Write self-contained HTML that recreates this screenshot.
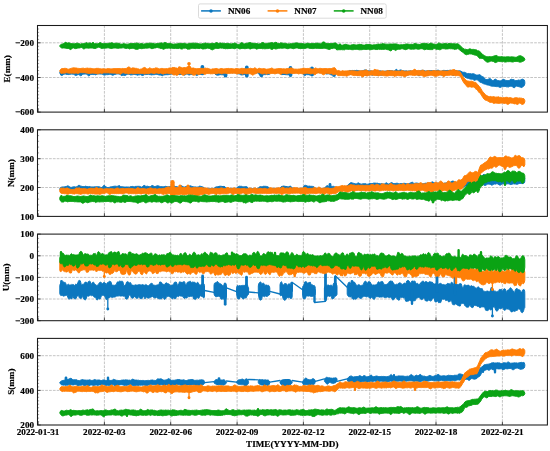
<!DOCTYPE html><html><head><meta charset="utf-8"><title>NN06 NN07 NN08 ENU time series</title><style>html,body{margin:0;padding:0;background:#fff;width:550px;height:451px;overflow:hidden}svg{display:block;filter:blur(0.3px)}</style></head><body><svg width="550" height="451" viewBox="0 0 550 451"><rect width="550" height="451" fill="#fff"/><clipPath id="c0"><rect x="37.5" y="25.5" width="509.9" height="86.6"/></clipPath><g stroke="#b0b0b0" stroke-width="0.75" stroke-dasharray="2.7 1.15"><line x1="104.4" y1="25.5" x2="104.4" y2="112.1"/><line x1="170.7" y1="25.5" x2="170.7" y2="112.1"/><line x1="237.1" y1="25.5" x2="237.1" y2="112.1"/><line x1="303.4" y1="25.5" x2="303.4" y2="112.1"/><line x1="369.7" y1="25.5" x2="369.7" y2="112.1"/><line x1="436" y1="25.5" x2="436" y2="112.1"/><line x1="502.4" y1="25.5" x2="502.4" y2="112.1"/><line x1="37.5" y1="77.5" x2="547.4" y2="77.5"/><line x1="37.5" y1="42.8" x2="547.4" y2="42.8"/></g><g clip-path="url(#c0)"><path d="M59.8,72.3 60.8,70.9 61.8,70.8 62.8,71 63.8,70.7 64.8,70.9 65.8,70.9 66.8,70.7 67.8,70.3 68.8,70.6 69.8,71.1 70.8,71.2 71.8,71.1 72.8,70.8 73.8,70.7 74.8,70.8 75.8,71 76.8,70.9 77.8,70.8 78.8,70.6 79.8,70.2 80.8,70.2 81.8,70.4 82.8,70.6 83.8,70.8 84.8,70.9 85.8,71 86.8,71 87.8,70.2 88.8,69.8 89.8,69.9 90.8,70 91.8,70.1 92.8,70.2 93.8,70.5 94.8,70.8 95.8,70.9 96.8,70 97.8,69.2 98.8,69.7 99.8,70.4 100.8,70 101.8,69.5 102.8,70 103.8,70.7 104.8,71 105.8,71 106.8,71 107.8,70.5 108.8,70.6 109.8,70.4 110.8,69.8 111.8,69.3 112.8,69.9 113.8,70.7 114.8,71.1 115.8,70.9 116.8,71.1 117.8,70.8 118.8,70.6 119.8,70.7 120.8,70.7 121.8,70.9 122.8,70.7 123.8,70.8 124.8,70.9 125.8,70.8 126.8,70.5 127.8,70.7 128.8,70.8 129.8,71.1 130.8,71.3 131.8,71.4 132.8,71.3 133.8,70.9 134.8,70.9 135.8,70.8 136.8,70.6 137.8,70.8 138.8,70.9 139.8,71.1 140.8,71 141.8,70.8 142.8,70.6 143.8,70.5 144.8,70.7 145.8,70.6 146.8,70.4 147.8,70.2 148.8,70.6 149.8,70.2 150.8,69.9 151.8,69.8 152.8,70.3 153.8,70.2 154.8,70 155.8,69.7 156.8,70.5 157.8,70.8 158.8,70.3 159.8,69.8 160.8,70.7 161.8,71 162.8,71 163.8,70.9 164.8,71.2 165.8,71.3 166.8,71.2 167.8,70.9 168.8,70.5 169.8,70.6 170.8,69.7 171.8,69.5 172.8,69.8 173.8,70.8 174.8,70.9 175.8,71 176.8,70.9 177.8,70.7 178.8,70.8 179.8,70.6 180.8,70.9 181.8,70.9 182.8,71.1 183.8,70.8 184.8,71.2 185.8,71 186.8,71 187.8,70.5 188.8,70.5 189.8,70.9 190.8,70.7 191.8,70.6 192.8,70.6 193.8,71 194.8,70.7 195.8,70 196.8,69.9 197.8,69.5 198.8,69.7 199.8,69.7 200.8,69.9 201.8,70.7 202.8,70.7 203.8,71.3 204.5,72.3 204.5,72.9 203.8,73.3 202.8,74 201.8,74.4 200.8,74.4 199.8,74.5 198.8,74.5 197.8,75.1 196.8,75.6 195.8,74.9 194.8,74.4 193.8,74.3 192.8,74.6 191.8,74.5 190.8,74.5 189.8,74.9 188.8,75 187.8,74.3 186.8,73.9 185.8,74.4 184.8,75.2 183.8,74.7 182.8,74.3 181.8,74.3 180.8,74.4 179.8,74.6 178.8,74.5 177.8,74.3 176.8,73.8 175.8,74 174.8,74.1 173.8,74.2 172.8,74.1 171.8,74.1 170.8,74.2 169.8,74.4 168.8,74.6 167.8,74.7 166.8,74.7 165.8,74.7 164.8,74.9 163.8,74.8 162.8,75.7 161.8,75.5 160.8,75.1 159.8,75.1 158.8,74.9 157.8,74.6 156.8,74.4 155.8,74.3 154.8,74.6 153.8,74.7 152.8,74.7 151.8,75 150.8,74.7 149.8,74.7 148.8,74.2 147.8,74.4 146.8,74.5 145.8,74.6 144.8,74.4 143.8,75.1 142.8,75.5 141.8,75.4 140.8,74.6 139.8,74.8 138.8,74.8 137.8,75.3 136.8,74.9 135.8,74.7 134.8,74.5 133.8,74.5 132.8,74.7 131.8,74.8 130.8,75 129.8,74.6 128.8,74.2 127.8,74.2 126.8,74.5 125.8,75.2 124.8,75.5 123.8,75.3 122.8,75.2 121.8,75.7 120.8,75 119.8,74.3 118.8,74 117.8,73.9 116.8,73.9 115.8,74.3 114.8,74.4 113.8,74.9 112.8,75.3 111.8,74.9 110.8,74.4 109.8,74.3 108.8,74.5 107.8,74.7 106.8,74.6 105.8,74.8 104.8,75.1 103.8,75 102.8,74.4 101.8,74.1 100.8,74.1 99.8,74 98.8,74 97.8,73.9 96.8,74.2 95.8,74.9 94.8,74.5 93.8,74.6 92.8,74.4 91.8,74.5 90.8,74.4 89.8,75.4 88.8,76 87.8,75.2 86.8,74.3 85.8,74 84.8,74.1 83.8,74.1 82.8,74.3 81.8,75.3 80.8,75.8 79.8,75.3 78.8,74.5 77.8,74.7 76.8,75.2 75.8,75.5 74.8,75.1 73.8,74.3 72.8,74.2 71.8,74 70.8,74.2 69.8,74.3 68.8,74.6 67.8,74.4 66.8,74.5 65.8,74.1 64.8,74.1 63.8,74.3 62.8,75.1 61.8,75.5 60.8,75.2 59.8,72.9Z" fill="#0b77bf" stroke="#0b77bf" stroke-width="1.0" stroke-linejoin="round"/><path d="M202.4,72.6V66.9M202.4,72.6V73.4" stroke="#0b77bf" stroke-width="3.8" stroke-linecap="round"/><path d="M214,72.3 215,71.4 216,71.2 217,70.4 218,69.9 219,70.1 220,70.5 221,70.2 222,70.2 223,70.4 224,70.7 225,70.7 226,71.4 226.5,72.3 226.5,72.9 226,74 225,74.4 224,74.8 223,74.7 222,74.9 221,74.6 220,74.7 219,74.9 218,75.2 217,75.1 216,74.9 215,74.1 214,72.9Z" fill="#0b77bf" stroke="#0b77bf" stroke-width="1.0" stroke-linejoin="round"/><path d="M225.5,72.6V75.5" stroke="#0b77bf" stroke-width="3.8" stroke-linecap="round"/><path d="M236.5,72.3 237.5,70.9 238.5,71 239.5,70.7 240.5,70 241.5,70.2 242.5,70.4 243.5,70.3 244.5,69.1 245.5,68.7 246.5,69.1 247.5,70.2 248.5,71.2 248.6,72.3 248.6,72.9 248.5,73.2 247.5,74.1 246.5,74.3 245.5,74.3 244.5,74.5 243.5,74.7 242.5,74.9 241.5,75 240.5,74.7 239.5,74.1 238.5,73.9 237.5,73.8 236.5,72.9Z" fill="#0b77bf" stroke="#0b77bf" stroke-width="1.0" stroke-linejoin="round"/><path d="M246.8,72.6V67.4M246.8,72.6V75.5" stroke="#0b77bf" stroke-width="3.8" stroke-linecap="round"/><path d="M258.3,72.3 259.3,71.1 260.3,70.9 261.3,70.7 262.3,70.3 263.3,70.5 264.3,70.4 265.3,71 266.3,70.6 267.3,70.8 268.3,70.4 269.3,70.9 269.8,72 269.8,73.2 269.3,74.6 268.3,74.5 267.3,74.6 266.3,74.2 265.3,74.7 264.3,74.6 263.3,74.6 262.3,74.8 261.3,74.9 260.3,75.4 259.3,74.7 258.3,73.4Z" fill="#0b77bf" stroke="#0b77bf" stroke-width="1.0" stroke-linejoin="round"/><path d="M261.4,72.6V75.3" stroke="#0b77bf" stroke-width="3.8" stroke-linecap="round"/><path d="M280,72.3 281,71.2 282,70.8 283,70.9 284,70.9 285,71 286,70.8 287,70.7 288,69.7 289,69 290,69.2 291,70.2 292,71.7 292.2,72.3 292.2,72.9 292,73.2 291,73.6 290,74.1 289,74.4 288,74.8 287,74.7 286,74.7 285,74.6 284,74.4 283,74.5 282,74.6 281,74.6 280,72.9Z" fill="#0b77bf" stroke="#0b77bf" stroke-width="1.0" stroke-linejoin="round"/><path d="M290.5,72.6V67.9M290.5,72.6V75.1" stroke="#0b77bf" stroke-width="3.8" stroke-linecap="round"/><path d="M302.6,72.3 303.6,70.3 304.6,69.7 305.6,70.1 306.6,71 307.6,70.7 308.6,70.8 309.6,70.7 310.6,70.9 311.6,70.8 312.6,71 313.6,71 314.6,71.5 315.3,72.3 315.3,72.9 314.6,74.1 313.6,74.7 312.6,74.7 311.6,74.9 310.6,74.9 309.6,75 308.6,74.7 307.6,74.7 306.6,74.6 305.6,75.3 304.6,75.8 303.6,74.9 302.6,72.9Z" fill="#0b77bf" stroke="#0b77bf" stroke-width="1.0" stroke-linejoin="round"/><path d="M312,72.6V68.4M312,72.6V74.6" stroke="#0b77bf" stroke-width="3.8" stroke-linecap="round"/><path d="M324.4,72.3 325.4,71.2 326.4,70.8 327.4,71 328.4,70.7 329.4,69.7 330.4,69.1 331.4,69.8 332.4,70.9 333.4,69.9 334.4,69.4 335.4,69.8 336.4,71.5 337,72.3 337,72.9 336.4,73.6 335.4,74.4 334.4,74.6 333.4,74.4 332.4,74.8 331.4,75 330.4,74.6 329.4,74 328.4,73.8 327.4,73.9 326.4,74 325.4,73.6 324.4,72.9Z" fill="#0b77bf" stroke="#0b77bf" stroke-width="1.0" stroke-linejoin="round"/><path d="M334,72.6V75.1" stroke="#0b77bf" stroke-width="3.8" stroke-linecap="round"/><path d="M347.2,72.3 348.2,71.3 349.2,70.6 350.2,70.6 351.2,70.7 352.2,70.4 353.2,70.6 354.2,70.4 355.2,70.6 356.2,70.3 357.2,70.4 358.2,70.6 359.2,70.8 360.2,71 361.2,70.9 362.2,70.8 363.2,70.6 364.2,70 365.2,70 366.2,69.9 367.2,70.7 368.2,70.7 369.2,71 370.2,70.8 371.2,71 372.2,71 373.2,71.2 374.2,71 375.2,70.9 376.2,70.6 377.2,70.8 378.2,70.9 379.2,70.9 380.2,70.8 381.2,71 382.2,71.2 383.2,71.3 384.2,71.2 385.2,71.2 386.2,71.1 387.2,70.8 388.2,70.6 389.2,70.5 390.2,70.6 391.2,70.7 392.2,70.7 393.2,71.1 394.2,71.1 395.2,70.2 396.2,69.3 397.2,69.8 398.2,70.9 399.2,70.4 400.2,69.9 401.2,70 402.2,70.5 403.2,70.7 404.2,70.9 405.2,71 406.2,70.8 407.2,71.2 408.2,71 409.2,71 410.2,70.7 411.2,71.1 412.2,71 413.2,71.2 414.2,71.3 415.2,71.3 416.2,71 417.2,71 418.2,71.2 419.2,71.1 420.2,70.9 421.2,70.4 422.2,70.3 423.2,70.3 424.2,70.6 425.2,71 426.2,71 427.2,70.8 428.2,70.7 429.2,70.5 430.2,70.7 431.2,70.6 432.2,70.8 433.2,70.6 434.2,70.6 435.2,70.9 436.2,70.7 437.2,70.3 438.2,70.1 439.2,70.7 440.2,71.2 441.2,71.2 442.2,70.7 443.2,70.4 444.2,70.4 445.2,70.5 446.2,70.6 447.2,70.4 448.2,70.5 449.2,70.4 450.2,70.1 451.2,70.6 452.2,70.7 453.2,70.8 454.2,70.5 455.2,70.4 456.2,70.5 457.2,70.9 458.2,70.9 459.2,70.8 460.2,70.9 461.2,71.3 462.2,72 463.2,72.3 464.2,72.2 465.2,72.6 466.2,73 467.2,73.7 468.2,73.4 469.2,73.7 470.2,73.6 471.2,74 472.2,73.8 473.2,73.7 474.2,73.9 475.2,74.6 476.2,75 477.2,75.1 478.2,75 479.2,74.7 480.2,74.8 481.2,75.8 482.2,76.8 483.2,76.7 484.2,78.1 485.2,79.1 486.2,79.5 487.2,79.5 488.2,79.2 489.2,78.8 490.2,78.4 491.2,79.5 492.2,80.4 493.2,80.6 494.2,79.7 495.2,79.1 496.2,79.6 497.2,80.4 498.2,80.5 499.2,80.8 500.2,80.9 501.2,80.5 502.2,79.9 503.2,79.3 504.2,79.6 505.2,80.2 506.2,80.4 507.2,80.6 508.2,80.6 509.2,80.5 510.2,79.7 511.2,79.2 512.2,79.6 513.2,79.6 514.2,79.7 515.2,80.7 516.2,80.5 517.2,80.5 518.2,80 519.2,80.2 520.2,80.2 521.2,79.6 522.2,79.1 523.2,79.5 524.2,79.9 524.8,81.8 524.8,83.8 524.2,85.7 523.2,86.5 522.2,87.2 521.2,87.6 520.2,87 519.2,86.8 518.2,86.5 517.2,86.3 516.2,86.1 515.2,87 514.2,87.8 513.2,87.4 512.2,86.5 511.2,86.2 510.2,86.3 509.2,86.5 508.2,87.1 507.2,86.8 506.2,86.8 505.2,86.4 504.2,86.6 503.2,86.6 502.2,86.3 501.2,87.3 500.2,87.3 499.2,87.2 498.2,86.6 497.2,86.6 496.2,86.6 495.2,86.4 494.2,86.3 493.2,86.2 492.2,86.2 491.2,86.1 490.2,85.7 489.2,85.2 488.2,85.1 487.2,84.9 486.2,84.6 485.2,84.1 484.2,84 483.2,83.6 482.2,83 481.2,82.5 480.2,82.3 479.2,81.5 478.2,80.6 477.2,79.8 476.2,79.8 475.2,80.1 474.2,80.4 473.2,79.6 472.2,79.1 471.2,79.2 470.2,79 469.2,78.7 468.2,78.2 467.2,78.2 466.2,77.8 465.2,77.4 464.2,76.4 463.2,76 462.2,75.4 461.2,74.7 460.2,74 459.2,73.9 458.2,74.3 457.2,74.1 456.2,74.2 455.2,74.1 454.2,74.9 453.2,75.4 452.2,75 451.2,74.3 450.2,74.2 449.2,74.2 448.2,74.3 447.2,74.6 446.2,74.9 445.2,75 444.2,75 443.2,75.1 442.2,75.2 441.2,75.1 440.2,74.7 439.2,74.5 438.2,74.5 437.2,74 436.2,73.9 435.2,74 434.2,74.4 433.2,74.4 432.2,74.3 431.2,74.4 430.2,74.6 429.2,74.9 428.2,75.3 427.2,75.4 426.2,74.8 425.2,74.4 424.2,74.5 423.2,74.7 422.2,74.5 421.2,74.3 420.2,75.1 419.2,75.8 418.2,75.5 417.2,74.7 416.2,74.4 415.2,74.3 414.2,74.2 413.2,74.4 412.2,74.4 411.2,74.5 410.2,74.1 409.2,74.5 408.2,75 407.2,75 406.2,75.4 405.2,75.2 404.2,74.7 403.2,75 402.2,75.1 401.2,75.1 400.2,75.4 399.2,74.7 398.2,74 397.2,74.1 396.2,74.5 395.2,75 394.2,75.5 393.2,75 392.2,74.7 391.2,75 390.2,74.8 389.2,74.5 388.2,74.3 387.2,74.2 386.2,74.6 385.2,74.6 384.2,74.8 383.2,74.6 382.2,75.1 381.2,75.3 380.2,75.1 379.2,74.8 378.2,75.4 377.2,75.5 376.2,74.9 375.2,74.5 374.2,74 373.2,74.9 372.2,75.3 371.2,74.8 370.2,74.4 369.2,75 368.2,75 367.2,75.4 366.2,75.6 365.2,75.3 364.2,74.5 363.2,74.4 362.2,74.5 361.2,74.4 360.2,74.8 359.2,74.7 358.2,75.1 357.2,75.3 356.2,74.6 355.2,74.4 354.2,74.6 353.2,74.5 352.2,74.3 351.2,74 350.2,74.4 349.2,74.6 348.2,74.7 347.2,72.9Z" fill="#0b77bf" stroke="#0b77bf" stroke-width="1.0" stroke-linejoin="round"/><line x1="204.5" y1="72.4" x2="214" y2="72.6" stroke="#0b77bf" stroke-width="1.35" stroke-linecap="round"/><line x1="226.5" y1="72.4" x2="236.5" y2="72.6" stroke="#0b77bf" stroke-width="1.35" stroke-linecap="round"/><line x1="248.6" y1="72.4" x2="258.3" y2="72.6" stroke="#0b77bf" stroke-width="1.35" stroke-linecap="round"/><line x1="269.8" y1="72.4" x2="280" y2="72.6" stroke="#0b77bf" stroke-width="1.35" stroke-linecap="round"/><line x1="292.2" y1="72.4" x2="302.6" y2="72.6" stroke="#0b77bf" stroke-width="1.35" stroke-linecap="round"/><line x1="315.3" y1="72.4" x2="324.4" y2="72.6" stroke="#0b77bf" stroke-width="1.35" stroke-linecap="round"/><line x1="337" y1="72.4" x2="347.2" y2="72.6" stroke="#0b77bf" stroke-width="1.35" stroke-linecap="round"/><path d="M59.8,70.6 60.8,69.2 61.8,68.6 62.8,68.5 63.8,68.5 64.8,68.3 65.8,68.4 66.8,68.6 67.8,69.2 68.8,69.2 69.8,68.8 70.8,68.4 71.8,68.2 72.8,67.9 73.8,67.8 74.8,67.9 75.8,68 76.8,68.1 77.8,68.4 78.8,68.4 79.8,68.5 80.8,68.5 81.8,68.3 82.8,68.2 83.8,68.2 84.8,68.6 85.8,68.3 86.8,68.2 87.8,68.1 88.8,68.4 89.8,68.3 90.8,68.3 91.8,68.5 92.8,68.7 93.8,68.8 94.8,68.8 95.8,68.6 96.8,68.3 97.8,68.4 98.8,68.4 99.8,68.8 100.8,68.8 101.8,69 102.8,68.8 103.8,68.7 104.8,69.1 105.8,68.9 106.8,68.9 107.8,68.5 108.8,68.7 109.8,68.7 110.8,68.9 111.8,68.9 112.8,68.7 113.8,68.6 114.8,68.6 115.8,68.6 116.8,68.6 117.8,68.5 118.8,68.5 119.8,68.5 120.8,68.7 121.8,68.7 122.8,68.4 123.8,68.7 124.8,68.5 125.8,68.5 126.8,68.2 127.8,67.3 128.8,66.9 129.8,67.3 130.8,68.3 131.8,68.3 132.8,67.8 133.8,68 134.8,68.2 135.8,68.4 136.8,68.4 137.8,68.9 138.8,68.9 139.8,69.5 140.8,69 141.8,68.9 142.8,68.1 143.8,67.7 144.8,67.4 145.8,68.1 146.8,69 147.8,68.9 148.8,68.5 149.8,67.7 150.8,68.4 151.8,68.8 152.8,68.8 153.8,68.4 154.8,68.4 155.8,67.8 156.8,68.1 157.8,68.2 158.8,68.8 159.8,68.9 160.8,68.6 161.8,68.4 162.8,68.5 163.8,68.8 164.8,68.7 165.8,68.7 166.8,68.6 167.8,68.8 168.8,68.1 169.8,68 170.8,67.9 171.8,68 172.8,67.3 173.8,67.6 174.8,67.5 175.8,68.1 176.8,68 177.8,68.5 178.8,68.3 179.8,68.3 180.8,67.9 181.8,67.5 182.8,68 183.8,67.5 184.8,67.5 185.8,67.7 186.8,67.2 187.8,67.5 188.8,67.6 189.8,68.6 190.8,68.3 191.8,68.1 192.8,68.1 193.8,68 194.8,68.5 195.8,68.6 196.8,68.8 197.8,68.6 198.8,68.6 199.8,68.5 200.8,68.5 201.8,68.3 202.8,68.5 203.8,68.4 204.8,68.4 205.8,68 206.8,68.5 207.8,68.3 208.8,68.8 209.8,69 210.8,69.4 211.8,69.2 212.8,68.8 213.8,68.9 214.8,68.7 215.8,68.5 216.8,68.5 217.8,68.9 218.8,69.2 219.8,68.9 220.8,68.5 221.8,68.5 222.8,68.8 223.8,69 224.8,68.8 225.8,68.7 226.8,68.5 227.8,68.6 228.8,68.4 229.8,68.8 230.8,68.6 231.8,68.6 232.8,68.8 233.8,68.9 234.8,69 235.8,68.5 236.8,68.6 237.8,68.7 238.8,68.8 239.8,68.9 240.8,68.6 241.8,68.3 242.8,68.4 243.8,68.6 244.8,68.6 245.8,68.9 246.8,68.8 247.8,68.7 248.8,68.5 249.8,68.5 250.8,68.2 251.8,68.6 252.8,68.7 253.8,68.5 254.8,67.7 255.8,68.3 256.8,69.1 257.8,69.1 258.8,68.3 259.8,68.3 260.8,68.7 261.8,68.8 262.8,68.8 263.8,68.6 264.8,68.8 265.8,69.1 266.8,69.3 267.8,69 268.8,68.9 269.8,68.7 270.8,68.4 271.8,68 272.8,68.5 273.8,69.2 274.8,69.1 275.8,69 276.8,68.8 277.8,68.7 278.8,68.5 279.8,68.6 280.8,68.6 281.8,68.7 282.8,68.9 283.8,68.7 284.8,68.9 285.8,68.9 286.8,68.5 287.8,68.6 288.8,68.6 289.8,68.3 290.8,67.8 291.8,68 292.8,68.7 293.8,68.9 294.8,69.2 295.8,69.1 296.8,69.2 297.8,69.2 298.8,69 299.8,69 300.8,68.8 301.8,68.7 302.8,68.3 303.8,68.1 304.8,68.4 305.8,68.5 306.8,68.6 307.8,68.4 308.8,68.5 309.8,68.2 310.8,68.8 311.8,69.1 312.8,69.1 313.8,68.9 314.8,68.3 315.8,67.9 316.8,68.5 317.8,68.8 318.8,68.7 319.8,68.3 320.8,68.4 321.8,68.6 322.8,68.7 323.8,68.6 324.8,68.5 325.8,68.5 326.8,68.6 327.8,68.8 328.8,68.6 329.8,68.5 330.8,68.8 331.8,68.4 332.8,68 333.8,67.8 334.8,67.7 335.8,69.1 336.8,70.6 337.8,70.8 338.8,70.4 339.8,70.9 340.8,71.3 341.8,71 342.8,70.6 343.8,71.1 344.8,71 345.8,70.9 346.8,70.9 347.8,70.8 348.8,70.9 349.8,70.6 350.8,71 351.8,70.6 352.8,70.9 353.8,70.8 354.8,71 355.8,71.1 356.8,71.2 357.8,71.2 358.8,71 359.8,70.8 360.8,70.8 361.8,70.7 362.8,70.7 363.8,70.6 364.8,70.4 365.8,69.9 366.8,70.2 367.8,70.8 368.8,71.3 369.8,71.2 370.8,70.9 371.8,70.6 372.8,70.9 373.8,70 374.8,69.3 375.8,69.8 376.8,70 377.8,70 378.8,70.4 379.8,71.2 380.8,71.2 381.8,71.1 382.8,70.8 383.8,71.1 384.8,71.4 385.8,71.2 386.8,70.9 387.8,70.5 388.8,70.8 389.8,70.9 390.8,70.7 391.8,70.8 392.8,70.9 393.8,71.1 394.8,70.9 395.8,71 396.8,71.1 397.8,71 398.8,71 399.8,71.1 400.8,71.1 401.8,70.5 402.8,70.8 403.8,71.1 404.8,71.4 405.8,71.2 406.8,71.2 407.8,71.3 408.8,71.1 409.8,71.1 410.8,70.8 411.8,70.8 412.8,70.5 413.8,69.5 414.8,69.3 415.8,69.9 416.8,70.8 417.8,70.5 418.8,70.4 419.8,70.6 420.8,70.9 421.8,70.5 422.8,70.1 423.8,70.5 424.8,71.2 425.8,71.2 426.8,70.9 427.8,70.7 428.8,70.6 429.8,71 430.8,71.1 431.8,71.1 432.8,70.7 433.8,70.7 434.8,70.6 435.8,70.9 436.8,70.8 437.8,70.8 438.8,70.8 439.8,71 440.8,70.9 441.8,71 442.8,70.8 443.8,71.1 444.8,70.9 445.8,71.1 446.8,71.1 447.8,71.1 448.8,70.7 449.8,70.4 450.8,70.4 451.8,70.1 452.8,69.8 453.8,69.6 454.8,69.7 455.8,70.7 456.8,70.5 457.8,71 458.8,71.2 459.8,71.5 460.8,73 461.8,74.6 462.8,76.5 463.8,77.7 464.8,78.9 465.8,79.9 466.8,80.9 467.8,81 468.8,81.2 469.8,81.4 470.8,81.3 471.8,81.2 472.8,81.6 473.8,82.1 474.8,82.4 475.8,82.4 476.8,83.6 477.8,84.7 478.8,86 479.8,86.9 480.8,88.5 481.8,90.3 482.8,91.7 483.8,92.8 484.8,94 485.8,94.9 486.8,95.6 487.8,96.1 488.8,96.6 489.8,96.7 490.8,96.4 491.8,96.9 492.8,96.8 493.8,96.6 494.8,97 495.8,97.2 496.8,97 497.8,97 498.8,96.8 499.8,97.5 500.8,97.3 501.8,97.7 502.8,97.9 503.8,97.4 504.8,97.8 505.8,97.3 506.8,97.3 507.8,97.5 508.8,98 509.8,97.6 510.8,97.7 511.8,98.1 512.8,98.4 513.8,98.3 514.8,97.8 515.8,97.7 516.8,97.7 517.8,98 518.8,98.2 519.8,97.9 520.8,98.2 521.8,98.2 522.8,98.6 523.8,98.6 524.8,100.4 524.8,101.9 523.8,103.9 522.8,104.3 521.8,104.6 520.8,103.6 519.8,102.9 518.8,103.6 517.8,104.4 516.8,104.3 515.8,103.7 514.8,103.9 513.8,103.7 512.8,103.2 511.8,103.2 510.8,102.9 509.8,103.2 508.8,104.1 507.8,104.3 506.8,104.2 505.8,103.1 504.8,103.5 503.8,103.4 502.8,103 501.8,103.1 500.8,103.1 499.8,103.3 498.8,103.4 497.8,103.3 496.8,103.2 495.8,103 494.8,103.2 493.8,103.5 492.8,102.8 491.8,102.3 490.8,102.4 489.8,102.3 488.8,101.7 487.8,101.1 486.8,100.5 485.8,100.3 484.8,99.8 483.8,98.9 482.8,97.4 481.8,95.9 480.8,94 479.8,93.2 478.8,92.2 477.8,90.8 476.8,89.6 475.8,89 474.8,88.1 473.8,86.9 472.8,87 471.8,87.3 470.8,86.9 469.8,86.7 468.8,87 467.8,87.1 466.8,86.5 465.8,85 464.8,84 463.8,82.8 462.8,81.1 461.8,79.2 460.8,77.3 459.8,75.9 458.8,75.7 457.8,75.6 456.8,75.5 455.8,75.9 454.8,75.5 453.8,75.3 452.8,75.3 451.8,75.3 450.8,75 449.8,75.3 448.8,75.3 447.8,75.5 446.8,75.3 445.8,75.4 444.8,76.1 443.8,76.6 442.8,76 441.8,75.3 440.8,75.1 439.8,75.1 438.8,75.5 437.8,75.8 436.8,76.1 435.8,76.3 434.8,76.2 433.8,75.9 432.8,75.6 431.8,75.3 430.8,75.3 429.8,75.2 428.8,75.6 427.8,75.8 426.8,75.9 425.8,76.2 424.8,76.4 423.8,76.4 422.8,76 421.8,75.5 420.8,75.3 419.8,75.4 418.8,75.3 417.8,75.3 416.8,75.1 415.8,75.3 414.8,75.6 413.8,75.3 412.8,75.4 411.8,75.1 410.8,75.1 409.8,75 408.8,75.1 407.8,75.4 406.8,75.7 405.8,76.3 404.8,76.7 403.8,76.5 402.8,75.7 401.8,76.1 400.8,75.7 399.8,75.7 398.8,75.7 397.8,75.4 396.8,75.9 395.8,75.8 394.8,76.6 393.8,75.8 392.8,75.7 391.8,75.6 390.8,75.6 389.8,75.5 388.8,75.7 387.8,75.9 386.8,76 385.8,75.9 384.8,75.8 383.8,75.7 382.8,75.6 381.8,75.2 380.8,75.3 379.8,75.4 378.8,75.9 377.8,75.6 376.8,75.5 375.8,75.5 374.8,75.5 373.8,75.4 372.8,75.1 371.8,75.1 370.8,75.1 369.8,75.2 368.8,75.2 367.8,75.8 366.8,75.9 365.8,75.7 364.8,75 363.8,76.4 362.8,76.8 361.8,76.7 360.8,75.5 359.8,75.7 358.8,75.6 357.8,75.7 356.8,75.5 355.8,75.4 354.8,75.6 353.8,75.6 352.8,75.3 351.8,75 350.8,74.6 349.8,75 348.8,75.1 347.8,75.7 346.8,76.2 345.8,75.8 344.8,75.7 343.8,75.7 342.8,75.7 341.8,75.5 340.8,75.5 339.8,75.6 338.8,75.7 337.8,75.4 336.8,74.6 335.8,74.2 334.8,74.2 333.8,74.8 332.8,74.4 331.8,73.7 330.8,73.7 329.8,73.9 328.8,73.4 327.8,73.4 326.8,73.2 325.8,73.4 324.8,74.1 323.8,74.8 322.8,74.6 321.8,73.8 320.8,73.3 319.8,73.3 318.8,72.8 317.8,73 316.8,73.2 315.8,74.3 314.8,74.8 313.8,74.1 312.8,73.6 311.8,73.7 310.8,73.9 309.8,73.7 308.8,73.6 307.8,73.3 306.8,73.3 305.8,73.3 304.8,73.7 303.8,73.8 302.8,73.9 301.8,73.7 300.8,73.4 299.8,73.5 298.8,74 297.8,73.6 296.8,73.3 295.8,73.3 294.8,73.4 293.8,73.5 292.8,73.5 291.8,73.5 290.8,73.2 289.8,73.1 288.8,73.2 287.8,73.6 286.8,74 285.8,73.6 284.8,73.4 283.8,73.4 282.8,73.1 281.8,73.9 280.8,74.2 279.8,74.2 278.8,73.2 277.8,73.1 276.8,73.4 275.8,73.7 274.8,73.9 273.8,73.5 272.8,73.5 271.8,73.4 270.8,73.7 269.8,73.7 268.8,73.4 267.8,73.6 266.8,74.1 265.8,74.1 264.8,73.3 263.8,73.7 262.8,73.9 261.8,73.8 260.8,73.5 259.8,72.8 258.8,72.8 257.8,72.6 256.8,73.2 255.8,73.7 254.8,73.9 253.8,74.6 252.8,75.2 251.8,74.6 250.8,74 249.8,73.7 248.8,73.8 247.8,73.5 246.8,73.9 245.8,73.6 244.8,73.5 243.8,73.4 242.8,74.3 241.8,73.8 240.8,73.7 239.8,73.5 238.8,73.4 237.8,73.7 236.8,74.1 235.8,73.5 234.8,73.3 233.8,73.1 232.8,73.4 231.8,73.2 230.8,73.3 229.8,73.4 228.8,73.4 227.8,73.5 226.8,73.6 225.8,73.2 224.8,73.3 223.8,73.2 222.8,73.6 221.8,73.9 220.8,73.6 219.8,73.4 218.8,73 217.8,73.5 216.8,73.7 215.8,73.9 214.8,73.6 213.8,73.5 212.8,73.8 211.8,73.7 210.8,73.9 209.8,73.6 208.8,73.6 207.8,73.5 206.8,73.5 205.8,74 204.8,74.4 203.8,74 202.8,73.4 201.8,73.3 200.8,73.7 199.8,74.2 198.8,74.4 197.8,74.3 196.8,73.8 195.8,74.6 194.8,75 193.8,75.2 192.8,75 191.8,74.1 190.8,74 189.8,73.7 188.8,73.7 187.8,73.7 186.8,73.7 185.8,74 184.8,74.4 183.8,75.1 182.8,75.4 181.8,74.4 180.8,73.7 179.8,73.5 178.8,74.1 177.8,74.9 176.8,75.6 175.8,74.8 174.8,74.9 173.8,75 172.8,74.5 171.8,73.7 170.8,73.8 169.8,73.8 168.8,73.6 167.8,73.3 166.8,73.1 165.8,73.6 164.8,73.3 163.8,74 162.8,73.9 161.8,73.7 160.8,73 159.8,73.3 158.8,73.5 157.8,73.2 156.8,73 155.8,73 154.8,73.5 153.8,73.5 152.8,73.3 151.8,73.1 150.8,72.9 149.8,73.4 148.8,73.6 147.8,73.7 146.8,73.5 145.8,73.6 144.8,74 143.8,73.8 142.8,73.4 141.8,73.5 140.8,73.3 139.8,73.6 138.8,73.5 137.8,73.4 136.8,73.4 135.8,73.5 134.8,73.6 133.8,73.8 132.8,73.8 131.8,73.3 130.8,73.5 129.8,73.6 128.8,74 127.8,73.8 126.8,73.2 125.8,73.4 124.8,73.2 123.8,72.8 122.8,72.8 121.8,73.3 120.8,74.3 119.8,73.8 118.8,73.3 117.8,73.4 116.8,73.4 115.8,73.2 114.8,73.1 113.8,73.2 112.8,73.1 111.8,73.1 110.8,72.9 109.8,73.1 108.8,72.8 107.8,72.9 106.8,72.8 105.8,72.9 104.8,72.8 103.8,72.8 102.8,73.2 101.8,73.4 100.8,73.1 99.8,73.2 98.8,73.5 97.8,74 96.8,73.6 95.8,73.5 94.8,73.3 93.8,73.3 92.8,73.1 91.8,73.2 90.8,73.3 89.8,73.4 88.8,73.4 87.8,73.3 86.8,73.1 85.8,73 84.8,72.7 83.8,72.7 82.8,72.7 81.8,72.7 80.8,72.6 79.8,72.7 78.8,73.2 77.8,73.5 76.8,73.1 75.8,73.1 74.8,73.2 73.8,73.3 72.8,73 71.8,73.3 70.8,73.1 69.8,73.2 68.8,73.1 67.8,73 66.8,72.6 65.8,72.9 64.8,73.1 63.8,73.2 62.8,73.1 61.8,73.4 60.8,73.3 59.8,71.2Z" fill="#ff7f07" stroke="#ff7f07" stroke-width="1.0" stroke-linejoin="round"/><path d="M189,71V68.2" stroke="#ff7f07" stroke-width="4.8" stroke-linecap="round"/><path d="M134,71V69.4" stroke="#ff7f07" stroke-width="2.8" stroke-linecap="round"/><path d="M179.5,71V67.9" stroke="#ff7f07" stroke-width="3.3" stroke-linecap="round"/><line x1="189" y1="67.5" x2="189" y2="63.7" stroke="#ff7f07" stroke-width="1.3" stroke-linecap="round"/><circle cx="189" cy="63.7" r="1.8" fill="#ff7f07"/><path d="M59.8,45.7 60.8,44.5 61.8,44.2 62.8,43.9 63.8,43.6 64.8,42.6 65.8,42.3 66.8,42.9 67.8,43.1 68.8,42.8 69.8,43.1 70.8,43.7 71.8,43.5 72.8,43.7 73.8,43.7 74.8,43.8 75.8,43.4 76.8,43.3 77.8,43.2 78.8,43.7 79.8,43.8 80.8,44.2 81.8,43.6 82.8,43.8 83.8,43.6 84.8,43.5 85.8,43 86.8,42.6 87.8,43.4 88.8,43.2 89.8,42.9 90.8,43 91.8,43.8 92.8,43.6 93.8,43.6 94.8,43.8 95.8,43.6 96.8,43.8 97.8,43.8 98.8,43.3 99.8,42.7 100.8,42.7 101.8,43.5 102.8,43.6 103.8,43.7 104.8,43.4 105.8,43.5 106.8,43.4 107.8,43.7 108.8,43.3 109.8,43 110.8,43.1 111.8,42.7 112.8,43.1 113.8,43.5 114.8,43.4 115.8,43.3 116.8,43.2 117.8,43.2 118.8,43.5 119.8,43.7 120.8,44.2 121.8,44.1 122.8,44 123.8,43.5 124.8,43.9 125.8,44 126.8,44.2 127.8,44.2 128.8,43.9 129.8,43.6 130.8,43.5 131.8,43.6 132.8,43.5 133.8,43.5 134.8,43.4 135.8,43.4 136.8,42.9 137.8,43.3 138.8,43.7 139.8,44 140.8,43.6 141.8,43.6 142.8,43.8 143.8,44.2 144.8,43.8 145.8,43.7 146.8,43.4 147.8,43.5 148.8,43.2 149.8,43.2 150.8,43.3 151.8,43.3 152.8,43.3 153.8,43.6 154.8,43.9 155.8,43.8 156.8,43.5 157.8,43.5 158.8,43.6 159.8,43 160.8,43 161.8,42.9 162.8,43.5 163.8,42.9 164.8,42.4 165.8,42.7 166.8,43.2 167.8,43.6 168.8,43.6 169.8,43.5 170.8,43.3 171.8,44 172.8,44.1 173.8,44.3 174.8,43.9 175.8,43.9 176.8,43.9 177.8,43.7 178.8,43.5 179.8,43.2 180.8,43.5 181.8,43.6 182.8,43.6 183.8,43.3 184.8,43.4 185.8,43.8 186.8,44 187.8,43.9 188.8,43.6 189.8,43.4 190.8,43.3 191.8,43.3 192.8,43.3 193.8,43.2 194.8,43.2 195.8,43.2 196.8,43.5 197.8,43.6 198.8,43.7 199.8,43.9 200.8,43.9 201.8,43.9 202.8,43.5 203.8,43.7 204.8,43.3 205.8,43 206.8,43.4 207.8,43.6 208.8,43.7 209.8,43.7 210.8,43.6 211.8,43.4 212.8,43.3 213.8,43.6 214.8,43.6 215.8,42.8 216.8,42.6 217.8,43 218.8,43.7 219.8,43.1 220.8,43.1 221.8,43.3 222.8,43.2 223.8,43.5 224.8,43.4 225.8,43.6 226.8,43.5 227.8,43.4 228.8,43.6 229.8,43.8 230.8,43.8 231.8,43.9 232.8,43.5 233.8,43.4 234.8,43 235.8,43.5 236.8,43.9 237.8,44.5 238.8,44.4 239.8,44.2 240.8,42.8 241.8,42.7 242.8,43.1 243.8,44 244.8,43.8 245.8,43.4 246.8,43.3 247.8,43.2 248.8,42.7 249.8,42.6 250.8,42.7 251.8,43.3 252.8,43.1 253.8,43.5 254.8,43.4 255.8,43.5 256.8,43.6 257.8,43.7 258.8,44.1 259.8,43.7 260.8,43.6 261.8,42.7 262.8,42.5 263.8,42.8 264.8,43.5 265.8,43.7 266.8,43.6 267.8,43.2 268.8,43.1 269.8,43.1 270.8,42.8 271.8,42.5 272.8,42.8 273.8,43.3 274.8,42.5 275.8,42.3 276.8,42.6 277.8,43.6 278.8,43.4 279.8,43.4 280.8,42.8 281.8,43.1 282.8,43.2 283.8,43.3 284.8,43.4 285.8,43.4 286.8,43.7 287.8,44 288.8,43.8 289.8,43.9 290.8,43.6 291.8,43.8 292.8,43.5 293.8,43.4 294.8,43.1 295.8,42.9 296.8,42.9 297.8,43.1 298.8,43.3 299.8,43.5 300.8,43.6 301.8,43.6 302.8,43.6 303.8,43.8 304.8,44 305.8,43.8 306.8,43.2 307.8,43.3 308.8,43.5 309.8,43.7 310.8,43.6 311.8,43.4 312.8,43.5 313.8,43.4 314.8,43.6 315.8,43.3 316.8,43.3 317.8,43.1 318.8,43.4 319.8,43.7 320.8,43.8 321.8,42.9 322.8,42.1 323.8,41.9 324.8,42.3 325.8,43.3 326.8,43.6 327.8,43.6 328.8,43.6 329.8,43.5 330.8,43.6 331.8,43.5 332.8,43.5 333.8,43.1 334.8,43.1 335.8,43 336.8,43.9 337.8,44.4 338.8,45 339.8,44.9 340.8,45.3 341.8,45.1 342.8,45.2 343.8,44.7 344.8,44.4 345.8,44.3 346.8,44.6 347.8,44.9 348.8,45 349.8,45.3 350.8,45.2 351.8,44.8 352.8,44.7 353.8,44.5 354.8,44.8 355.8,44.9 356.8,45 357.8,44.7 358.8,44.6 359.8,44.3 360.8,44.5 361.8,44.6 362.8,45.1 363.8,45.1 364.8,45.1 365.8,44.6 366.8,44.4 367.8,44.5 368.8,44.5 369.8,44.5 370.8,44.7 371.8,45 372.8,45.1 373.8,44.8 374.8,44.8 375.8,44.7 376.8,44.4 377.8,44.2 378.8,44.1 379.8,44.3 380.8,44 381.8,44 382.8,43.5 383.8,43.9 384.8,43.9 385.8,44.2 386.8,44.2 387.8,44.2 388.8,44.2 389.8,44 390.8,44 391.8,44.1 392.8,44.1 393.8,43.9 394.8,43.9 395.8,43.9 396.8,44.1 397.8,44.4 398.8,44.7 399.8,44.9 400.8,44.7 401.8,44.7 402.8,44.8 403.8,44.5 404.8,44.5 405.8,44 406.8,44 407.8,44.1 408.8,44.3 409.8,44.4 410.8,44.3 411.8,44.3 412.8,44.5 413.8,43.9 414.8,43.4 415.8,43.7 416.8,43.9 417.8,44.3 418.8,44.3 419.8,44.6 420.8,44 421.8,43.6 422.8,43.4 423.8,43.5 424.8,43.4 425.8,43.4 426.8,43.6 427.8,43.9 428.8,44.1 429.8,43.5 430.8,43.1 431.8,43.4 432.8,43.9 433.8,44.1 434.8,44.2 435.8,44.5 436.8,44.3 437.8,43.7 438.8,42.9 439.8,43.4 440.8,43.8 441.8,43.9 442.8,43.9 443.8,43.7 444.8,43.5 445.8,43.4 446.8,43.8 447.8,44.1 448.8,44.1 449.8,43.7 450.8,43.6 451.8,43.7 452.8,43.8 453.8,43.7 454.8,43.8 455.8,44 456.8,43.8 457.8,43.8 458.8,44.3 459.8,45.3 460.8,46.3 461.8,47.2 462.8,48.2 463.8,48.7 464.8,49.4 465.8,49.2 466.8,49.6 467.8,49.7 468.8,49.2 469.8,48.8 470.8,49.1 471.8,49.5 472.8,49.4 473.8,49.4 474.8,49.7 475.8,49.8 476.8,50.1 477.8,51 478.8,50.8 479.8,51.5 480.8,52.4 481.8,53.9 482.8,54.5 483.8,55.2 484.8,55.9 485.8,56.3 486.8,56.8 487.8,56.7 488.8,56.8 489.8,56.6 490.8,56.8 491.8,56.7 492.8,56.4 493.8,56.1 494.8,55.8 495.8,55.6 496.8,55.5 497.8,56.4 498.8,56.8 499.8,56.8 500.8,56.8 501.8,56.6 502.8,56.9 503.8,56.9 504.8,56.9 505.8,57 506.8,56.8 507.8,56.8 508.8,56.8 509.8,57 510.8,56.9 511.8,56.8 512.8,56.9 513.8,57 514.8,57.2 515.8,57.3 516.8,57.1 517.8,56.5 518.8,55.9 519.8,55.8 520.8,55.8 521.8,56.3 522.8,56.9 523.8,57.4 524.8,59.1 524.8,59.7 523.8,61 522.8,61.3 521.8,61.8 520.8,62.1 519.8,62.2 518.8,61.8 517.8,61.6 516.8,61.4 515.8,61.5 514.8,61.4 513.8,61.8 512.8,62 511.8,61.9 510.8,61.7 509.8,61.6 508.8,61.7 507.8,61.6 506.8,61.8 505.8,62 504.8,62.1 503.8,61.6 502.8,61.6 501.8,61.7 500.8,61.6 499.8,61.6 498.8,61.3 497.8,61.6 496.8,62.1 495.8,62.6 494.8,62.4 493.8,61.6 492.8,61.4 491.8,61.1 490.8,61.1 489.8,61.6 488.8,61.9 487.8,62.2 486.8,62 485.8,61.3 484.8,60.4 483.8,59.5 482.8,58.5 481.8,58.4 480.8,58.2 479.8,58.5 478.8,57.7 477.8,56.6 476.8,55.5 475.8,55.2 474.8,55.1 473.8,54.7 472.8,54.5 471.8,54 470.8,54 469.8,53.8 468.8,54.2 467.8,54.2 466.8,54.8 465.8,54.4 464.8,54.2 463.8,52.9 462.8,52.3 461.8,51.7 460.8,51.1 459.8,49.9 458.8,49.2 457.8,48.5 456.8,49.1 455.8,49.1 454.8,49.5 453.8,49 452.8,48.9 451.8,48.7 450.8,48.8 449.8,48.6 448.8,48.7 447.8,48.9 446.8,48.9 445.8,49.1 444.8,48.8 443.8,48.7 442.8,48.6 441.8,48.8 440.8,49.5 439.8,49.8 438.8,49.5 437.8,49.2 436.8,49.4 435.8,49.1 434.8,48.6 433.8,48.6 432.8,49.5 431.8,49.6 430.8,49.6 429.8,49.6 428.8,49.5 427.8,49.5 426.8,49.1 425.8,49.4 424.8,49.8 423.8,49.4 422.8,48.9 421.8,48.7 420.8,48.7 419.8,49 418.8,49.2 417.8,49.2 416.8,48.9 415.8,48.8 414.8,49 413.8,49.2 412.8,49.1 411.8,49.2 410.8,49.2 409.8,49 408.8,48.6 407.8,48.9 406.8,49.3 405.8,49.7 404.8,49.5 403.8,49.2 402.8,48.8 401.8,48.7 400.8,49.1 399.8,49.3 398.8,49.2 397.8,49.3 396.8,49.7 395.8,50.5 394.8,49.9 393.8,49.6 392.8,49.3 391.8,50.3 390.8,50.9 389.8,50.6 388.8,49.9 387.8,49.7 386.8,49.6 385.8,49.1 384.8,49.2 383.8,49.4 382.8,49.3 381.8,49.5 380.8,49.2 379.8,49.5 378.8,49 377.8,49.5 376.8,49.5 375.8,49.6 374.8,49.2 373.8,49.1 372.8,49.3 371.8,49.5 370.8,49.7 369.8,49.7 368.8,49.3 367.8,49.3 366.8,49.5 365.8,49.5 364.8,49.4 363.8,49.3 362.8,49.5 361.8,49.7 360.8,49.7 359.8,49.8 358.8,49.7 357.8,49.4 356.8,49.3 355.8,49.4 354.8,49.3 353.8,49.6 352.8,49.7 351.8,49.7 350.8,49.4 349.8,49.2 348.8,49.4 347.8,49.3 346.8,49.3 345.8,49 344.8,49.8 343.8,49.7 342.8,49.8 341.8,49.6 340.8,49.7 339.8,49.7 338.8,49.7 337.8,49.8 336.8,50 335.8,48.7 334.8,48.3 333.8,48.1 332.8,48.5 331.8,48.4 330.8,48.8 329.8,49.4 328.8,49.4 327.8,49.1 326.8,48.8 325.8,48.4 324.8,48.3 323.8,48.2 322.8,48.4 321.8,48.4 320.8,48.5 319.8,48.4 318.8,48.4 317.8,48.3 316.8,48.4 315.8,48.2 314.8,48.3 313.8,48.5 312.8,48.6 311.8,48.5 310.8,48.4 309.8,48.4 308.8,48.1 307.8,47.8 306.8,47.9 305.8,48.3 304.8,48.6 303.8,48.4 302.8,48.5 301.8,48.4 300.8,48.7 299.8,48.4 298.8,48.5 297.8,48.1 296.8,47.9 295.8,48.1 294.8,48.3 293.8,48.7 292.8,48.6 291.8,48.3 290.8,48.1 289.8,48.1 288.8,48.5 287.8,48.7 286.8,48.6 285.8,48.2 284.8,48 283.8,48.1 282.8,48.2 281.8,48.3 280.8,48.1 279.8,48.3 278.8,48.2 277.8,48.5 276.8,48.8 275.8,49 274.8,48.7 273.8,48.4 272.8,49.2 271.8,49.4 270.8,49.1 269.8,48.2 268.8,48.5 267.8,48.6 266.8,48.6 265.8,48.7 264.8,48.8 263.8,48.6 262.8,48.8 261.8,48.4 260.8,48.5 259.8,48.4 258.8,48.5 257.8,48.7 256.8,49.2 255.8,48.7 254.8,48.3 253.8,48.2 252.8,48.3 251.8,48.4 250.8,48.9 249.8,48.9 248.8,48.3 247.8,48.2 246.8,48.4 245.8,48.6 244.8,48.7 243.8,48.5 242.8,48.4 241.8,48.4 240.8,48.7 239.8,48.9 238.8,48.5 237.8,48.1 236.8,47.9 235.8,48.3 234.8,48.7 233.8,48.6 232.8,48.3 231.8,48.2 230.8,48.4 229.8,48.5 228.8,48.5 227.8,48.7 226.8,48.5 225.8,48.8 224.8,48.5 223.8,48.6 222.8,48.1 221.8,48.2 220.8,48 219.8,48.1 218.8,48.4 217.8,48.5 216.8,48.4 215.8,48.2 214.8,48.7 213.8,49.1 212.8,49.8 211.8,49.7 210.8,49.3 209.8,48.5 208.8,48.4 207.8,48.1 206.8,48.3 205.8,48.7 204.8,48.7 203.8,48.9 202.8,49 201.8,48.7 200.8,48.1 199.8,48.5 198.8,48.5 197.8,48.4 196.8,48.2 195.8,48.6 194.8,48.5 193.8,48.4 192.8,48.3 191.8,48.3 190.8,48.6 189.8,49.1 188.8,49.1 187.8,49.3 186.8,48.7 185.8,48.1 184.8,48.3 183.8,48 182.8,48.8 181.8,49 180.8,48.9 179.8,48.1 178.8,48.5 177.8,48.5 176.8,48.6 175.8,48.3 174.8,48.5 173.8,48.4 172.8,48.4 171.8,48.1 170.8,48.5 169.8,48.2 168.8,48.1 167.8,48.3 166.8,48.2 165.8,48.3 164.8,48.7 163.8,49.3 162.8,49 161.8,48.4 160.8,48.6 159.8,48.1 158.8,47.9 157.8,47.6 156.8,47.5 155.8,47.9 154.8,47.9 153.8,48.2 152.8,48.5 151.8,48.7 150.8,48.2 149.8,47.8 148.8,47.9 147.8,48.1 146.8,48.2 145.8,48.1 144.8,48.3 143.8,48.3 142.8,48.5 141.8,48.7 140.8,48.6 139.8,48.3 138.8,48.8 137.8,49.3 136.8,49.3 135.8,49.3 134.8,48.9 133.8,48.4 132.8,48.3 131.8,48.4 130.8,48.4 129.8,49 128.8,48.6 127.8,48.1 126.8,48.4 125.8,48.4 124.8,48.2 123.8,47.8 122.8,47.8 121.8,48 120.8,48.1 119.8,48 118.8,48.3 117.8,48.3 116.8,48.2 115.8,48 114.8,48 113.8,48 112.8,48.2 111.8,48.5 110.8,48.4 109.8,48.2 108.8,47.9 107.8,47.8 106.8,48 105.8,48.1 104.8,48.3 103.8,48.2 102.8,48.3 101.8,48.5 100.8,48.1 99.8,47.6 98.8,47.1 97.8,47.5 96.8,47.8 95.8,48.4 94.8,48.5 93.8,48.4 92.8,48.1 91.8,48 90.8,48 89.8,48 88.8,48.2 87.8,48.1 86.8,48.1 85.8,47.9 84.8,48.6 83.8,49 82.8,48.3 81.8,47.5 80.8,47.6 79.8,47.9 78.8,48 77.8,48 76.8,48.4 75.8,48.6 74.8,48.6 73.8,47.9 72.8,48 71.8,48.7 70.8,49.6 69.8,49.2 68.8,48.5 67.8,48.5 66.8,48.4 65.8,48.2 64.8,48.1 63.8,47.9 62.8,48.1 61.8,48 60.8,47.5 59.8,46.3Z" fill="#0aa314" stroke="#0aa314" stroke-width="1.0" stroke-linejoin="round"/><path d="M93,46V43.2M340,47.2V44.7M449,46.4V44.2" stroke="#0aa314" stroke-width="2.4" stroke-linecap="round"/></g><path d="M37.5,108.6h1.6M37.5,105.2h1.6M37.5,101.7h1.6M37.5,98.2h1.6M37.5,94.8h1.6M37.5,91.3h1.6M37.5,87.9h1.6M37.5,84.4h1.6M37.5,80.9h1.6M37.5,74h1.6M37.5,70.5h1.6M37.5,67.1h1.6M37.5,63.6h1.6M37.5,60.1h1.6M37.5,56.7h1.6M37.5,53.2h1.6M37.5,49.7h1.6M37.5,46.3h1.6M37.5,39.4h1.6M37.5,35.9h1.6M37.5,32.4h1.6M37.5,29h1.6M37.5,25.5h1.6" stroke="#555" stroke-width="0.55"/><path d="M37.5,112.1h3.2M37.5,77.5h3.2M37.5,42.8h3.2M38.1,112.1v-3.2M104.4,112.1v-3.2M170.7,112.1v-3.2M237.1,112.1v-3.2M303.4,112.1v-3.2M369.7,112.1v-3.2M436,112.1v-3.2M502.4,112.1v-3.2" stroke="#222" stroke-width="0.8"/><rect x="37.5" y="25.5" width="509.9" height="86.6" fill="none" stroke="#1a1a1a" stroke-width="1.05"/><g font-family="'Liberation Serif','Times New Roman',serif" font-weight="bold" stroke="#000" stroke-width="0.18" font-size="9.15" fill="#000"><text x="34" y="115.3" text-anchor="end">−600</text><text x="34" y="80.7" text-anchor="end">−400</text><text x="34" y="46" text-anchor="end">−200</text></g><text font-family="'Liberation Serif','Times New Roman',serif" font-weight="bold" stroke="#000" stroke-width="0.18" font-size="9.15" fill="#000" text-anchor="middle" transform="translate(9.5,68.8) rotate(-90)">E(mm)</text><clipPath id="c1"><rect x="37.5" y="129.8" width="509.9" height="86.6"/></clipPath><g stroke="#b0b0b0" stroke-width="0.75" stroke-dasharray="2.7 1.15"><line x1="104.4" y1="129.8" x2="104.4" y2="216.4"/><line x1="170.7" y1="129.8" x2="170.7" y2="216.4"/><line x1="237.1" y1="129.8" x2="237.1" y2="216.4"/><line x1="303.4" y1="129.8" x2="303.4" y2="216.4"/><line x1="369.7" y1="129.8" x2="369.7" y2="216.4"/><line x1="436" y1="129.8" x2="436" y2="216.4"/><line x1="502.4" y1="129.8" x2="502.4" y2="216.4"/><line x1="37.5" y1="187.5" x2="547.4" y2="187.5"/><line x1="37.5" y1="158.7" x2="547.4" y2="158.7"/></g><g clip-path="url(#c1)"><path d="M59.8,188.7 60.8,187.3 61.8,187.1 62.8,186.9 63.8,186.9 64.8,186.8 65.8,186.5 66.8,186.3 67.8,185.8 68.8,186.2 69.8,186.9 70.8,187.4 71.8,187.3 72.8,186.9 73.8,186.8 74.8,186.8 75.8,187.1 76.8,186.8 77.8,185.8 78.8,185.3 79.8,185.5 80.8,186.2 81.8,186.3 82.8,186.6 83.8,186.5 84.8,186.6 85.8,186.1 86.8,186.6 87.8,186.6 88.8,186.8 89.8,186.5 90.8,186.9 91.8,186.9 92.8,186.9 93.8,186.9 94.8,186.8 95.8,186.8 96.8,186.7 97.8,186.7 98.8,186.7 99.8,186.9 100.8,187.4 101.8,187.5 102.8,186.4 103.8,185.5 104.8,185.6 105.8,186.8 106.8,187.2 107.8,187.6 108.8,187.4 109.8,187.2 110.8,186.8 111.8,186.8 112.8,186.5 113.8,186.3 114.8,186.2 115.8,186.2 116.8,186.4 117.8,186.2 118.8,185.7 119.8,185.7 120.8,186.7 121.8,186.7 122.8,186.8 123.8,186.9 124.8,187 125.8,187 126.8,186.9 127.8,187 128.8,187 129.8,187.1 130.8,186.5 131.8,186.6 132.8,186.4 133.8,186.8 134.8,186.8 135.8,186.3 136.8,186.4 137.8,186.3 138.8,186.3 139.8,186.4 140.8,186.8 141.8,187.2 142.8,186.3 143.8,185.5 144.8,185.5 145.8,186.4 146.8,186.3 147.8,186.2 148.8,186.6 149.8,186.7 150.8,186.5 151.8,185.6 152.8,185.6 153.8,186.2 154.8,186.6 155.8,186.3 156.8,185.9 157.8,185.7 158.8,186 159.8,186.4 160.8,186.7 161.8,186.6 162.8,186.8 163.8,186.7 164.8,186.5 165.8,186.3 166.8,186.6 167.8,186.8 168.8,186.7 169.8,186.6 170.8,186.5 171.8,186.4 172.8,186 173.8,185.8 174.8,186.2 175.8,186.7 176.8,186.6 177.8,187 178.8,187.2 179.8,186.6 180.8,185.8 181.8,185.8 182.8,186.6 183.8,187 184.8,187 185.8,186.5 186.8,186.5 187.8,185.9 188.8,185.7 189.8,186.1 190.8,185.8 191.8,186.4 192.8,186.6 193.8,186.9 194.8,186.9 195.8,186.9 196.8,187.2 197.8,187 198.8,186.8 199.8,186 200.8,186.4 201.8,186.6 202.8,187 203.8,187.4 204.5,188.6 204.5,189.2 203.8,190.6 202.8,191.3 201.8,191.5 200.8,191.7 199.8,191.1 198.8,191.2 197.8,191.4 196.8,191.7 195.8,191.4 194.8,191.9 193.8,192.1 192.8,191.8 191.8,190.8 190.8,190.9 189.8,191.4 188.8,192 187.8,191.6 186.8,191.2 185.8,191.2 184.8,191.4 183.8,191.4 182.8,191.8 181.8,191.6 180.8,191.1 179.8,190.7 178.8,190.8 177.8,190.9 176.8,191.1 175.8,191 174.8,190.9 173.8,191.1 172.8,190.8 171.8,191.4 170.8,192 169.8,191.7 168.8,191.2 167.8,191.7 166.8,192.1 165.8,191.8 164.8,191.2 163.8,191 162.8,190.9 161.8,190.9 160.8,190.8 159.8,190.8 158.8,190.7 157.8,190.5 156.8,190.4 155.8,190.7 154.8,191.2 153.8,192.4 152.8,192.4 151.8,192 150.8,191.5 149.8,191.9 148.8,192.1 147.8,192.2 146.8,191.4 145.8,191.1 144.8,190.9 143.8,190.9 142.8,190.9 141.8,190.9 140.8,191 139.8,191.1 138.8,191.5 137.8,191.3 136.8,191.4 135.8,190.9 134.8,191.1 133.8,191.1 132.8,191 131.8,191.1 130.8,191.1 129.8,191.3 128.8,191.3 127.8,191.3 126.8,191.3 125.8,191.6 124.8,191.6 123.8,191.2 122.8,191 121.8,191 120.8,191.3 119.8,191.5 118.8,191.9 117.8,191.4 116.8,191.1 115.8,190.8 114.8,191.3 113.8,191.4 112.8,191.2 111.8,190.9 110.8,191.3 109.8,191.1 108.8,191.4 107.8,191.1 106.8,191.2 105.8,191.5 104.8,191.2 103.8,191.5 102.8,191.3 101.8,192.4 100.8,192.3 99.8,191.9 98.8,191.5 97.8,191.2 96.8,191 95.8,191.2 94.8,191.6 93.8,191.3 92.8,191.1 91.8,191.2 90.8,191.2 89.8,191.5 88.8,191.6 87.8,191.2 86.8,190.9 85.8,190.8 84.8,190.7 83.8,190.7 82.8,191.3 81.8,191.7 80.8,191.2 79.8,190.7 78.8,190.9 77.8,191 76.8,191.1 75.8,190.9 74.8,190.8 73.8,190.8 72.8,190.9 71.8,191.2 70.8,191.5 69.8,191.8 68.8,191.6 67.8,191.4 66.8,191.3 65.8,191.5 64.8,191.3 63.8,191.7 62.8,192.2 61.8,191.9 60.8,190.8 59.8,189.3Z" fill="#0b77bf" stroke="#0b77bf" stroke-width="1.0" stroke-linejoin="round"/><path d="M214,188.6 215,187.3 216,187.1 217,186.7 218,186.9 219,186.3 220,186.3 221,186.2 222,186.5 223,186.5 224,186.4 225,186.8 226,187.8 226.5,188.6 226.5,189.2 226,189.6 225,190.9 224,191.6 223,191.6 222,192.2 221,192.5 220,191.9 219,190.9 218,190.8 217,190.7 216,190.7 215,190.1 214,189.2Z" fill="#0b77bf" stroke="#0b77bf" stroke-width="1.0" stroke-linejoin="round"/><path d="M236.5,188.6 237.5,187 238.5,186.5 239.5,186.2 240.5,186.3 241.5,186.3 242.5,186.7 243.5,186.8 244.5,186.7 245.5,186.6 246.5,186.6 247.5,187.3 248.5,188.2 248.6,188.6 248.6,189.2 248.5,189.2 247.5,191 246.5,191.2 245.5,191.6 244.5,191.8 243.5,191.7 242.5,191.3 241.5,191.3 240.5,191.3 239.5,191.4 238.5,191.3 237.5,190.8 236.5,189.2Z" fill="#0b77bf" stroke="#0b77bf" stroke-width="1.0" stroke-linejoin="round"/><path d="M258.3,188.6 259.3,186.9 260.3,186.6 261.3,186.7 262.3,186.7 263.3,186.3 264.3,186.3 265.3,186.3 266.3,186.4 267.3,186.5 268.3,187.1 269.3,188 269.8,188.5 269.8,189.1 269.3,190.3 268.3,190.9 267.3,191.2 266.3,191 265.3,191.3 264.3,191.4 263.3,191.3 262.3,191.2 261.3,191.1 260.3,190.9 259.3,190.6 258.3,189.2Z" fill="#0b77bf" stroke="#0b77bf" stroke-width="1.0" stroke-linejoin="round"/><path d="M280,188.5 281,186.8 282,186.5 283,186.1 284,186.1 285,186.3 286,186.5 287,186.6 288,187 289,186.7 290,186.1 291,186.4 292,187.5 292.2,188.5 292.2,189.1 292,189.4 291,190.6 290,191.2 289,191.3 288,191.2 287,191.1 286,191.2 285,191.5 284,191.3 283,191.2 282,191 281,190.6 280,189.1Z" fill="#0b77bf" stroke="#0b77bf" stroke-width="1.0" stroke-linejoin="round"/><path d="M302.6,188.5 303.6,186.3 304.6,185.3 305.6,185.3 306.6,185.6 307.6,186.1 308.6,186.2 309.6,186.1 310.6,186.3 311.6,186.3 312.6,186.4 313.6,186.6 314.6,187.4 315.3,188.5 315.3,189.1 314.6,191 313.6,191.4 312.6,191.1 311.6,191 310.6,191.2 309.6,191.4 308.6,192.4 307.6,192.8 306.6,192.2 305.6,191.7 304.6,191.9 303.6,191 302.6,189.1Z" fill="#0b77bf" stroke="#0b77bf" stroke-width="1.0" stroke-linejoin="round"/><path d="M324.4,188.5 325.4,186.9 326.4,186.1 327.4,185.6 328.4,186.2 329.4,186.5 330.4,186.3 331.4,186.3 332.4,186.4 333.4,186.3 334.4,186.7 335.4,186.9 336.4,187.6 337,188.5 337,189.1 336.4,190.5 335.4,191.3 334.4,191.3 333.4,191 332.4,191.1 331.4,191 330.4,190.9 329.4,191 328.4,191.1 327.4,191.1 326.4,190.7 325.4,190.3 324.4,189.1Z" fill="#0b77bf" stroke="#0b77bf" stroke-width="1.0" stroke-linejoin="round"/><path d="M330,188.8V184.4" stroke="#0b77bf" stroke-width="2.8" stroke-linecap="round"/><path d="M347.2,186 348.2,184.6 349.2,184 350.2,182.9 351.2,182.6 352.2,182.9 353.2,183.2 354.2,183.5 355.2,184 356.2,184 357.2,183.4 358.2,182.8 359.2,183.3 360.2,183.8 361.2,184.2 362.2,183.9 363.2,183.7 364.2,183.8 365.2,183.6 366.2,184.1 367.2,184.2 368.2,184.2 369.2,183.6 370.2,183.5 371.2,183.6 372.2,183.6 373.2,183.2 374.2,183.1 375.2,183.1 376.2,183.3 377.2,183.1 378.2,183.6 379.2,183.5 380.2,183.9 381.2,183.5 382.2,183.8 383.2,184 384.2,184.1 385.2,183.5 386.2,182.7 387.2,183.2 388.2,184.1 389.2,183.8 390.2,183.3 391.2,182.6 392.2,182.8 393.2,183.5 394.2,183.6 395.2,183.5 396.2,183.3 397.2,183.2 398.2,183.6 399.2,183.9 400.2,183.6 401.2,183.5 402.2,183.7 403.2,183.4 404.2,183.3 405.2,183.4 406.2,183.7 407.2,183.8 408.2,183.8 409.2,183.5 410.2,183.1 411.2,182.6 412.2,182.1 413.2,182.9 414.2,183.4 415.2,183.2 416.2,183 417.2,183.1 418.2,183.3 419.2,183.6 420.2,183.5 421.2,183.9 422.2,183.7 423.2,183.8 424.2,183.5 425.2,183.2 426.2,183.3 427.2,183 428.2,183.2 429.2,183.1 430.2,183.2 431.2,182.4 432.2,181.8 433.2,182.2 434.2,182.9 435.2,182.9 436.2,183.2 437.2,183.2 438.2,183.2 439.2,183.1 440.2,182.8 441.2,183.2 442.2,183 443.2,183.5 444.2,183.2 445.2,183.1 446.2,182.9 447.2,182.7 448.2,182.6 449.2,182.4 450.2,182.3 451.2,181.6 452.2,181.1 453.2,181.1 454.2,181.6 455.2,182.4 456.2,182.6 457.2,182.5 458.2,182.5 459.2,182.6 460.2,182.3 461.2,182.1 462.2,181.4 463.2,180.2 464.2,180.2 465.2,180.1 466.2,180.1 467.2,179.7 468.2,179.8 469.2,179.7 470.2,179.7 471.2,179.6 472.2,179.5 473.2,178.3 474.2,177.5 475.2,177.6 476.2,178 477.2,177.7 478.2,177.7 479.2,177.9 480.2,177.6 481.2,176.9 482.2,176 483.2,174.6 484.2,174.3 485.2,175.4 486.2,176.7 487.2,176.1 488.2,175.9 489.2,175.4 490.2,175.8 491.2,176 492.2,176 493.2,175.8 494.2,175.7 495.2,175.7 496.2,175.5 497.2,175.9 498.2,175.8 499.2,175.5 500.2,175.7 501.2,176 502.2,176.1 503.2,176.2 504.2,176.3 505.2,176.4 506.2,176.2 507.2,175.3 508.2,174.7 509.2,174.9 510.2,176 511.2,176.3 512.2,176.6 513.2,176.4 514.2,176.2 515.2,175.8 516.2,175.7 517.2,175.7 518.2,175.8 519.2,176 520.2,176 521.2,175.9 522.2,175.5 523.2,175.9 524.2,176.9 524.8,178.7 524.8,181.3 524.2,183 523.2,183.6 522.2,183.6 521.2,183.5 520.2,183.4 519.2,183.5 518.2,183.9 517.2,184.3 516.2,184.2 515.2,183.9 514.2,184 513.2,183.8 512.2,184.2 511.2,184.5 510.2,184.5 509.2,183.9 508.2,183.8 507.2,183.8 506.2,183.9 505.2,183.9 504.2,183.6 503.2,183.7 502.2,183.9 501.2,184.6 500.2,185.2 499.2,184.9 498.2,184.3 497.2,183.7 496.2,183.8 495.2,184.2 494.2,183.9 493.2,184.6 492.2,185.1 491.2,185.1 490.2,184.2 489.2,184.2 488.2,184.1 487.2,184.2 486.2,184 485.2,183.8 484.2,183.7 483.2,184 482.2,184.5 481.2,185.2 480.2,185.6 479.2,186 478.2,185.8 477.2,186.8 476.2,186.7 475.2,186.4 474.2,185.5 473.2,185.5 472.2,185.6 471.2,185.7 470.2,185.8 469.2,186 468.2,185.9 467.2,186.1 466.2,185.9 465.2,186.2 464.2,186.6 463.2,187.2 462.2,187.7 461.2,187.4 460.2,187.4 459.2,187.3 458.2,187.6 457.2,187.8 456.2,187.8 455.2,188 454.2,187.7 453.2,187.8 452.2,187.8 451.2,187.9 450.2,187.7 449.2,187.8 448.2,187.9 447.2,187.7 446.2,187.6 445.2,187.8 444.2,188.4 443.2,188.5 442.2,188.2 441.2,189 440.2,189.4 439.2,189.4 438.2,188.8 437.2,188.1 436.2,188.1 435.2,188.2 434.2,188 433.2,188.1 432.2,188.2 431.2,188.5 430.2,188.6 429.2,188.3 428.2,188.3 427.2,188.4 426.2,188.7 425.2,188.5 424.2,188.7 423.2,188.2 422.2,188.4 421.2,188.3 420.2,188.5 419.2,188.5 418.2,188.5 417.2,188.7 416.2,188.5 415.2,188.4 414.2,188.5 413.2,188.7 412.2,189 411.2,188.3 410.2,187.9 409.2,188 408.2,188.6 407.2,189.1 406.2,188.5 405.2,188 404.2,188.2 403.2,188 402.2,188.1 401.2,187.8 400.2,187.7 399.2,187.9 398.2,188.2 397.2,188.3 396.2,188.4 395.2,188.7 394.2,188.9 393.2,188.7 392.2,188.8 391.2,188.9 390.2,189.2 389.2,188.8 388.2,188.6 387.2,188.4 386.2,188.7 385.2,189.1 384.2,188.7 383.2,188.2 382.2,189.1 381.2,189.7 380.2,189.3 379.2,188.3 378.2,188 377.2,188.4 376.2,188.4 375.2,188.3 374.2,187.9 373.2,188.4 372.2,188.9 371.2,189.2 370.2,189 369.2,188.8 368.2,188.7 367.2,188.8 366.2,188.8 365.2,188.9 364.2,189 363.2,188.8 362.2,188.7 361.2,188.6 360.2,188.6 359.2,188.6 358.2,188.6 357.2,188.3 356.2,188.3 355.2,188.9 354.2,189.7 353.2,189.6 352.2,189.3 351.2,189.3 350.2,189.1 349.2,188.6 348.2,187.9 347.2,186.6Z" fill="#0b77bf" stroke="#0b77bf" stroke-width="1.0" stroke-linejoin="round"/><path d="M355,186.2V184.9M505,179.9V183.6" stroke="#0b77bf" stroke-width="2.8" stroke-linecap="round"/><path d="M485,180V184.1" stroke="#0b77bf" stroke-width="3.8" stroke-linecap="round"/><line x1="204.5" y1="188.9" x2="214" y2="188.9" stroke="#0b77bf" stroke-width="1.35" stroke-linecap="round"/><line x1="226.5" y1="188.9" x2="236.5" y2="188.9" stroke="#0b77bf" stroke-width="1.35" stroke-linecap="round"/><line x1="248.6" y1="188.9" x2="258.3" y2="188.9" stroke="#0b77bf" stroke-width="1.35" stroke-linecap="round"/><line x1="269.8" y1="188.8" x2="280" y2="188.8" stroke="#0b77bf" stroke-width="1.35" stroke-linecap="round"/><line x1="292.2" y1="188.8" x2="302.6" y2="188.8" stroke="#0b77bf" stroke-width="1.35" stroke-linecap="round"/><line x1="315.3" y1="188.8" x2="324.4" y2="188.8" stroke="#0b77bf" stroke-width="1.35" stroke-linecap="round"/><line x1="337" y1="188.8" x2="347.2" y2="186.3" stroke="#0b77bf" stroke-width="1.35" stroke-linecap="round"/><path d="M59.8,189.6 60.8,187.9 61.8,188.1 62.8,188.2 63.8,188 64.8,188.5 65.8,188.3 66.8,188 67.8,188.1 68.8,188.8 69.8,189 70.8,189.4 71.8,189.5 72.8,189.5 73.8,189.3 74.8,189.2 75.8,188.2 76.8,187.9 77.8,188.2 78.8,187.9 79.8,188 80.8,188.7 81.8,188.5 82.8,188.8 83.8,188.4 84.8,188.7 85.8,188.7 86.8,189.1 87.8,189.1 88.8,188.6 89.8,188.5 90.8,188.1 91.8,188.3 92.8,188.3 93.8,188.4 94.8,188.4 95.8,187.7 96.8,187.6 97.8,188.1 98.8,188.6 99.8,188.1 100.8,188.2 101.8,188.5 102.8,188.9 103.8,189.2 104.8,188.8 105.8,188.7 106.8,188.5 107.8,188.8 108.8,188.8 109.8,188.8 110.8,188.4 111.8,188.7 112.8,188.7 113.8,189 114.8,189 115.8,188.5 116.8,188.1 117.8,188 118.8,188.4 119.8,189 120.8,188.6 121.8,188.6 122.8,188.3 123.8,188.6 124.8,188.8 125.8,188.6 126.8,188.6 127.8,188.5 128.8,188.2 129.8,188.4 130.8,188.4 131.8,188.6 132.8,188.5 133.8,188.9 134.8,189 135.8,189.1 136.8,188.1 137.8,187.6 138.8,188 139.8,188.6 140.8,188.8 141.8,188.6 142.8,188.4 143.8,188.5 144.8,188.8 145.8,188.9 146.8,189.1 147.8,188.6 148.8,188.4 149.8,188 150.8,187.9 151.8,188.3 152.8,188.8 153.8,188.8 154.8,188.7 155.8,188.5 156.8,189.2 157.8,189 158.8,188.7 159.8,188.5 160.8,188.8 161.8,188.7 162.8,188.4 163.8,188.4 164.8,188.3 165.8,187.6 166.8,187.3 167.8,187 168.8,186.9 169.8,187.2 170.8,187.3 171.8,187.8 172.8,187.8 173.8,187.6 174.8,187.1 175.8,187.5 176.8,187.5 177.8,187.4 178.8,187.4 179.8,187.3 180.8,187.3 181.8,187.4 182.8,187.6 183.8,187.4 184.8,187.6 185.8,187.6 186.8,187.5 187.8,187.6 188.8,187.5 189.8,187.7 190.8,187.7 191.8,187.9 192.8,187.7 193.8,187.5 194.8,187.5 195.8,187.6 196.8,187.7 197.8,187.6 198.8,187.7 199.8,187.4 200.8,187.6 201.8,187.5 202.8,187.8 203.8,188 204.8,188 205.8,188 206.8,188.1 207.8,188.5 208.8,188.9 209.8,188.9 210.8,188.7 211.8,188.5 212.8,188.6 213.8,188.8 214.8,188.4 215.8,188.4 216.8,188.2 217.8,188.7 218.8,188.5 219.8,188.4 220.8,187.9 221.8,187.9 222.8,188.2 223.8,188.7 224.8,188.6 225.8,188.6 226.8,187.6 227.8,187.5 228.8,187.7 229.8,188.3 230.8,188.4 231.8,188.6 232.8,188.4 233.8,187.7 234.8,188 235.8,188.7 236.8,188.6 237.8,188.5 238.8,188.4 239.8,188.7 240.8,188.8 241.8,188.6 242.8,188.5 243.8,188.5 244.8,188.4 245.8,188.9 246.8,188.8 247.8,188.8 248.8,188.2 249.8,188 250.8,188.3 251.8,188.7 252.8,188.9 253.8,188.3 254.8,188 255.8,188 256.8,188.8 257.8,188.8 258.8,188.7 259.8,188.3 260.8,188.3 261.8,188.6 262.8,188.8 263.8,188.6 264.8,188.3 265.8,188.5 266.8,188.9 267.8,189 268.8,188.4 269.8,187.9 270.8,187.8 271.8,187.9 272.8,188.4 273.8,188.4 274.8,188.5 275.8,188 276.8,188.1 277.8,187.9 278.8,187.7 279.8,187.8 280.8,188.2 281.8,187.5 282.8,187.1 283.8,187.6 284.8,188.3 285.8,188.3 286.8,188 287.8,188.2 288.8,188.2 289.8,187.8 290.8,187.4 291.8,188.2 292.8,188.2 293.8,187.5 294.8,187.6 295.8,187.8 296.8,187.8 297.8,187.9 298.8,188.3 299.8,188.3 300.8,188.1 301.8,188.1 302.8,188.1 303.8,187.7 304.8,187.5 305.8,187.5 306.8,188.1 307.8,188.6 308.8,188.6 309.8,188.6 310.8,188.3 311.8,188.4 312.8,188.2 313.8,187.7 314.8,187.4 315.8,188.1 316.8,188.5 317.8,187.7 318.8,187 319.8,187.3 320.8,188.3 321.8,188.4 322.8,188.4 323.8,188.1 324.8,188 325.8,188 326.8,187.9 327.8,187.9 328.8,188.1 329.8,188.5 330.8,188.5 331.8,188.4 332.8,188.2 333.8,188 334.8,187.3 335.8,186.6 336.8,186.5 337.8,186.8 338.8,186.6 339.8,186.3 340.8,185.9 341.8,185.6 342.8,185.5 343.8,186 344.8,185.6 345.8,185.9 346.8,185.7 347.8,185.9 348.8,185.2 349.8,185.1 350.8,184.5 351.8,184.7 352.8,185.1 353.8,185 354.8,185.2 355.8,185.7 356.8,185.2 357.8,185.3 358.8,185.1 359.8,185.6 360.8,185.1 361.8,185.4 362.8,185.1 363.8,185.5 364.8,185.4 365.8,185.3 366.8,185.2 367.8,185.4 368.8,185.5 369.8,185.4 370.8,184.7 371.8,184.4 372.8,184.6 373.8,184.8 374.8,185.3 375.8,184.7 376.8,184.2 377.8,184.6 378.8,184.9 379.8,185.4 380.8,185.2 381.8,185 382.8,184.1 383.8,183.9 384.8,184.5 385.8,185 386.8,184.8 387.8,184.9 388.8,185 389.8,184.1 390.8,183.5 391.8,183.8 392.8,184.6 393.8,185 394.8,184.9 395.8,185.2 396.8,185 397.8,184.9 398.8,184.5 399.8,184.3 400.8,184.4 401.8,184.4 402.8,183.8 403.8,183.8 404.8,184.6 405.8,185.2 406.8,183.9 407.8,183.7 408.8,183.8 409.8,184.6 410.8,184 411.8,184.2 412.8,184.1 413.8,184.2 414.8,183.6 415.8,183.7 416.8,183.6 417.8,183.6 418.8,183.9 419.8,182.8 420.8,182.7 421.8,183 422.8,184.4 423.8,183.8 424.8,183.8 425.8,183.9 426.8,183.2 427.8,182.4 428.8,182.5 429.8,182.6 430.8,182.5 431.8,183 432.8,183.7 433.8,183.5 434.8,182.4 435.8,182.3 436.8,182.4 437.8,183.1 438.8,182.9 439.8,181.4 440.8,181 441.8,181.5 442.8,183.1 443.8,183.3 444.8,183.2 445.8,183.2 446.8,182.9 447.8,181.1 448.8,180.9 449.8,181.6 450.8,183.1 451.8,182.9 452.8,182.9 453.8,182.1 454.8,181.6 455.8,181.5 456.8,182.2 457.8,180.4 458.8,179.7 459.8,179.9 460.8,180.1 461.8,179.3 462.8,178.6 463.8,176.3 464.8,175.5 465.8,175.6 466.8,174.8 467.8,174 468.8,172.7 469.8,171.7 470.8,172 471.8,173 472.8,172.7 473.8,172.6 474.8,171.4 475.8,171.4 476.8,171.7 477.8,172.6 478.8,170 479.8,167.1 480.8,165.1 481.8,164.8 482.8,164.1 483.8,163.3 484.8,162.6 485.8,162 486.8,161.2 487.8,160.3 488.8,158.5 489.8,157.2 490.8,156.9 491.8,157.6 492.8,157.4 493.8,156.8 494.8,156.3 495.8,156.9 496.8,157.5 497.8,157.8 498.8,157.6 499.8,157.6 500.8,157.6 501.8,157.7 502.8,157.7 503.8,157.6 504.8,156.3 505.8,155.9 506.8,156.3 507.8,157.1 508.8,156.8 509.8,157.2 510.8,157.7 511.8,158 512.8,157.7 513.8,157.4 514.8,155.5 515.8,155.4 516.8,156.3 517.8,156.1 518.8,155.6 519.8,155.8 520.8,156.7 521.8,157.7 522.8,157.7 523.8,158.1 524.8,160 524.8,164.9 523.8,166.9 522.8,165.6 521.8,165.6 520.8,165.8 519.8,167.9 518.8,168.2 517.8,167.6 516.8,165.6 515.8,165.5 514.8,165.6 513.8,165.6 512.8,166.3 511.8,166.7 510.8,167.1 509.8,167.5 508.8,167.1 507.8,166.2 506.8,166.9 505.8,167.5 504.8,167.4 503.8,167.2 502.8,166.7 501.8,166.2 500.8,165.8 499.8,165.1 498.8,165.2 497.8,165.7 496.8,167 495.8,167.3 494.8,166.6 493.8,165.7 492.8,167.8 491.8,168.2 490.8,168 489.8,168.3 488.8,169.1 487.8,168.7 486.8,169.2 485.8,169.7 484.8,170.2 483.8,170.9 482.8,171.8 481.8,172.4 480.8,173.3 479.8,175.7 478.8,178.6 477.8,180.9 476.8,181 475.8,181.2 474.8,182.1 473.8,182.9 472.8,183.3 471.8,183.6 470.8,183 469.8,181.3 468.8,181.3 467.8,181.6 466.8,182.3 465.8,184 464.8,185.4 463.8,186.4 462.8,187.8 461.8,188.9 460.8,189.2 459.8,189.2 458.8,189.6 457.8,189.9 456.8,189.8 455.8,189.8 454.8,190.2 453.8,190.5 452.8,190.4 451.8,192.2 450.8,192.4 449.8,192 448.8,190.5 447.8,191.3 446.8,190.9 445.8,190.5 444.8,190.2 443.8,190.5 442.8,190.9 441.8,191.4 440.8,190.7 439.8,190.6 438.8,190.3 437.8,190.7 436.8,190.6 435.8,190.6 434.8,190.7 433.8,190.7 432.8,192 431.8,192.2 430.8,191.8 429.8,190.7 428.8,191.4 427.8,191.8 426.8,191.6 425.8,191.2 424.8,191.3 423.8,190.6 422.8,190.2 421.8,190.2 420.8,190.6 419.8,191.2 418.8,191.4 417.8,192.2 416.8,192 415.8,190.7 414.8,190.9 413.8,190.6 412.8,190.9 411.8,190.7 410.8,190.6 409.8,190.6 408.8,190.5 407.8,190.2 406.8,190.3 405.8,190.4 404.8,190.6 403.8,190.7 402.8,190.7 401.8,190.3 400.8,190.4 399.8,190.2 398.8,190.5 397.8,190.5 396.8,190.5 395.8,190.6 394.8,190.6 393.8,190.9 392.8,190.8 391.8,190.5 390.8,190.2 389.8,190.5 388.8,190.4 387.8,190.5 386.8,190.1 385.8,190.5 384.8,190.1 383.8,190.5 382.8,190.2 381.8,190.6 380.8,190.7 379.8,191 378.8,190.7 377.8,190.6 376.8,190.5 375.8,191 374.8,191 373.8,190.9 372.8,190.7 371.8,190.6 370.8,190.8 369.8,191 368.8,191 367.8,190.8 366.8,190.8 365.8,191.2 364.8,190.8 363.8,190.7 362.8,190.4 361.8,190.8 360.8,190.9 359.8,190.7 358.8,190.3 357.8,190.4 356.8,190.5 355.8,190.6 354.8,191.3 353.8,191.5 352.8,191.2 351.8,190.7 350.8,191.1 349.8,191.2 348.8,191.7 347.8,192.2 346.8,191.8 345.8,192.2 344.8,191.4 343.8,190.9 342.8,191.6 341.8,191.7 340.8,191.4 339.8,191.2 338.8,191.6 337.8,192.3 336.8,192.8 335.8,193.7 334.8,193.6 333.8,193.5 332.8,193.4 331.8,193.9 330.8,193.8 329.8,194.6 328.8,194.3 327.8,193.3 326.8,193.1 325.8,193.1 324.8,194.2 323.8,194.4 322.8,194.1 321.8,193.2 320.8,193.6 319.8,193.2 318.8,193.1 317.8,193.2 316.8,193.5 315.8,193.7 314.8,193.6 313.8,193.3 312.8,193.4 311.8,193.2 310.8,193.4 309.8,193.2 308.8,193.5 307.8,193.8 306.8,193.6 305.8,194.6 304.8,194.6 303.8,194.6 302.8,193.4 301.8,193.6 300.8,193.9 299.8,193.4 298.8,193.1 297.8,193.2 296.8,193.1 295.8,193.2 294.8,193.3 293.8,193.1 292.8,193.5 291.8,193.1 290.8,193.7 289.8,193.7 288.8,193.8 287.8,193.7 286.8,193.3 285.8,193.3 284.8,193.2 283.8,193.7 282.8,194.1 281.8,194.6 280.8,194.1 279.8,193.4 278.8,193.3 277.8,193.3 276.8,193.4 275.8,193.5 274.8,193.2 273.8,193.3 272.8,193.1 271.8,193.3 270.8,193.4 269.8,193.5 268.8,193.6 267.8,193.4 266.8,193.8 265.8,193.3 264.8,193.4 263.8,193.3 262.8,193.5 261.8,193.3 260.8,193.4 259.8,193.3 258.8,193.6 257.8,193.5 256.8,193.4 255.8,193.5 254.8,193.2 253.8,193.1 252.8,192.8 251.8,193 250.8,193.3 249.8,193.6 248.8,193.8 247.8,193.8 246.8,194.6 245.8,194.9 244.8,194 243.8,193 242.8,192.9 241.8,193.3 240.8,193.6 239.8,194.4 238.8,194.1 237.8,193.7 236.8,193.4 235.8,193.4 234.8,193.6 233.8,194.4 232.8,194.5 231.8,193.7 230.8,193 229.8,192.9 228.8,193.2 227.8,193.6 226.8,193.7 225.8,193.9 224.8,193.6 223.8,193.8 222.8,193.8 221.8,193.7 220.8,194 219.8,194.1 218.8,193.9 217.8,193.6 216.8,194.4 215.8,194.4 214.8,193.9 213.8,193.4 212.8,193.5 211.8,193.6 210.8,193.7 209.8,194.1 208.8,194.5 207.8,194.1 206.8,193.9 205.8,193.7 204.8,193.9 203.8,194.2 202.8,194.4 201.8,194.6 200.8,194.6 199.8,195 198.8,195.2 197.8,195.7 196.8,195.6 195.8,195.3 194.8,195 193.8,194.4 192.8,194.6 191.8,194.5 190.8,194.6 189.8,194.3 188.8,194.4 187.8,194.1 186.8,194.4 185.8,194.3 184.8,194.8 183.8,194.7 182.8,194.7 181.8,194.2 180.8,194.3 179.8,194.5 178.8,194.7 177.8,194.8 176.8,194.4 175.8,194.4 174.8,194.9 173.8,195.3 172.8,195.5 171.8,195.3 170.8,195 169.8,193.5 168.8,193.6 167.8,193.6 166.8,194.1 165.8,194.2 164.8,193.8 163.8,194.5 162.8,194.2 161.8,194 160.8,193.2 159.8,193.7 158.8,193.7 157.8,193.6 156.8,193.7 155.8,193.7 154.8,193.8 153.8,193.8 152.8,193.9 151.8,193.7 150.8,193.8 149.8,193.8 148.8,194.2 147.8,193.7 146.8,194.3 145.8,194 144.8,193.3 143.8,193.4 142.8,193.4 141.8,193.9 140.8,193.9 139.8,193.7 138.8,193.4 137.8,193.7 136.8,193.7 135.8,194 134.8,193.6 133.8,193.7 132.8,193.6 131.8,193.7 130.8,193.5 129.8,193.6 128.8,194 127.8,193.2 126.8,193 125.8,192.9 124.8,193.2 123.8,193.6 122.8,193.9 121.8,193.7 120.8,193.6 119.8,193.5 118.8,193.7 117.8,193.5 116.8,193.7 115.8,193.5 114.8,193.7 113.8,193.5 112.8,193.7 111.8,193.4 110.8,194.1 109.8,194.4 108.8,194.2 107.8,193.1 106.8,192.8 105.8,192.8 104.8,193.6 103.8,193.6 102.8,193.6 101.8,193.7 100.8,194.1 99.8,194.4 98.8,194.1 97.8,194.1 96.8,194.1 95.8,194.1 94.8,194.1 93.8,193.7 92.8,193.9 91.8,193.7 90.8,193.5 89.8,193.6 88.8,193.9 87.8,194.1 86.8,193.8 85.8,193.6 84.8,193.8 83.8,193.7 82.8,193.7 81.8,193.9 80.8,194.4 79.8,194.1 78.8,194 77.8,193.7 76.8,193.7 75.8,193.5 74.8,194.1 73.8,193.9 72.8,193.9 71.8,193.6 70.8,193.5 69.8,193.5 68.8,194 67.8,194.3 66.8,194.1 65.8,193.7 64.8,193.8 63.8,193.5 62.8,193.5 61.8,193.4 60.8,193.1 59.8,191.6Z" fill="#ff7f07" stroke="#ff7f07" stroke-width="1.0" stroke-linejoin="round"/><path d="M172.5,191.1V182.2" stroke="#ff7f07" stroke-width="4.3" stroke-linecap="round"/><path d="M180,191.1V186.1M188,191.1V186.1" stroke="#ff7f07" stroke-width="3.3" stroke-linecap="round"/><path d="M382,187.7V184.9M505,161.7V168.6" stroke="#ff7f07" stroke-width="2.8" stroke-linecap="round"/><path d="M59.8,197.6 60.8,195.6 61.8,195.4 62.8,196.4 63.8,196.4 64.8,196.3 65.8,196 66.8,195.3 67.8,195.6 68.8,195.7 69.8,195.8 70.8,195.8 71.8,196 72.8,196.3 73.8,196.6 74.8,196.5 75.8,196.4 76.8,196.1 77.8,196 78.8,196.2 79.8,196.4 80.8,196.6 81.8,196.2 82.8,196.1 83.8,195.9 84.8,196.2 85.8,196.4 86.8,196.5 87.8,196.4 88.8,196.1 89.8,195.5 90.8,195 91.8,195.6 92.8,195.9 93.8,195.6 94.8,195.9 95.8,196.1 96.8,195.9 97.8,195.7 98.8,195.9 99.8,196 100.8,196 101.8,195.7 102.8,195.8 103.8,196.1 104.8,196.4 105.8,196.5 106.8,196 107.8,195.9 108.8,195.7 109.8,195.8 110.8,195.7 111.8,195.5 112.8,195.8 113.8,195.8 114.8,196.1 115.8,196.1 116.8,196.3 117.8,196.4 118.8,196.5 119.8,196.8 120.8,196.6 121.8,196.3 122.8,195.5 123.8,195.1 124.8,195.3 125.8,195.4 126.8,195.5 127.8,195.7 128.8,196.5 129.8,195.9 130.8,195.8 131.8,196.2 132.8,196.9 133.8,196.5 134.8,196.2 135.8,195.9 136.8,195.9 137.8,195.7 138.8,195.8 139.8,195.9 140.8,195.9 141.8,195.6 142.8,195.6 143.8,195.3 144.8,195.1 145.8,194.6 146.8,195 147.8,196.3 148.8,196.3 149.8,196.2 150.8,195.7 151.8,195.5 152.8,195.6 153.8,195.1 154.8,194.6 155.8,194.7 156.8,195.7 157.8,196.1 158.8,196.4 159.8,196.2 160.8,196.4 161.8,196.3 162.8,196.3 163.8,196 164.8,195.8 165.8,195.6 166.8,195 167.8,195 168.8,195.6 169.8,196 170.8,195.5 171.8,195.5 172.8,195.5 173.8,195.6 174.8,195.6 175.8,195.7 176.8,195.8 177.8,195.9 178.8,196.1 179.8,196 180.8,195.6 181.8,195.7 182.8,195.7 183.8,195.9 184.8,195.7 185.8,196 186.8,195.8 187.8,195.5 188.8,195 189.8,195.2 190.8,195.1 191.8,195.3 192.8,195.2 193.8,195.5 194.8,195.6 195.8,195.8 196.8,195.9 197.8,196 198.8,196.2 199.8,196.2 200.8,196.2 201.8,196.1 202.8,195.5 203.8,195.1 204.8,194.8 205.8,195.1 206.8,195.5 207.8,195.7 208.8,196 209.8,196 210.8,196.1 211.8,195.9 212.8,195.7 213.8,195.7 214.8,195.2 215.8,195.5 216.8,195.2 217.8,195.9 218.8,195.6 219.8,196 220.8,195.7 221.8,195.8 222.8,195.5 223.8,195.4 224.8,195.3 225.8,195.5 226.8,195.3 227.8,195.4 228.8,195.4 229.8,195.8 230.8,195.1 231.8,194.9 232.8,195.3 233.8,195.8 234.8,195.7 235.8,195.5 236.8,195.1 237.8,194.3 238.8,194.8 239.8,195.1 240.8,195.2 241.8,195.2 242.8,195.4 243.8,195.2 244.8,195 245.8,194.9 246.8,194.9 247.8,195.4 248.8,195.5 249.8,195.6 250.8,194.7 251.8,194.2 252.8,194.7 253.8,195.2 254.8,195 255.8,194.8 256.8,195.1 257.8,195.3 258.8,195.3 259.8,195.1 260.8,195.1 261.8,195.4 262.8,195.5 263.8,196 264.8,195.9 265.8,195.8 266.8,195.7 267.8,195.7 268.8,195.9 269.8,195.7 270.8,195.5 271.8,195.3 272.8,195.5 273.8,195.3 274.8,194.9 275.8,195.4 276.8,195.1 277.8,195.2 278.8,194.8 279.8,195.1 280.8,195.6 281.8,195.5 282.8,195.7 283.8,196 284.8,195.7 285.8,194.8 286.8,194.7 287.8,194.9 288.8,195.3 289.8,195.2 290.8,195.6 291.8,195.5 292.8,195.6 293.8,195.3 294.8,195.7 295.8,195.9 296.8,195.9 297.8,195.6 298.8,195.5 299.8,195.5 300.8,195.3 301.8,195.2 302.8,194.6 303.8,194.5 304.8,194.9 305.8,195.5 306.8,195.2 307.8,195.4 308.8,195.1 309.8,194.8 310.8,195.3 311.8,195.3 312.8,195.4 313.8,195.3 314.8,195.7 315.8,195.9 316.8,196 317.8,195.7 318.8,195.4 319.8,195.2 320.8,195.4 321.8,194.5 322.8,194.2 323.8,194.7 324.8,195.5 325.8,195.2 326.8,195.1 327.8,194.9 328.8,195.1 329.8,195.2 330.8,195.7 331.8,195.7 332.8,195.5 333.8,195.3 334.8,195.3 335.8,195.2 336.8,194.7 337.8,194.3 338.8,193.2 339.8,192 340.8,192.1 341.8,192.4 342.8,192.4 343.8,192.6 344.8,192.5 345.8,192.7 346.8,192.8 347.8,193.2 348.8,193.2 349.8,193.2 350.8,192.7 351.8,192.4 352.8,191.6 353.8,192 354.8,192.4 355.8,193 356.8,192.9 357.8,192.9 358.8,192.9 359.8,192.7 360.8,192.5 361.8,192 362.8,192.5 363.8,192.4 364.8,192.5 365.8,192.9 366.8,193.3 367.8,192.5 368.8,192.7 369.8,192.4 370.8,192.3 371.8,191.6 372.8,192.2 373.8,192.6 374.8,193 375.8,192.8 376.8,192.9 377.8,192.8 378.8,193 379.8,193.4 380.8,193.5 381.8,193.7 382.8,193.5 383.8,193.2 384.8,192.7 385.8,192.5 386.8,192.2 387.8,192 388.8,192.5 389.8,192 390.8,192.4 391.8,192.8 392.8,192.9 393.8,192.9 394.8,192.3 395.8,191.7 396.8,192.4 397.8,193.2 398.8,193.4 399.8,193 400.8,193 401.8,192.7 402.8,192.6 403.8,192.4 404.8,192.4 405.8,193 406.8,192.9 407.8,193.4 408.8,192.8 409.8,192.6 410.8,192.2 411.8,192.5 412.8,192.8 413.8,192.8 414.8,192.8 415.8,192.5 416.8,191.9 417.8,191.3 418.8,191 419.8,191.4 420.8,193 421.8,193.2 422.8,192.9 423.8,193 424.8,192.8 425.8,192.9 426.8,192.6 427.8,192 428.8,191.6 429.8,191.8 430.8,192.7 431.8,192.5 432.8,192.3 433.8,191.9 434.8,192.1 435.8,191.9 436.8,192.2 437.8,191.7 438.8,190.6 439.8,190.1 440.8,190.6 441.8,192.6 442.8,192.6 443.8,192.7 444.8,192.3 445.8,192.4 446.8,192.2 447.8,192 448.8,190.5 449.8,190.2 450.8,190.6 451.8,192.2 452.8,192.3 453.8,193 454.8,193.3 455.8,191.7 456.8,190.7 457.8,189.7 458.8,189.6 459.8,190.6 460.8,191.3 461.8,191.1 462.8,189.8 463.8,188.7 464.8,187.7 465.8,186.7 466.8,185.8 467.8,185.1 468.8,183.3 469.8,182.3 470.8,182.3 471.8,183.7 472.8,182 473.8,181.9 474.8,181.8 475.8,183.8 476.8,181.7 477.8,181.3 478.8,179 479.8,176.7 480.8,175 481.8,175.9 482.8,175.7 483.8,175.3 484.8,175.1 485.8,174.5 486.8,173.9 487.8,173.5 488.8,173.9 489.8,173.8 490.8,173.3 491.8,171.9 492.8,171.8 493.8,172.2 494.8,172.9 495.8,173.3 496.8,173.3 497.8,173.6 498.8,173.4 499.8,173.7 500.8,173.8 501.8,173.8 502.8,173.4 503.8,172.5 504.8,172 505.8,172.6 506.8,171.2 507.8,170.5 508.8,170.8 509.8,171.5 510.8,173 511.8,171.4 512.8,171 513.8,171.2 514.8,171.2 515.8,171.8 516.8,172.7 517.8,171.9 518.8,171.3 519.8,171.5 520.8,172.1 521.8,173.1 522.8,173.1 523.8,173.4 524.8,175.7 524.8,178.3 523.8,182.2 522.8,183.4 521.8,183 520.8,180.9 519.8,180.8 518.8,181.2 517.8,181 516.8,180.9 515.8,182.5 514.8,183.1 513.8,182.6 512.8,180.5 511.8,180.3 510.8,181.6 509.8,182.4 508.8,182.2 507.8,181.1 506.8,180.7 505.8,180.8 504.8,181.3 503.8,180.9 502.8,181.8 501.8,182.2 500.8,181.5 499.8,181.4 498.8,181.8 497.8,181.6 496.8,181.2 495.8,180.8 494.8,180.5 493.8,180.7 492.8,180.5 491.8,180.7 490.8,180.8 489.8,181.3 488.8,181.3 487.8,181.6 486.8,182.2 485.8,182.6 484.8,183 483.8,182.9 482.8,185.2 481.8,186.1 480.8,186.4 479.8,188.6 478.8,191.5 477.8,192.8 476.8,190.9 475.8,191.2 474.8,192.1 473.8,192.9 472.8,192.4 471.8,191.6 470.8,193.6 469.8,194.3 468.8,194.4 467.8,192.9 466.8,193.6 465.8,194.5 464.8,195.5 463.8,197 462.8,198.7 461.8,198.9 460.8,199.8 459.8,200.5 458.8,200.6 457.8,200 456.8,200.1 455.8,199.9 454.8,200.1 453.8,200.2 452.8,200.6 451.8,200.2 450.8,200.1 449.8,200.2 448.8,200.5 447.8,200.9 446.8,200.4 445.8,201 444.8,201 443.8,200.7 442.8,199.9 441.8,200.8 440.8,200.1 439.8,199.5 438.8,199.4 437.8,199.1 436.8,199.6 435.8,200.1 434.8,200.8 433.8,200.9 432.8,201.3 431.8,200.9 430.8,199.6 429.8,200.7 428.8,201.2 427.8,200.7 426.8,200.4 425.8,200.2 424.8,199.9 423.8,199.2 422.8,199.3 421.8,199.4 420.8,199.2 419.8,199 418.8,199 417.8,199.2 416.8,199.5 415.8,198.8 414.8,198.6 413.8,198.9 412.8,199 411.8,199 410.8,198.6 409.8,198.5 408.8,199 407.8,199.4 406.8,199.2 405.8,198.6 404.8,198.9 403.8,198.8 402.8,199.2 401.8,198.9 400.8,198.5 399.8,198.4 398.8,198.6 397.8,199 396.8,199.3 395.8,199.6 394.8,199 393.8,199.2 392.8,199.6 391.8,199.2 390.8,198.6 389.8,198.3 388.8,198.1 387.8,197.9 386.8,198.6 385.8,198.8 384.8,199.1 383.8,199.2 382.8,199.1 381.8,198.9 380.8,198.7 379.8,198.6 378.8,198.9 377.8,199.2 376.8,199.4 375.8,199 374.8,198.7 373.8,198.5 372.8,198.8 371.8,198.7 370.8,198.9 369.8,198.9 368.8,199.2 367.8,198.9 366.8,198.7 365.8,198.6 364.8,198.6 363.8,198.6 362.8,198.6 361.8,198.9 360.8,199.2 359.8,199.1 358.8,198.9 357.8,198.7 356.8,198.4 355.8,198.5 354.8,198.3 353.8,199.1 352.8,199.1 351.8,199.2 350.8,198.7 349.8,199 348.8,199.2 347.8,199.3 346.8,199.2 345.8,199.3 344.8,199.3 343.8,199.1 342.8,199 341.8,199 340.8,198.8 339.8,198.7 338.8,199.3 337.8,199.9 336.8,200.2 335.8,200.6 334.8,201.1 333.8,201.4 332.8,201.2 331.8,201.3 330.8,201.4 329.8,200.9 328.8,200.9 327.8,200.6 326.8,201.3 325.8,201.5 324.8,201.7 323.8,201.8 322.8,201.9 321.8,201.9 320.8,202.5 319.8,202.7 318.8,202.4 317.8,201.2 316.8,200.9 315.8,200.7 314.8,201.6 313.8,202.1 312.8,201.6 311.8,201 310.8,201.1 309.8,201.4 308.8,201.7 307.8,201.4 306.8,201.6 305.8,202.2 304.8,202.1 303.8,201.5 302.8,201.6 301.8,201.4 300.8,201.4 299.8,201.4 298.8,201.6 297.8,201.5 296.8,201.3 295.8,201.1 294.8,201.3 293.8,201.4 292.8,201.6 291.8,201.6 290.8,201.9 289.8,201.7 288.8,201.5 287.8,201.3 286.8,201.3 285.8,201.8 284.8,201.8 283.8,202.1 282.8,202 281.8,201.7 280.8,201.3 279.8,201.3 278.8,201.1 277.8,201.2 276.8,201.3 275.8,201.2 274.8,200.9 273.8,201.3 272.8,201.6 271.8,201.8 270.8,201.4 269.8,201.5 268.8,201.7 267.8,201.9 266.8,201.9 265.8,201.4 264.8,201.2 263.8,201.3 262.8,201.1 261.8,201.3 260.8,201.2 259.8,201.4 258.8,201.2 257.8,201.1 256.8,201.3 255.8,201 254.8,201.3 253.8,201.3 252.8,202.5 251.8,202.6 250.8,202.2 249.8,201.5 248.8,201.8 247.8,202 246.8,202.6 245.8,203.2 244.8,202.5 243.8,202.9 242.8,202 241.8,201.6 240.8,201.7 239.8,201.6 238.8,201.7 237.8,201.4 236.8,201.2 235.8,201.1 234.8,201 233.8,201.4 232.8,201.6 231.8,202.1 230.8,202.4 229.8,202.1 228.8,201.7 227.8,202 226.8,202.1 225.8,202.4 224.8,202.5 223.8,201.9 222.8,201.5 221.8,201.6 220.8,201.8 219.8,201.9 218.8,202.4 217.8,202 216.8,201.8 215.8,201.8 214.8,201.5 213.8,201.5 212.8,201.6 211.8,201.5 210.8,201.5 209.8,201.7 208.8,201.7 207.8,201.8 206.8,202 205.8,201.8 204.8,201.7 203.8,201.7 202.8,201.6 201.8,201.6 200.8,201.1 199.8,201.7 198.8,202.1 197.8,202 196.8,201.3 195.8,201.4 194.8,201.2 193.8,201.3 192.8,201.1 191.8,202.3 190.8,203 189.8,202.9 188.8,202.2 187.8,202 186.8,201.7 185.8,201.7 184.8,201.6 183.8,201.3 182.8,201.2 181.8,202.3 180.8,203 179.8,203.1 178.8,202.4 177.8,201.9 176.8,201.6 175.8,201.5 174.8,201.5 173.8,202 172.8,202.6 171.8,203.2 170.8,202.7 169.8,201.9 168.8,202.6 167.8,203 166.8,202.4 165.8,201.7 164.8,201.5 163.8,201.7 162.8,202.4 161.8,202.8 160.8,202.5 159.8,201.7 158.8,201.8 157.8,201.8 156.8,202.1 155.8,201.9 154.8,201.7 153.8,201.5 152.8,201.9 151.8,202.2 150.8,201.8 149.8,201.6 148.8,201.8 147.8,201.9 146.8,202.6 145.8,202.9 144.8,202.4 143.8,201.5 142.8,201.6 141.8,201.8 140.8,202.2 139.8,202.2 138.8,202.9 137.8,203.3 136.8,202.8 135.8,202.2 134.8,202.1 133.8,202.1 132.8,201.9 131.8,201.7 130.8,201.6 129.8,201.5 128.8,201.5 127.8,201.5 126.8,201.5 125.8,202.2 124.8,202.5 123.8,202 122.8,201.7 121.8,202.3 120.8,202.3 119.8,202.2 118.8,201.8 117.8,202 116.8,201.7 115.8,202.5 114.8,202.9 113.8,202.6 112.8,201.5 111.8,201.8 110.8,201.9 109.8,201.8 108.8,201.5 107.8,201.4 106.8,201.5 105.8,201.7 104.8,201.4 103.8,201.8 102.8,201.8 101.8,201.8 100.8,201.8 99.8,202 98.8,201.8 97.8,201.8 96.8,201.9 95.8,202.6 94.8,201.7 93.8,201.7 92.8,201.4 91.8,201.6 90.8,201.8 89.8,201.9 88.8,202.4 87.8,202.8 86.8,202.4 85.8,202 84.8,202 83.8,203 82.8,203.3 81.8,202.9 80.8,201.9 79.8,201.9 78.8,201.9 77.8,201.9 76.8,201.8 75.8,201.7 74.8,201.8 73.8,201.6 72.8,201.4 71.8,201.5 70.8,201.4 69.8,201.5 68.8,201.5 67.8,201.9 66.8,201.5 65.8,201.3 64.8,201 63.8,201.9 62.8,202 61.8,202.1 60.8,201.3 59.8,199.6Z" fill="#0aa314" stroke="#0aa314" stroke-width="1.0" stroke-linejoin="round"/><path d="M433,195.8V202.1" stroke="#0aa314" stroke-width="2.8" stroke-linecap="round"/><path d="M505,176.8V184.8" stroke="#0aa314" stroke-width="2.4" stroke-linecap="round"/></g><path d="M37.5,210.6h1.6M37.5,204.9h1.6M37.5,199.1h1.6M37.5,193.3h1.6M37.5,181.8h1.6M37.5,176h1.6M37.5,170.2h1.6M37.5,164.4h1.6M37.5,152.9h1.6M37.5,147.1h1.6M37.5,141.3h1.6M37.5,135.6h1.6" stroke="#555" stroke-width="0.55"/><path d="M37.5,216.4h3.2M37.5,187.5h3.2M37.5,158.7h3.2M37.5,129.8h3.2M38.1,216.4v-3.2M104.4,216.4v-3.2M170.7,216.4v-3.2M237.1,216.4v-3.2M303.4,216.4v-3.2M369.7,216.4v-3.2M436,216.4v-3.2M502.4,216.4v-3.2" stroke="#222" stroke-width="0.8"/><rect x="37.5" y="129.8" width="509.9" height="86.6" fill="none" stroke="#1a1a1a" stroke-width="1.05"/><g font-family="'Liberation Serif','Times New Roman',serif" font-weight="bold" stroke="#000" stroke-width="0.18" font-size="9.15" fill="#000"><text x="34" y="219.6" text-anchor="end">100</text><text x="34" y="190.7" text-anchor="end">200</text><text x="34" y="161.9" text-anchor="end">300</text><text x="34" y="133" text-anchor="end">400</text></g><text font-family="'Liberation Serif','Times New Roman',serif" font-weight="bold" stroke="#000" stroke-width="0.18" font-size="9.15" fill="#000" text-anchor="middle" transform="translate(14.2,173.1) rotate(-90)">N(mm)</text><clipPath id="c2"><rect x="37.5" y="234.1" width="509.9" height="86.6"/></clipPath><g stroke="#b0b0b0" stroke-width="0.75" stroke-dasharray="2.7 1.15"><line x1="104.4" y1="234.1" x2="104.4" y2="320.7"/><line x1="170.7" y1="234.1" x2="170.7" y2="320.7"/><line x1="237.1" y1="234.1" x2="237.1" y2="320.7"/><line x1="303.4" y1="234.1" x2="303.4" y2="320.7"/><line x1="369.7" y1="234.1" x2="369.7" y2="320.7"/><line x1="436" y1="234.1" x2="436" y2="320.7"/><line x1="502.4" y1="234.1" x2="502.4" y2="320.7"/><line x1="37.5" y1="299" x2="547.4" y2="299"/><line x1="37.5" y1="277.4" x2="547.4" y2="277.4"/><line x1="37.5" y1="255.8" x2="547.4" y2="255.8"/></g><g clip-path="url(#c2)"><path d="M59.8,285.3 60.3,283.8 60.8,283.1 61.3,282.9 61.8,282.7 62.3,282.4 62.8,282.1 63.3,281.8 63.8,282.2 64.3,282.2 64.8,282.8 65.3,282.5 65.8,283.6 66.3,284.7 66.8,285.2 67.3,285.2 67.8,284.4 68.3,284.2 68.8,284.5 69.3,284.9 69.8,285 70.3,284.9 70.8,284.9 71.3,285 71.8,284.4 72.3,284.8 72.8,284.4 73.3,284.5 73.8,284.8 74.3,285.6 74.8,285.4 75.3,284.5 75.8,284.1 76.3,284.3 76.8,284.6 77.3,284 77.8,283 78.3,281.5 78.8,280.5 79.3,280.3 79.8,280.7 80.3,280.8 80.8,282.5 81.3,284.9 81.8,285 82.3,284.5 82.8,284.2 83.3,284.5 83.8,283.7 84.3,283.3 84.8,282.6 85.3,282 85.8,282.1 86.3,282.1 86.8,282.9 87.3,283.7 87.8,282.6 88.3,281.6 88.8,281.5 89.3,281.2 89.8,281.2 90.3,281.6 90.8,283.3 91.3,284.4 91.8,283.4 92.3,282.7 92.8,282.3 93.3,282.2 93.8,282.4 94.3,283.6 94.8,284.1 95.3,284.4 95.8,284.8 96.3,285.2 96.8,285.4 97.3,285.3 97.8,284.9 98.3,284.4 98.8,283.6 99.3,282.8 99.8,282.4 100.3,282.2 100.8,282.1 101.3,282.6 101.8,283.5 102.3,283.7 102.8,283.6 103.3,282.8 103.8,282.5 104.3,282.5 104.8,282.8 105.3,283.1 105.8,284.2 106.3,284.8 106.8,283.4 107.3,282.7 107.8,282.5 108.3,282.2 108.8,281.7 109.3,281.5 109.8,281.2 110.3,281.6 110.8,281.6 111.3,283 111.8,285.1 112.3,285.1 112.8,285.3 113.3,285.2 113.8,285.3 114.3,285.3 114.8,285.3 115.3,285 115.8,284.7 116.3,284.7 116.8,283 117.3,282.1 117.8,281.8 118.3,282.1 118.8,281.8 119.3,281.5 119.8,280.8 120.3,281.3 120.8,281.5 121.3,281.5 121.8,280.9 122.3,281.2 122.8,281.7 123.3,283.2 123.8,285.7 124.3,285.5 124.8,285.5 125.3,284.8 125.8,284.8 126.3,282.8 126.8,281.9 127.3,281.7 127.8,281.6 128.3,282 128.8,282.4 129.3,283.3 129.8,282.6 130.3,282.5 130.8,282.9 131.3,284.4 131.8,285.1 132.3,285.1 132.8,285.1 133.3,285.3 133.8,285.3 134.3,285.2 134.8,285.2 135.3,284.8 135.8,284.9 136.3,285 136.8,285.1 137.3,285.1 137.8,284.9 138.3,284.7 138.8,284.7 139.3,284.5 139.8,284.7 140.3,284.7 140.8,285 141.3,285.1 141.8,284.7 142.3,284.6 142.8,284.6 143.3,284.9 143.8,284.9 144.3,285.2 144.8,285.1 145.3,284.9 145.8,284.4 146.3,284.8 146.8,285.1 147.3,285.5 147.8,285.6 148.3,285.7 148.8,285.4 149.3,285 149.8,284.8 150.3,283.9 150.8,283.5 151.3,283.4 151.8,283.1 152.3,283.6 152.8,284.7 153.3,285.1 153.8,285 154.3,285.2 154.8,285.3 155.3,285.4 155.8,285.3 156.3,285.2 156.8,285.1 157.3,285 157.8,284.7 158.3,284.8 158.8,284.8 159.3,283.3 159.8,281.9 160.3,282 160.8,282.1 161.3,282.3 161.8,282.8 162.3,284 162.8,285.2 163.3,284.5 163.8,284 164.3,284.2 164.8,284.4 165.3,284.1 165.8,282.9 166.3,282.7 166.8,283.1 167.3,283.4 167.8,283.6 168.3,283.9 168.8,283.7 169.3,284.3 169.8,285.2 170.3,285.6 170.8,285.3 171.3,285.3 171.8,285.1 172.3,285 172.8,285.1 173.3,284.4 173.8,283.6 174.3,282.4 174.8,282.3 175.3,282.2 175.8,281.9 176.3,282.1 176.8,283.2 177.3,284.9 177.8,285.2 178.3,285.1 178.8,283.9 179.3,282.1 179.8,281.7 180.3,281.9 180.8,282.2 181.3,282.1 181.8,283.2 182.3,282.3 182.8,282.2 183.3,282 183.8,281.5 184.3,281.6 184.8,282.3 185.3,284.8 185.8,284.7 186.3,284.7 186.8,283.4 187.3,282.4 187.8,282.2 188.3,282.1 188.8,281.7 189.3,281.4 189.8,281.6 190.3,281.3 190.8,281.6 191.3,282.4 191.8,282.5 192.3,282.2 192.8,282 193.3,282.3 193.8,282.1 194.3,282.2 194.8,282.2 195.3,282.8 195.8,284.3 196.3,283.7 196.8,282.8 197.3,282.4 197.8,282.3 198.3,283 198.8,283.9 199.3,285.2 199.8,284.8 200.3,285.3 200.8,284.6 201.3,284.7 201.8,283.9 202.3,283.9 202.8,283.1 203.3,283.6 203.8,283.7 204.3,284.5 204.5,285.4 204.5,296 204.3,297.1 203.8,298 203.3,297.7 202.8,296.4 202.3,296.7 201.8,296.5 201.3,296.3 200.8,295.8 200.3,295.9 199.8,296 199.3,297.5 198.8,298.2 198.3,298.4 197.8,298.1 197.3,297.5 196.8,297 196.3,298.5 195.8,299 195.3,299.6 194.8,299.3 194.3,299.1 193.8,298.9 193.3,297.9 192.8,296.6 192.3,296.1 191.8,296.2 191.3,296.6 190.8,296.4 190.3,296.3 189.8,296 189.3,296.9 188.8,296.6 188.3,296.7 187.8,296.3 187.3,297.6 186.8,298.1 186.3,298 185.8,298 185.3,297.7 184.8,298.2 184.3,298.4 183.8,298.1 183.3,296.8 182.8,296.3 182.3,296.7 181.8,296.3 181.3,296.1 180.8,295.9 180.3,296.1 179.8,295.7 179.3,295.9 178.8,296.3 178.3,296.7 177.8,296.4 177.3,296.2 176.8,296 176.3,297.2 175.8,298.3 175.3,299 174.8,298.8 174.3,298.4 173.8,297.9 173.3,297.8 172.8,298.8 172.3,298.8 171.8,298.7 171.3,297.1 170.8,297.3 170.3,297.3 169.8,297 169.3,296.7 168.8,296 168.3,296.4 167.8,296.6 167.3,296.5 166.8,296.2 166.3,297.5 165.8,298.4 165.3,298.9 164.8,299.2 164.3,299.4 163.8,298.6 163.3,297.8 162.8,296.2 162.3,298 161.8,298.6 161.3,298.9 160.8,298.9 160.3,298.8 159.8,298.8 159.3,299.1 158.8,298.6 158.3,298.5 157.8,298.3 157.3,298.1 156.8,297.4 156.3,296.6 155.8,298 155.3,297.9 154.8,297.8 154.3,297.9 153.8,297.5 153.3,297.3 152.8,296.9 152.3,295.8 151.8,295.9 151.3,297.2 150.8,297.3 150.3,297.4 149.8,297.6 149.3,297.9 148.8,298.1 148.3,298.2 147.8,298.2 147.3,296.8 146.8,297.2 146.3,297.3 145.8,297.7 145.3,298.5 144.8,298.8 144.3,297.6 143.8,296.2 143.3,296.2 142.8,297.1 142.3,298.3 141.8,298.5 141.3,298.7 140.8,298.9 140.3,298.4 139.8,298.2 139.3,297.3 138.8,296.5 138.3,296.9 137.8,298.2 137.3,298.2 136.8,298.5 136.3,298.2 135.8,297.3 135.3,297.3 134.8,297 134.3,296.3 133.8,297.1 133.3,298.1 132.8,298.2 132.3,298.2 131.8,297.8 131.3,297.8 130.8,296.5 130.3,295.4 129.8,295.1 129.3,295.3 128.8,295.4 128.3,297.5 127.8,298.6 127.3,298.8 126.8,298.9 126.3,299.2 125.8,299 125.3,297.7 124.8,295.9 124.3,296.1 123.8,296.3 123.3,296.2 122.8,296 122.3,295.9 121.8,295.9 121.3,296.1 120.8,296.1 120.3,296.1 119.8,295.9 119.3,295.8 118.8,295.8 118.3,296.1 117.8,296.1 117.3,296.1 116.8,296 116.3,296.3 115.8,296.6 115.3,296.9 114.8,297.1 114.3,297.1 113.8,297 113.3,297.2 112.8,297.4 112.3,297.4 111.8,297.3 111.3,297.3 110.8,296.4 110.3,297.2 109.8,297.3 109.3,297.9 108.8,297.9 108.3,297.9 107.8,298.3 107.3,298.9 106.8,299.4 106.3,299.7 105.8,298.8 105.3,297.1 104.8,295.9 104.3,296 103.8,295.7 103.3,295.2 102.8,295.3 102.3,295.5 101.8,295.8 101.3,295.8 100.8,297.5 100.3,298.8 99.8,298.9 99.3,299 98.8,298.6 98.3,298.9 97.8,299.6 97.3,299.9 96.8,299.9 96.3,298.7 95.8,297.7 95.3,297.5 94.8,297.1 94.3,297.4 93.8,296.5 93.3,296.2 92.8,295.6 92.3,295.6 91.8,295.8 91.3,295.6 90.8,295.3 90.3,295.2 89.8,295.5 89.3,295.7 88.8,296.3 88.3,296.1 87.8,296 87.3,295.9 86.8,296.7 86.3,298.5 85.8,299.5 85.3,299.9 84.8,299.6 84.3,299.7 83.8,299.1 83.3,298.2 82.8,295.8 82.3,296 81.8,297.7 81.3,298.4 80.8,298.5 80.3,298.2 79.8,298.3 79.3,297.7 78.8,296.5 78.3,295.5 77.8,295.9 77.3,296.1 76.8,296 76.3,298.1 75.8,298.7 75.3,299.1 74.8,298.7 74.3,298.8 73.8,298.1 73.3,297 72.8,296.1 72.3,297.8 71.8,298.9 71.3,298.9 70.8,298.6 70.3,298.3 69.8,298.6 69.3,299 68.8,299.2 68.3,298.5 67.8,297.3 67.3,295.5 66.8,295.3 66.3,295.4 65.8,295.4 65.3,295.7 64.8,295.8 64.3,295.9 63.8,296.2 63.3,296.1 62.8,296 62.3,295.5 61.8,295.6 61.3,295.4 60.8,295.6 60.3,294.9 59.8,293.7Z" fill="#0b77bf" stroke="#0b77bf" stroke-width="1.0" stroke-linejoin="round"/><path d="M61.5,290.2V281.4M202.6,290.8V275.9" stroke="#0b77bf" stroke-width="2.8" stroke-linecap="round"/><path d="M214,285.2 214.5,283.3 215,282.7 215.5,283 216,282.6 216.5,282.1 217,281.6 217.5,281.6 218,281.9 218.5,282.9 219,283.3 219.5,283.2 220,283.8 220.5,284 221,283.8 221.5,284.4 222,285.1 222.5,285.6 223,285.9 223.5,286.2 224,284.4 224.5,283 225,282.9 225.5,283 226,283.9 226.5,285.6 226.5,295.9 226,298.6 225.5,299.8 225,300 224.5,300 224,299.5 223.5,298.1 223,298.6 222.5,299 222,299.1 221.5,299.3 221,299 220.5,298 220,296.8 219.5,296.5 219,296.4 218.5,296.2 218,296.6 217.5,296.5 217,296.7 216.5,296.7 216,296.8 215.5,296.6 215,296.2 214.5,295.4 214,293.7Z" fill="#0b77bf" stroke="#0b77bf" stroke-width="1.0" stroke-linejoin="round"/><path d="M225.2,290.8V304.3" stroke="#0b77bf" stroke-width="2.8" stroke-linecap="round"/><path d="M236.5,288.2 237,286.2 237.5,285.4 238,285.7 238.5,286 239,285.7 239.5,285.5 240,285.4 240.5,285.8 241,285.7 241.5,285.5 242,285.4 242.5,285.4 243,285.4 243.5,285.4 244,285.3 244.5,285.4 245,285.3 245.5,284.6 246,284.2 246.5,284.2 247,284.4 247.5,285.2 248,286.9 248.5,287.5 248.6,287.8 248.6,294.1 248.5,294.2 248,295 247.5,295.4 247,295.9 246.5,297.3 246,298.2 245.5,297.9 245,297.4 244.5,297.9 244,298.8 243.5,298.9 243,299 242.5,298.5 242,298 241.5,297.2 241,296.9 240.5,296.1 240,297.8 239.5,298.9 239,299.1 238.5,299 238,298.8 237.5,298.5 237,296.5 236.5,293.3Z" fill="#0b77bf" stroke="#0b77bf" stroke-width="1.0" stroke-linejoin="round"/><path d="M246.5,290.8V277.2" stroke="#0b77bf" stroke-width="2.8" stroke-linecap="round"/><path d="M258.3,286 258.8,283.6 259.3,282.9 259.8,282.2 260.3,281.9 260.8,282 261.3,283.3 261.8,284.3 262.3,283.9 262.8,283.2 263.3,282.9 263.8,283.5 264.3,284.2 264.8,285.6 265.3,285.2 265.8,285 266.3,285 266.8,285.1 267.3,285.3 267.8,285.4 268.3,285.3 268.8,285.5 269.3,286.2 269.8,288 269.8,293.7 269.3,295 268.8,295.4 268.3,295.5 267.8,295.8 267.3,296.5 266.8,296.3 266.3,296.5 265.8,295.8 265.3,296.2 264.8,296.4 264.3,296.8 263.8,296.4 263.3,296.2 262.8,296.2 262.3,296.3 261.8,298.6 261.3,299.8 260.8,300.2 260.3,300 259.8,299.8 259.3,298.7 258.8,296.9 258.3,293Z" fill="#0b77bf" stroke="#0b77bf" stroke-width="1.0" stroke-linejoin="round"/><path d="M280,284.8 280.5,282.8 281,282 281.5,281.7 282,282.9 282.5,284.9 283,285.1 283.5,284.8 284,285.2 284.5,283.7 285,283.6 285.5,283.1 286,283.6 286.5,284 287,285.5 287.5,285.3 288,284.4 288.5,284 289,283.9 289.5,283.9 290,284.3 290.5,285.6 291,285.8 291.5,286.4 292,287.5 292.2,288.5 292.2,296.8 292,297.5 291.5,298.4 291,298.4 290.5,298.4 290,298.1 289.5,297.6 289,297.6 288.5,297.8 288,297.9 287.5,297.6 287,297.6 286.5,298.5 286,299.4 285.5,299.8 285,300.1 284.5,300.3 284,300 283.5,299.3 283,298.3 282.5,296.2 282,295.9 281.5,295.4 281,295.6 280.5,295.8 280,294.7Z" fill="#0b77bf" stroke="#0b77bf" stroke-width="1.0" stroke-linejoin="round"/><path d="M291.6,290.8V283.4" stroke="#0b77bf" stroke-width="2.8" stroke-linecap="round"/><path d="M302.6,287.3 303.1,285.9 303.6,285.9 304.1,284.1 304.6,282.2 305.1,281.6 305.6,281.8 306.1,281.9 306.6,281.8 307.1,282.9 307.6,283.9 308.1,282.8 308.6,282.9 309.1,282.3 309.6,282.4 310.1,282 310.6,283.1 311.1,284.8 311.6,284.7 312.1,284.6 312.6,284.9 313.1,285.6 313.6,285.6 314.1,285.3 314.6,285.8 315.1,286.9 315.3,288.4 315.3,293.4 315.1,294.7 314.6,295.4 314.1,295.8 313.6,296.1 313.1,296.3 312.6,296.4 312.1,296.2 311.6,296.4 311.1,296.5 310.6,296.3 310.1,296.2 309.6,295.9 309.1,296 308.6,296.1 308.1,296.2 307.6,296 307.1,295.9 306.6,295.9 306.1,296.3 305.6,298 305.1,298.7 304.6,298.8 304.1,299.1 303.6,299 303.1,298.1 302.6,295.1Z" fill="#0b77bf" stroke="#0b77bf" stroke-width="1.0" stroke-linejoin="round"/><path d="M314.5,290.8V301.3" stroke="#0b77bf" stroke-width="2.4" stroke-linecap="round"/><path d="M324.4,287.9 324.9,286.5 325.4,286.1 325.9,285.7 326.4,285.7 326.9,285.4 327.4,285.2 327.9,284.9 328.4,285.1 328.9,285.1 329.4,285.5 329.9,285.6 330.4,285.5 330.9,284.8 331.4,285.2 331.9,285.9 332.4,286.2 332.9,285.6 333.4,283.8 333.9,283 334.4,283.1 334.9,283.1 335.4,282.8 335.9,282.9 336.4,284.2 336.9,285.7 337,286.6 337,294 336.9,294.8 336.4,295.6 335.9,296.1 335.4,296.3 334.9,296.4 334.4,296.8 333.9,298.2 333.4,298.6 332.9,298.9 332.4,299 331.9,298.4 331.4,296.8 330.9,296.1 330.4,296 329.9,296.5 329.4,296.3 328.9,296.3 328.4,295.9 327.9,296.1 327.4,296.3 326.9,296.9 326.4,298.7 325.9,299.6 325.4,299.5 324.9,299.3 324.4,297.6Z" fill="#0b77bf" stroke="#0b77bf" stroke-width="1.0" stroke-linejoin="round"/><path d="M325.5,290.8V274M325.5,290.8V299.9M335.3,290.9V277.2" stroke="#0b77bf" stroke-width="2.8" stroke-linecap="round"/><path d="M347.2,287.8 347.7,284.9 348.2,283.3 348.7,282.4 349.2,282.2 349.7,282.4 350.2,282.6 350.7,284.2 351.2,284.8 351.7,284 352.2,283.2 352.7,282.2 353.2,281.9 353.7,281.9 354.2,282.1 354.7,282.3 355.2,283.2 355.7,284.1 356.2,285.3 356.7,285.2 357.2,285.4 357.7,284.9 358.2,284.9 358.7,284.5 359.2,284.9 359.7,284.8 360.2,285.4 360.7,285.8 361.2,285.4 361.7,285.4 362.2,285.2 362.7,285.1 363.2,284.7 363.7,283.2 364.2,282.3 364.7,281.5 365.2,281.1 365.7,281.4 366.2,281.6 366.7,282.9 367.2,284.2 367.7,282.8 368.2,281.7 368.7,281.7 369.2,281.9 369.7,281.8 370.2,282.1 370.7,283.1 371.2,283.9 371.7,284.9 372.2,285.3 372.7,284.9 373.2,285.1 373.7,284.8 374.2,285.3 374.7,284.8 375.2,285.1 375.7,284.8 376.2,284.8 376.7,284.6 377.2,283.8 377.7,282.7 378.2,282.1 378.7,281.6 379.2,282.2 379.7,282.8 380.2,283.2 380.7,281.7 381.2,281.7 381.7,281.4 382.2,281.5 382.7,281.6 383.2,282.8 383.7,284.7 384.2,284.5 384.7,284.3 385.2,284.5 385.7,284.6 386.2,284.5 386.7,284.3 387.2,283.9 387.7,283.9 388.2,283.2 388.7,282.5 389.2,281.6 389.7,281.4 390.2,281.1 390.7,281.1 391.2,280.8 391.7,281.4 392.2,281.1 392.7,281.8 393.2,282.7 393.7,284.3 394.2,284.1 394.7,284.4 395.2,284.7 395.7,284.6 396.2,284.2 396.7,284.3 397.2,284.6 397.7,284.6 398.2,283.4 398.7,283.3 399.2,282.8 399.7,282.9 400.2,282.9 400.7,283.2 401.2,283.4 401.7,284.2 402.2,284.7 402.7,284.1 403.2,284 403.7,283.6 404.2,283.1 404.7,282.9 405.2,283.7 405.7,284 406.2,282.6 406.7,281.1 407.2,281.1 407.7,280.3 408.2,280.4 408.7,280.6 409.2,281.2 409.7,281.8 410.2,282.9 410.7,283 411.2,282.6 411.7,281.2 412.2,281.1 412.7,281 413.2,281.2 413.7,281.2 414.2,281 414.7,281.2 415.2,281.4 415.7,282.7 416.2,283.6 416.7,283.7 417.2,283.3 417.7,283.5 418.2,284.2 418.7,284.4 419.2,284.3 419.7,283.8 420.2,284.4 420.7,282.9 421.2,282.3 421.7,281.7 422.2,281.4 422.7,281.3 423.2,280.9 423.7,281.5 424.2,282.3 424.7,283 425.2,281.8 425.7,281.5 426.2,281.6 426.7,281.7 427.2,282.1 427.7,282.5 428.2,282.6 428.7,282.1 429.2,281.9 429.7,281.5 430.2,281.7 430.7,281.9 431.2,282.2 431.7,282 432.2,282 432.7,283.3 433.2,283.3 433.7,283.6 434.2,284 434.7,283.9 435.2,283.7 435.7,283.7 436.2,283.9 436.7,283.9 437.2,283.9 437.7,284 438.2,284 438.7,284.3 439.2,284 439.7,283.5 440.2,283.2 440.7,283.5 441.2,283.6 441.7,284 442.2,284.9 442.7,284.6 443.2,284.6 443.7,284.5 444.2,284.9 444.7,284.7 445.2,284.7 445.7,284.9 446.2,285.4 446.7,284.1 447.2,283.6 447.7,283.4 448.2,283.6 448.7,283.7 449.2,283.5 449.7,284 450.2,284.2 450.7,283.7 451.2,282.4 451.7,282.3 452.2,282.6 452.7,282.9 453.2,284 453.7,284.9 454.2,286.6 454.7,286.3 455.2,284.8 455.7,283.8 456.2,283.9 456.7,284.2 457.2,284.3 457.7,284.4 458.2,285 458.7,284.4 459.2,283.7 459.7,284 460.2,283.8 460.7,283.6 461.2,283.8 461.7,285.2 462.2,286.8 462.7,287.7 463.2,288.2 463.7,286.4 464.2,285 464.7,284.7 465.2,284.9 465.7,285.2 466.2,285.2 466.7,286.3 467.2,285.1 467.7,285.3 468.2,285.1 468.7,285.1 469.2,285.6 469.7,286.9 470.2,286.2 470.7,286.1 471.2,285.9 471.7,285.6 472.2,285.9 472.7,287 473.2,286.5 473.7,286.2 474.2,286.5 474.7,287.3 475.2,287.8 475.7,288 476.2,288.3 476.7,288.4 477.2,287.4 477.7,286.9 478.2,286.7 478.7,287 479.2,287.7 479.7,289 480.2,288.4 480.7,288.5 481.2,288.5 481.7,288.7 482.2,288.6 482.7,289.8 483.2,291.1 483.7,291.3 484.2,291.2 484.7,291.4 485.2,291.4 485.7,291.6 486.2,291.3 486.7,291.2 487.2,291 487.7,291.1 488.2,291.2 488.7,291.5 489.2,291.7 489.7,291.6 490.2,291.1 490.7,288.8 491.2,287.4 491.7,287.6 492.2,287.9 492.7,288.7 493.2,289.1 493.7,290.1 494.2,291.6 494.7,291.2 495.2,291 495.7,291.4 496.2,291.7 496.7,291.8 497.2,291.4 497.7,291.4 498.2,291.9 498.7,290.9 499.2,289.6 499.7,289.4 500.2,289.5 500.7,289.5 501.2,289.1 501.7,290.2 502.2,290.5 502.7,291.2 503.2,289.9 503.7,289 504.2,288.8 504.7,288.8 505.2,289 505.7,290.1 506.2,292.2 506.7,292 507.2,290.7 507.7,290 508.2,289.7 508.7,290 509.2,290.1 509.7,288.5 510.2,287.8 510.7,287.8 511.2,288.3 511.7,289.2 512.2,289.4 512.7,290.6 513.2,290.8 513.7,291.9 514.2,292.2 514.7,292.4 515.2,290.2 515.7,289.2 516.2,288.6 516.7,288.6 517.2,288.6 517.7,289.2 518.2,289.5 518.7,289.7 519.2,289.8 519.7,289.9 520.2,290.4 520.7,291.4 521.2,292 521.7,293.1 522.2,290.9 522.7,289.9 523.2,289.6 523.7,289.5 524.2,289.7 524.7,291.3 524.8,293.4 524.8,307.3 524.7,307.8 524.2,308.4 523.7,310.4 523.2,311.8 522.7,312.4 522.2,312.8 521.7,312.5 521.2,312.1 520.7,310.8 520.2,309 519.7,309.3 519.2,309.1 518.7,308.9 518.2,308.5 517.7,309.8 517.2,310.5 516.7,310.5 516.2,310.4 515.7,310.8 515.2,311.3 514.7,311.5 514.2,311.1 513.7,311 513.2,311.1 512.7,311.7 512.2,311.7 511.7,311.9 511.2,311.9 510.7,311.2 510.2,310.5 509.7,310 509.2,309.4 508.7,309.4 508.2,308.8 507.7,309.1 507.2,308.9 506.7,309 506.2,308.6 505.7,309.5 505.2,310.2 504.7,310.2 504.2,310.2 503.7,309.8 503.2,308.5 502.7,308 502.2,307.7 501.7,308 501.2,308.7 500.7,308.9 500.2,308.6 499.7,308.6 499.2,308 498.7,308.8 498.2,309.8 497.7,310.6 497.2,311.2 496.7,311.1 496.2,310.7 495.7,310.1 495.2,308.7 494.7,307 494.2,306.7 493.7,306.9 493.2,307.2 492.7,307.5 492.2,308.8 491.7,309.7 491.2,309.7 490.7,309.9 490.2,309.7 489.7,309.3 489.2,308.8 488.7,309.8 488.2,310.4 487.7,310.5 487.2,310.7 486.7,310.6 486.2,310.4 485.7,310.3 485.2,309.1 484.7,306.9 484.2,307 483.7,306.9 483.2,307 482.7,307 482.2,306.7 481.7,306.9 481.2,306.8 480.7,307.5 480.2,307.7 479.7,307.7 479.2,306.9 478.7,306.6 478.2,306.5 477.7,306.4 477.2,306.3 476.7,305.8 476.2,305.9 475.7,305.3 475.2,305.7 474.7,305.4 474.2,305.5 473.7,305.9 473.2,307.1 472.7,307.8 472.2,307.5 471.7,307.5 471.2,306.9 470.7,306.6 470.2,305.1 469.7,304.9 469.2,305.8 468.7,306.9 468.2,307.3 467.7,307.2 467.2,307.3 466.7,307.2 466.2,306.9 465.7,306.3 465.2,305.7 464.7,305.5 464.2,304.2 463.7,303.6 463.2,303.4 462.7,303.4 462.2,303.4 461.7,303.4 461.2,303.2 460.7,304.8 460.2,306.1 459.7,306 459.2,306 458.7,305.7 458.2,305.8 457.7,305.1 457.2,305.1 456.7,304.7 456.2,304.2 455.7,303 455.2,304.2 454.7,304.8 454.2,304.8 453.7,304.7 453.2,304.7 452.7,304.5 452.2,303.4 451.7,300.7 451.2,300.7 450.7,300.3 450.2,301.4 449.7,301.5 449.2,302 448.7,301.9 448.2,301.5 447.7,300.3 447.2,300 446.7,300.4 446.2,300.4 445.7,300.6 445.2,299.7 444.7,299.2 444.2,298.9 443.7,299.3 443.2,299.3 442.7,299.2 442.2,299 441.7,299 441.2,301.3 440.7,302.6 440.2,302.6 439.7,302.5 439.2,302.7 438.7,302.8 438.2,301.7 437.7,300.8 437.2,301.4 436.7,301.9 436.2,301.9 435.7,302 435.2,302 434.7,300.8 434.2,298.4 433.7,298.2 433.2,297.9 432.7,298.7 432.2,298.5 431.7,300.4 431.2,300.8 430.7,301.1 430.2,300.8 429.7,300.6 429.2,300.5 428.7,299.6 428.2,300.5 427.7,301.1 427.2,301.1 426.7,300.9 426.2,301.2 425.7,301 425.2,300.5 424.7,298.5 424.2,298.4 423.7,298.1 423.2,298.2 422.7,299.2 422.2,299.6 421.7,299.7 421.2,299.4 420.7,299.2 420.2,298 419.7,297.9 419.2,297.6 418.7,297.4 418.2,297.4 417.7,297.7 417.2,298.2 416.7,298 416.2,298.1 415.7,299.5 415.2,300.7 414.7,300.7 414.2,300.8 413.7,300.9 413.2,300.8 412.7,300 412.2,299.4 411.7,300.5 411.2,300.7 410.7,300.9 410.2,300.2 409.7,300.1 409.2,300.5 408.7,301.1 408.2,301.1 407.7,301.1 407.2,301.5 406.7,301.4 406.2,301.4 405.7,301.2 405.2,299.8 404.7,297.5 404.2,297.6 403.7,298.1 403.2,297.9 402.7,297.2 402.2,297.3 401.7,297.5 401.2,297.4 400.7,297.3 400.2,297.3 399.7,298.9 399.2,300.2 398.7,300.2 398.2,299.8 397.7,299.4 397.2,299.3 396.7,298.5 396.2,297.3 395.7,297.5 395.2,297.2 394.7,298.2 394.2,299.3 393.7,299.7 393.2,299.7 392.7,299.9 392.2,299.5 391.7,298.6 391.2,297 390.7,297.1 390.2,297.5 389.7,297.5 389.2,297.7 388.7,297.4 388.2,297.2 387.7,297 387.2,297.1 386.7,297.5 386.2,297.3 385.7,297.7 385.2,297.2 384.7,297.8 384.2,297.3 383.7,297.2 383.2,296.6 382.7,296.7 382.2,297.2 381.7,297 381.2,297.1 380.7,296.9 380.2,297.2 379.7,297.2 379.2,297 378.7,296.9 378.2,296.7 377.7,296.7 377.2,296.7 376.7,296.7 376.2,296.8 375.7,296.8 375.2,297.7 374.7,298.9 374.2,299.5 373.7,299.1 373.2,298.8 372.7,298.5 372.2,297.4 371.7,296.8 371.2,297.8 370.7,298.2 370.2,298.4 369.7,297.9 369.2,297.8 368.7,296.8 368.2,296.8 367.7,296.7 367.2,296.6 366.7,296.9 366.2,296.8 365.7,296.7 365.2,296.4 364.7,296.4 364.2,296.2 363.7,296.6 363.2,296.6 362.7,296.9 362.2,297.1 361.7,298.1 361.2,298.5 360.7,298.5 360.2,298.6 359.7,298.2 359.2,296.8 358.7,297 358.2,297.3 357.7,297.4 357.2,298 356.7,298.7 356.2,299.1 355.7,299 355.2,299.4 354.7,299 354.2,298.8 353.7,299.2 353.2,299.5 352.7,299.1 352.2,298.6 351.7,297.2 351.2,296.5 350.7,296.9 350.2,296.9 349.7,296.9 349.2,296.6 348.7,296.7 348.2,296.2 347.7,295.6 347.2,294.1Z" fill="#0b77bf" stroke="#0b77bf" stroke-width="1.0" stroke-linejoin="round"/><path d="M412,291V303.8" stroke="#0b77bf" stroke-width="2.4" stroke-linecap="round"/><path d="M352,290.9V281.4M437,291.5V275.8M455,294V277.4" stroke="#0b77bf" stroke-width="2.8" stroke-linecap="round"/><line x1="204.5" y1="290.5" x2="214" y2="292.4" stroke="#0b77bf" stroke-width="1.35" stroke-linecap="round"/><line x1="226.5" y1="287.9" x2="236.5" y2="291.7" stroke="#0b77bf" stroke-width="1.35" stroke-linecap="round"/><line x1="248.6" y1="292" x2="258.3" y2="292.9" stroke="#0b77bf" stroke-width="1.35" stroke-linecap="round"/><line x1="269.8" y1="291.4" x2="280" y2="294" stroke="#0b77bf" stroke-width="1.35" stroke-linecap="round"/><line x1="292" y1="282.2" x2="302.6" y2="289.8" stroke="#0b77bf" stroke-width="1.35" stroke-linecap="round"/><line x1="314.5" y1="302.5" x2="325.5" y2="301.3" stroke="#0b77bf" stroke-width="1.35" stroke-linecap="round"/><line x1="335.3" y1="275.8" x2="347.2" y2="287.3" stroke="#0b77bf" stroke-width="1.35" stroke-linecap="round"/><line x1="107.8" y1="296" x2="107.8" y2="309" stroke="#0b77bf" stroke-width="1.3" stroke-linecap="round"/><circle cx="107.8" cy="309" r="1.45" fill="#0b77bf"/><line x1="492.4" y1="308" x2="492.4" y2="316" stroke="#0b77bf" stroke-width="1.3" stroke-linecap="round"/><circle cx="492.4" cy="316" r="1.45" fill="#0b77bf"/><path d="M59.8,262 60.3,260.1 60.8,260 61.3,259.6 61.8,259.6 62.3,259.1 62.8,258.9 63.3,259.3 63.8,259.1 64.3,259.4 64.8,259.2 65.3,259.6 65.8,259.4 66.3,259.5 66.8,259.2 67.3,258 67.8,256.5 68.3,256.9 68.8,256.7 69.3,257 69.8,256.9 70.3,258.1 70.8,258.6 71.3,258.4 71.8,258.4 72.3,258.5 72.8,258.8 73.3,259.3 73.8,258.3 74.3,257.1 74.8,257 75.3,256.4 75.8,256.4 76.3,255.3 76.8,255.5 77.3,255.9 77.8,256.6 78.3,257 78.8,258 79.3,259.8 79.8,259.7 80.3,259.5 80.8,259.9 81.3,259.5 81.8,259.7 82.3,257.5 82.8,257.1 83.3,256.6 83.8,256.9 84.3,256.5 84.8,256.8 85.3,257.6 85.8,259.4 86.3,259.5 86.8,259.6 87.3,258.3 87.8,257.9 88.3,257.7 88.8,257.5 89.3,257.8 89.8,257.9 90.3,259 90.8,259.8 91.3,260.4 91.8,259.8 92.3,259.5 92.8,259 93.3,259 93.8,258.6 94.3,258.3 94.8,257.8 95.3,256.9 95.8,256.6 96.3,256.7 96.8,257 97.3,257.6 97.8,258.6 98.3,259.9 98.8,259.6 99.3,259.6 99.8,259 100.3,258.4 100.8,258.5 101.3,259.1 101.8,258.9 102.3,258.5 102.8,257.5 103.3,257.5 103.8,257.5 104.3,258.3 104.8,259.3 105.3,259.4 105.8,259.5 106.3,257.5 106.8,256.6 107.3,256.8 107.8,256.7 108.3,256.3 108.8,256.3 109.3,257.6 109.8,259.6 110.3,259.6 110.8,259.4 111.3,259.6 111.8,259.4 112.3,259.5 112.8,259 113.3,259.1 113.8,259.1 114.3,259.9 114.8,259.9 115.3,260 115.8,259.6 116.3,259.5 116.8,258.7 117.3,259 117.8,259.1 118.3,259.4 118.8,259.7 119.3,259.4 119.8,258.1 120.3,257.4 120.8,257.4 121.3,257.6 121.8,257.9 122.3,258.4 122.8,258.5 123.3,259.1 123.8,259.1 124.3,259.4 124.8,259.2 125.3,259.2 125.8,259.3 126.3,259.3 126.8,258.2 127.3,257.4 127.8,256.7 128.3,256.2 128.8,256.3 129.3,257.7 129.8,259.1 130.3,257.9 130.8,257.7 131.3,257.5 131.8,257.6 132.3,257.3 132.8,256.2 133.3,256.2 133.8,256.4 134.3,256.5 134.8,256.8 135.3,257 135.8,257.2 136.3,258 136.8,259 137.3,259.9 137.8,259.7 138.3,258.7 138.8,257.6 139.3,257 139.8,256.7 140.3,256.8 140.8,257 141.3,258.1 141.8,259.2 142.3,259 142.8,259.4 143.3,259 143.8,259.3 144.3,259.2 144.8,259.3 145.3,258.1 145.8,257.9 146.3,257.9 146.8,258 147.3,257.9 147.8,257.8 148.3,258.1 148.8,258.4 149.3,258.2 149.8,258.3 150.3,257.4 150.8,257.8 151.3,257.7 151.8,258.7 152.3,259.7 152.8,259.6 153.3,259.7 153.8,259.4 154.3,259.2 154.8,258.9 155.3,259.6 155.8,259.9 156.3,260 156.8,259.6 157.3,257.9 157.8,257 158.3,256.9 158.8,256.8 159.3,256.7 159.8,256.8 160.3,258 160.8,260 161.3,259.9 161.8,259.5 162.3,259.5 162.8,259.6 163.3,259.9 163.8,259.5 164.3,259.5 164.8,259.7 165.3,260.1 165.8,260.2 166.3,260.2 166.8,260.3 167.3,260.4 167.8,260.2 168.3,260 168.8,259.9 169.3,260 169.8,259.7 170.3,259.4 170.8,258.7 171.3,258 171.8,258 172.3,258.2 172.8,258.3 173.3,258.9 173.8,259.8 174.3,260.3 174.8,260 175.3,260.1 175.8,260.3 176.3,260 176.8,259.8 177.3,259.3 177.8,259.3 178.3,259.5 178.8,259.6 179.3,259.9 179.8,260.2 180.3,260.2 180.8,259.8 181.3,259.5 181.8,259.4 182.3,259.5 182.8,259.5 183.3,259.1 183.8,258.2 184.3,257.9 184.8,257.8 185.3,257.6 185.8,257.8 186.3,258 186.8,258.5 187.3,258.8 187.8,259.5 188.3,259.5 188.8,259.4 189.3,259.8 189.8,259.8 190.3,259.6 190.8,259.3 191.3,259.7 191.8,259.8 192.3,259.7 192.8,258.3 193.3,257.5 193.8,257.5 194.3,257.3 194.8,257.1 195.3,257.2 195.8,257.2 196.3,257.3 196.8,257.4 197.3,257.5 197.8,258.5 198.3,259.6 198.8,259.8 199.3,260 199.8,260.2 200.3,260.2 200.8,260.4 201.3,259.7 201.8,259.5 202.3,259.1 202.8,259 203.3,259.1 203.8,258.2 204.3,257.2 204.8,257.1 205.3,256.9 205.8,256.7 206.3,256.7 206.8,257.6 207.3,259.7 207.8,260.2 208.3,260.4 208.8,259.8 209.3,259.6 209.8,259.4 210.3,260 210.8,259.5 211.3,260 211.8,259.9 212.3,260.1 212.8,260.3 213.3,260.3 213.8,260.4 214.3,259.9 214.8,259.9 215.3,259.8 215.8,260 216.3,258.9 216.8,257.7 217.3,257.3 217.8,258.1 218.3,258 218.8,258.3 219.3,258.9 219.8,259.2 220.3,259 220.8,258.9 221.3,259.4 221.8,259.7 222.3,260 222.8,259.3 223.3,258.2 223.8,257.8 224.3,257.8 224.8,258 225.3,258.2 225.8,259.5 226.3,260.3 226.8,260.4 227.3,258.3 227.8,256.8 228.3,256.8 228.8,256.5 229.3,256.9 229.8,257.1 230.3,258.4 230.8,260.2 231.3,258.8 231.8,259 232.3,258 232.8,257.8 233.3,257 233.8,257.3 234.3,257.7 234.8,258.2 235.3,258.3 235.8,257.8 236.3,257.7 236.8,258.3 237.3,259.7 237.8,259.9 238.3,259.8 238.8,259.6 239.3,259.9 239.8,259.3 240.3,259.5 240.8,259.6 241.3,259.9 241.8,259.9 242.3,260.2 242.8,260.1 243.3,260 243.8,259.9 244.3,260.2 244.8,260.7 245.3,260.6 245.8,260.6 246.3,260.4 246.8,258.9 247.3,257.8 247.8,257.5 248.3,257.8 248.8,258.1 249.3,258.3 249.8,258.9 250.3,258.7 250.8,259.2 251.3,259.9 251.8,258.8 252.3,258.2 252.8,258 253.3,258.2 253.8,258.6 254.3,259.7 254.8,259.2 255.3,258.6 255.8,258.7 256.3,258.6 256.8,259.2 257.3,260 257.8,260.4 258.3,260.2 258.8,260.2 259.3,259.9 259.8,259.8 260.3,260.2 260.8,260.7 261.3,259.6 261.8,258.3 262.3,257.6 262.8,257.5 263.3,257.6 263.8,258.1 264.3,258.7 264.8,260.3 265.3,260.2 265.8,260.5 266.3,260.1 266.8,260.3 267.3,260.7 267.8,261.1 268.3,261 268.8,260.8 269.3,261.2 269.8,260 270.3,259.9 270.8,259.3 271.3,259.6 271.8,259.4 272.3,259.9 272.8,260.1 273.3,260.5 273.8,260.8 274.3,260.5 274.8,260.3 275.3,260.4 275.8,260 276.3,259.9 276.8,259.4 277.3,260 277.8,260.3 278.3,261 278.8,260.9 279.3,260.6 279.8,260.7 280.3,260.6 280.8,260.8 281.3,260.5 281.8,260.4 282.3,260.4 282.8,260.4 283.3,260.5 283.8,260.8 284.3,261 284.8,260.8 285.3,260.7 285.8,260.7 286.3,260.8 286.8,260.6 287.3,260.5 287.8,258.6 288.3,257.2 288.8,257.2 289.3,256.8 289.8,257.5 290.3,257.5 290.8,258.8 291.3,259.9 291.8,259.7 292.3,260.2 292.8,260.7 293.3,260.6 293.8,258.9 294.3,258.4 294.8,257.9 295.3,258.2 295.8,258.8 296.3,260.4 296.8,259.3 297.3,259.5 297.8,259.2 298.3,259.4 298.8,259.4 299.3,258.9 299.8,258.7 300.3,258.2 300.8,258.7 301.3,258 301.8,258.2 302.3,257.8 302.8,258.1 303.3,258.3 303.8,260 304.3,261 304.8,259.1 305.3,257.8 305.8,257.6 306.3,257.4 306.8,257.4 307.3,257.6 307.8,259 308.3,260.6 308.8,260.5 309.3,260.4 309.8,260.8 310.3,260.9 310.8,260.5 311.3,260.5 311.8,260.8 312.3,259.7 312.8,258.6 313.3,258.3 313.8,258.6 314.3,258.8 314.8,258.9 315.3,259.9 315.8,258.4 316.3,258.5 316.8,257.5 317.3,257.7 317.8,257.7 318.3,259.4 318.8,259.8 319.3,258.9 319.8,258.5 320.3,258.5 320.8,258.4 321.3,258.2 321.8,259.7 322.3,260.8 322.8,261.3 323.3,261.4 323.8,261.5 324.3,261.5 324.8,260.6 325.3,260.2 325.8,260 326.3,260 326.8,260.4 327.3,261.1 327.8,261.1 328.3,260.7 328.8,260.7 329.3,260.9 329.8,260.7 330.3,259.9 330.8,259.6 331.3,259.9 331.8,260.5 332.3,259.7 332.8,258.8 333.3,258.2 333.8,258.3 334.3,258.2 334.8,258.1 335.3,259.2 335.8,260.8 336.3,260.6 336.8,260.1 337.3,260.2 337.8,260.4 338.3,260.6 338.8,260.9 339.3,261.2 339.8,261.7 340.3,261.7 340.8,261.5 341.3,261.4 341.8,261.4 342.3,261.2 342.8,261.1 343.3,260.6 343.8,261 344.3,261.3 344.8,261.9 345.3,261.5 345.8,261 346.3,260.7 346.8,260.5 347.3,261.1 347.8,261.2 348.3,261.1 348.8,260.7 349.3,260.9 349.8,261.8 350.3,260.1 350.8,258.8 351.3,257.7 351.8,257.6 352.3,258 352.8,258.4 353.3,259.7 353.8,261.1 354.3,261.2 354.8,261.2 355.3,261 355.8,261.5 356.3,261.1 356.8,261.6 357.3,261.6 357.8,261.9 358.3,261.7 358.8,261.4 359.3,261.3 359.8,261.3 360.3,261.5 360.8,261.4 361.3,261.8 361.8,261.4 362.3,261.8 362.8,260.3 363.3,260.1 363.8,260.2 364.3,260.2 364.8,260.1 365.3,259.6 365.8,259.3 366.3,259.4 366.8,259.8 367.3,260 367.8,260.1 368.3,260.3 368.8,260.3 369.3,261.7 369.8,261.5 370.3,261.3 370.8,260.6 371.3,260.7 371.8,261.1 372.3,261.5 372.8,261.6 373.3,260.6 373.8,260.3 374.3,260.1 374.8,260.3 375.3,260.4 375.8,261.1 376.3,261.3 376.8,261.4 377.3,261.3 377.8,261.2 378.3,261.1 378.8,261.4 379.3,261.4 379.8,261.5 380.3,261.7 380.8,261.7 381.3,262.2 381.8,261.8 382.3,261.1 382.8,259.6 383.3,259.6 383.8,259.1 384.3,259.1 384.8,259.4 385.3,260.9 385.8,261.9 386.3,261.5 386.8,261.5 387.3,261.5 387.8,261.8 388.3,261.8 388.8,262 389.3,261.8 389.8,261.8 390.3,261.5 390.8,262 391.3,262.1 391.8,262.2 392.3,261.7 392.8,261.8 393.3,261.4 393.8,261.2 394.3,261 394.8,261.7 395.3,262.4 395.8,262.3 396.3,261.7 396.8,261.7 397.3,261.8 397.8,261.8 398.3,261.5 398.8,261.8 399.3,262.1 399.8,260.6 400.3,259 400.8,258.8 401.3,258.6 401.8,259 402.3,258.9 402.8,259.8 403.3,261.7 403.8,262 404.3,262.2 404.8,262.4 405.3,262.4 405.8,262.3 406.3,262.1 406.8,262.5 407.3,262.2 407.8,262 408.3,261.8 408.8,262.2 409.3,262 409.8,262 410.3,261.8 410.8,261.9 411.3,261.8 411.8,262 412.3,261.2 412.8,260.7 413.3,260.5 413.8,260.5 414.3,261.2 414.8,262.2 415.3,261.7 415.8,261.4 416.3,261.8 416.8,262.3 417.3,262.7 417.8,262.6 418.3,261.1 418.8,259.9 419.3,259.3 419.8,259.2 420.3,259.1 420.8,259.5 421.3,260.7 421.8,261.5 422.3,261.6 422.8,261.7 423.3,261.8 423.8,261.5 424.3,261.4 424.8,261.5 425.3,261.7 425.8,262.3 426.3,262.1 426.8,262.3 427.3,262.6 427.8,263 428.3,263.2 428.8,262.8 429.3,262.1 429.8,261.9 430.3,261.5 430.8,261.6 431.3,261.8 431.8,262.3 432.3,260.8 432.8,259.5 433.3,259.4 433.8,259.3 434.3,259.7 434.8,260.1 435.3,261.3 435.8,262.9 436.3,262.7 436.8,262.6 437.3,262.4 437.8,262.5 438.3,260.8 438.8,260 439.3,259.5 439.8,259.3 440.3,259.5 440.8,260.1 441.3,261.4 441.8,263 442.3,262.9 442.8,263.1 443.3,261.3 443.8,260.4 444.3,260.2 444.8,260.3 445.3,260.2 445.8,260.5 446.3,261 446.8,261.1 447.3,261.5 447.8,261.7 448.3,261.8 448.8,262 449.3,262.4 449.8,263.1 450.3,264 450.8,263.9 451.3,264 451.8,262.9 452.3,262.3 452.8,262.1 453.3,261.7 453.8,261.9 454.3,262.2 454.8,264 455.3,265.4 455.8,265.7 456.3,265.9 456.8,266.3 457.3,266.2 457.8,266.3 458.3,266.4 458.8,267 459.3,266.4 459.8,266.4 460.3,266 460.8,266.8 461.3,266.6 461.8,266.9 462.3,266.6 462.8,266 463.3,265 463.8,265.2 464.3,265.5 464.8,265.4 465.3,265.1 465.8,265.4 466.3,265.8 466.8,266.9 467.3,268.2 467.8,267.9 468.3,268 468.8,267.7 469.3,268.1 469.8,268 470.3,268.3 470.8,268.2 471.3,268.6 471.8,268.3 472.3,268.6 472.8,268.1 473.3,268.4 473.8,268.5 474.3,269 474.8,269.5 475.3,269.6 475.8,269.3 476.3,267.5 476.8,266.1 477.3,266.6 477.8,266.4 478.3,267.1 478.8,267.2 479.3,268.6 479.8,270.2 480.3,270.2 480.8,270.3 481.3,270.4 481.8,270.9 482.3,271.3 482.8,271.2 483.3,271.2 483.8,270.9 484.3,271.4 484.8,271.4 485.3,271 485.8,269.7 486.3,269.4 486.8,269.7 487.3,269.6 487.8,269.7 488.3,270.9 488.8,271.5 489.3,271.8 489.8,271.3 490.3,270.3 490.8,269.9 491.3,270.1 491.8,270.1 492.3,270.5 492.8,271.7 493.3,271.8 493.8,271.3 494.3,270.4 494.8,270.1 495.3,270.3 495.8,270.2 496.3,270.1 496.8,271.3 497.3,271.2 497.8,270.3 498.3,269 498.8,268.9 499.3,269 499.8,268.7 500.3,269.1 500.8,270.1 501.3,271.2 501.8,271.4 502.3,270.9 502.8,271.1 503.3,270.8 503.8,271.4 504.3,271.6 504.8,271.8 505.3,271.6 505.8,271.4 506.3,270.5 506.8,269.7 507.3,269.5 507.8,268.6 508.3,268.3 508.8,268.7 509.3,270.2 509.8,271.6 510.3,271.5 510.8,271.4 511.3,269.6 511.8,268.7 512.3,268.5 512.8,268 513.3,268 513.8,268.3 514.3,269.6 514.8,271 515.3,270.5 515.8,270.6 516.3,271.2 516.8,271.6 517.3,270 517.8,268.7 518.3,268.4 518.8,268.2 519.3,268.1 519.8,268.2 520.3,268.3 520.8,269.7 521.3,268.7 521.8,268.6 522.3,268.3 522.8,267.8 523.3,268.2 523.8,269.8 524.3,270.6 524.8,272 524.8,280.2 524.3,282.5 523.8,283.2 523.3,283.9 522.8,283.8 522.3,282.6 521.8,282.4 521.3,284.2 520.8,285.7 520.3,286 519.8,286 519.3,285.5 518.8,285 518.3,283.9 517.8,281.6 517.3,281.9 516.8,283.8 516.3,285.4 515.8,285.4 515.3,285.6 514.8,285.8 514.3,285.6 513.8,284.6 513.3,282.3 512.8,282.9 512.3,283.1 511.8,283.3 511.3,282.7 510.8,282.9 510.3,283 509.8,283.3 509.3,283.1 508.8,282.9 508.3,283.1 507.8,283.2 507.3,282.4 506.8,281.8 506.3,281.9 505.8,283.4 505.3,283.9 504.8,283.8 504.3,283.5 503.8,283.5 503.3,282.3 502.8,282.1 502.3,282.5 501.8,282.9 501.3,282.7 500.8,281.6 500.3,281.9 499.8,282.1 499.3,282.8 498.8,282.1 498.3,282 497.8,281.8 497.3,282.3 496.8,282.2 496.3,282.3 495.8,282.5 495.3,282.9 494.8,282.9 494.3,282.6 493.8,282.5 493.3,283.5 492.8,283.9 492.3,283.6 491.8,283.5 491.3,283 490.8,282.4 490.3,282.4 489.8,283.6 489.3,283.5 488.8,283.5 488.3,283.5 487.8,283.1 487.3,282.5 486.8,282 486.3,282.2 485.8,283.4 485.3,284.3 484.8,284.5 484.3,284.5 483.8,284.7 483.3,284.9 482.8,284.7 482.3,284.8 481.8,284.6 481.3,284.5 480.8,283.4 480.3,283.6 479.8,283.2 479.3,282.8 478.8,281.4 478.3,280.9 477.8,281.1 477.3,281.6 476.8,281.8 476.3,281.6 475.8,280.6 475.3,280.2 474.8,280.1 474.3,280.3 473.8,280.6 473.3,280.6 472.8,280.4 472.3,280.3 471.8,279.6 471.3,279.3 470.8,279.1 470.3,279.2 469.8,279.4 469.3,279.2 468.8,279.1 468.3,279.4 467.8,279.4 467.3,279.3 466.8,279.1 466.3,279 465.8,279.1 465.3,278.7 464.8,280 464.3,280.7 463.8,281.1 463.3,280.8 462.8,280.8 462.3,280.5 461.8,279 461.3,278.1 460.8,277.7 460.3,277.8 459.8,277.6 459.3,277.8 458.8,277.6 458.3,277.5 457.8,277.2 457.3,277.1 456.8,276.7 456.3,276.7 455.8,276.6 455.3,276.8 454.8,276.6 454.3,276.6 453.8,277.6 453.3,278.2 452.8,278.4 452.3,277.6 451.8,277.6 451.3,277.1 450.8,276.5 450.3,275.9 449.8,275.9 449.3,275.8 448.8,275.7 448.3,275.5 447.8,275.4 447.3,275.2 446.8,275 446.3,274.8 445.8,274.4 445.3,274.4 444.8,275.9 444.3,276.8 443.8,276.9 443.3,276.7 442.8,276.9 442.3,276.8 441.8,275.9 441.3,274.2 440.8,273.9 440.3,274.1 439.8,275.2 439.3,276.2 438.8,276.2 438.3,276.5 437.8,276.3 437.3,275.9 436.8,276.2 436.3,276.4 435.8,276.3 435.3,276 434.8,274.5 434.3,272.9 433.8,273.1 433.3,273.6 432.8,273.7 432.3,273.4 431.8,274.9 431.3,276.5 430.8,276.8 430.3,276.9 429.8,276.3 429.3,276 428.8,274.5 428.3,274.4 427.8,274.5 427.3,274.7 426.8,274.2 426.3,274.5 425.8,274.4 425.3,274.5 424.8,274.2 424.3,273.7 423.8,273.3 423.3,273.4 422.8,273.5 422.3,273.7 421.8,273.6 421.3,273.6 420.8,273.9 420.3,273.5 419.8,273.3 419.3,273.2 418.8,274.8 418.3,275.7 417.8,276.1 417.3,275.9 416.8,276.5 416.3,276.5 415.8,276.6 415.3,276.4 414.8,275.7 414.3,276.7 413.8,276.8 413.3,277.1 412.8,277.5 412.3,277.2 411.8,275.8 411.3,275.2 410.8,275 410.3,274.5 409.8,273.4 409.3,273.3 408.8,273.4 408.3,273.3 407.8,273.3 407.3,273.8 406.8,275.5 406.3,276.8 405.8,276.4 405.3,276.6 404.8,276.4 404.3,276.6 403.8,275.6 403.3,274.6 402.8,273.5 402.3,273.3 401.8,273.6 401.3,273.5 400.8,274.1 400.3,274.6 399.8,274.4 399.3,274.5 398.8,273.8 398.3,274.1 397.8,274.9 397.3,275.2 396.8,274.9 396.3,274.2 395.8,273.1 395.3,273.1 394.8,273 394.3,272.8 393.8,273.2 393.3,274.4 392.8,274.9 392.3,275.2 391.8,274.7 391.3,274.4 390.8,274 390.3,273.5 389.8,272.8 389.3,272.4 388.8,272.6 388.3,272.6 387.8,272.8 387.3,273.2 386.8,273.2 386.3,273 385.8,272.9 385.3,272.9 384.8,273.3 384.3,273.5 383.8,275.6 383.3,276.8 382.8,276.8 382.3,276.7 381.8,276.3 381.3,276.2 380.8,275 380.3,273.4 379.8,273.2 379.3,273.3 378.8,272.9 378.3,273.1 377.8,273.4 377.3,273.2 376.8,274.1 376.3,273.9 375.8,274.5 375.3,274.4 374.8,274.3 374.3,273.1 373.8,273.1 373.3,273.2 372.8,273.4 372.3,273.6 371.8,274.7 371.3,274.9 370.8,274.9 370.3,275.4 369.8,276.3 369.3,276.6 368.8,276.3 368.3,276.3 367.8,276.1 367.3,275.3 366.8,272.9 366.3,273.5 365.8,273.9 365.3,274 364.8,273.6 364.3,273.2 363.8,273.6 363.3,273.2 362.8,273.2 362.3,273.3 361.8,273.4 361.3,275.5 360.8,276 360.3,276.4 359.8,276.3 359.3,276.3 358.8,275.7 358.3,274.1 357.8,273.7 357.3,274.2 356.8,274.7 356.3,274.5 355.8,274.6 355.3,274.7 354.8,275 354.3,273.7 353.8,272.7 353.3,272.5 352.8,272.9 352.3,273 351.8,272.9 351.3,273.5 350.8,274 350.3,273.9 349.8,273.7 349.3,273.8 348.8,273.2 348.3,273.2 347.8,273.1 347.3,272.8 346.8,274 346.3,275.2 345.8,275.5 345.3,276.1 344.8,276 344.3,275.9 343.8,274.2 343.3,272.7 342.8,274.7 342.3,276 341.8,276.1 341.3,275.5 340.8,275.7 340.3,275.4 339.8,274.5 339.3,272.4 338.8,273.3 338.3,274.4 337.8,274.7 337.3,274.9 336.8,274.5 336.3,274.7 335.8,273.5 335.3,273.6 334.8,273.4 334.3,273.5 333.8,273.6 333.3,273.9 332.8,274.3 332.3,273.9 331.8,273.5 331.3,273.2 330.8,272.3 330.3,272.7 329.8,272.7 329.3,272.2 328.8,272.2 328.3,272 327.8,272.1 327.3,272.4 326.8,272.5 326.3,273.4 325.8,273.4 325.3,273.3 324.8,273.7 324.3,274.1 323.8,273.2 323.3,273.3 322.8,273.3 322.3,273.2 321.8,273.2 321.3,272.6 320.8,272.7 320.3,272.7 319.8,272.4 319.3,272.1 318.8,271.7 318.3,272 317.8,272 317.3,272.5 316.8,273.7 316.3,273.7 315.8,273.6 315.3,273.7 314.8,273.8 314.3,273 313.8,272.5 313.3,272.7 312.8,272.5 312.3,272.6 311.8,272.4 311.3,272.3 310.8,273.7 310.3,274.8 309.8,274.9 309.3,275.1 308.8,275.1 308.3,274.9 307.8,273.5 307.3,272 306.8,272 306.3,272.3 305.8,272.5 305.3,272.5 304.8,273.3 304.3,273.2 303.8,273.3 303.3,272.9 302.8,273.1 302.3,272.2 301.8,272.5 301.3,272.1 300.8,272.3 300.3,272.2 299.8,272.3 299.3,272.1 298.8,272.4 298.3,272.4 297.8,272.3 297.3,272.3 296.8,272.4 296.3,273.7 295.8,274.4 295.3,274.9 294.8,275.2 294.3,275.2 293.8,274.6 293.3,273.6 292.8,272.9 292.3,274 291.8,274.3 291.3,274.6 290.8,274.1 290.3,274.8 289.8,274.6 289.3,274.9 288.8,274.7 288.3,274.5 287.8,273.7 287.3,272.3 286.8,272.2 286.3,271.8 285.8,271.6 285.3,272.2 284.8,272.7 284.3,272.8 283.8,272.6 283.3,273.7 282.8,274.8 282.3,275.5 281.8,275.7 281.3,275.6 280.8,275 280.3,275.5 279.8,276.2 279.3,276.3 278.8,275.6 278.3,275 277.8,273.7 277.3,272.7 276.8,271.9 276.3,272.1 275.8,271.8 275.3,272 274.8,271.8 274.3,272.5 273.8,272.3 273.3,272.5 272.8,272.3 272.3,272.2 271.8,272.3 271.3,272.3 270.8,273.2 270.3,274.5 269.8,274.7 269.3,274.5 268.8,274 268.3,273.4 267.8,272.5 267.3,272 266.8,272.5 266.3,273.9 265.8,274.2 265.3,274.5 264.8,274.2 264.3,273.6 263.8,272.3 263.3,271.6 262.8,272 262.3,272.9 261.8,273.9 261.3,274 260.8,274.6 260.3,274.3 259.8,273.8 259.3,272.8 258.8,272 258.3,272.4 257.8,272.2 257.3,272.4 256.8,272 256.3,272.3 255.8,272 255.3,272.3 254.8,272 254.3,272.3 253.8,272.1 253.3,273 252.8,273.3 252.3,273.2 251.8,273.3 251.3,273.4 250.8,274.2 250.3,274.1 249.8,274.3 249.3,274.5 248.8,274.4 248.3,273.3 247.8,271.7 247.3,271.9 246.8,271.8 246.3,272 245.8,272 245.3,271.6 244.8,272.3 244.3,272.2 243.8,272.2 243.3,271.7 242.8,271.6 242.3,274.1 241.8,275.1 241.3,275.4 240.8,274.8 240.3,274.3 239.8,274.3 239.3,273.6 238.8,273.4 238.3,273 237.8,272.6 237.3,272.2 236.8,272.9 236.3,273.4 235.8,273.6 235.3,273.2 234.8,272.1 234.3,272.7 233.8,273 233.3,273.2 232.8,273.5 232.3,273.4 231.8,272.3 231.3,271.8 230.8,272.9 230.3,274.5 229.8,274.8 229.3,275.3 228.8,275.4 228.3,275.6 227.8,275.1 227.3,274.4 226.8,273.8 226.3,275 225.8,275.5 225.3,275.5 224.8,275.3 224.3,274.9 223.8,273 223.3,272.8 222.8,272.8 222.3,272.7 221.8,273.2 221.3,274.3 220.8,274.3 220.3,274.7 219.8,274.6 219.3,274.7 218.8,274.8 218.3,274.9 217.8,275.2 217.3,274.5 216.8,273.9 216.3,274.6 215.8,275.4 215.3,275.5 214.8,275.2 214.3,273.9 213.8,273.1 213.3,271.2 212.8,272.1 212.3,273.2 211.8,273.5 211.3,274.1 210.8,273.9 210.3,274.1 209.8,272.4 209.3,271.9 208.8,271.8 208.3,271.8 207.8,271.7 207.3,271.4 206.8,271.5 206.3,271.8 205.8,271.7 205.3,271.8 204.8,272.3 204.3,273.4 203.8,273.5 203.3,273.9 202.8,273.6 202.3,273.3 201.8,272 201.3,271.7 200.8,272.1 200.3,272.2 199.8,272.6 199.3,272.2 198.8,271.8 198.3,271.6 197.8,271.7 197.3,272.7 196.8,274 196.3,274.4 195.8,274.2 195.3,274.1 194.8,273.4 194.3,272.4 193.8,272 193.3,272.5 192.8,272.6 192.3,272.4 191.8,272.4 191.3,272.9 190.8,274.2 190.3,274.2 189.8,274.2 189.3,273.6 188.8,273.4 188.3,273.7 187.8,274 187.3,274.2 186.8,273.9 186.3,273.3 185.8,272.8 185.3,272.4 184.8,271.6 184.3,271.7 183.8,272.2 183.3,272 182.8,272.2 182.3,271.5 181.8,272.5 181.3,272.7 180.8,272.8 180.3,272.6 179.8,272.2 179.3,271.8 178.8,272.1 178.3,272 177.8,272 177.3,272.2 176.8,271.7 176.3,271.4 175.8,271.6 175.3,271.9 174.8,271.8 174.3,271.4 173.8,271.9 173.3,273.3 172.8,273.5 172.3,273.8 171.8,273.7 171.3,273.4 170.8,272.2 170.3,271.6 169.8,271.8 169.3,271.7 168.8,271.5 168.3,270.9 167.8,271.4 167.3,271.5 166.8,272.1 166.3,271.7 165.8,271.4 165.3,271.3 164.8,271.1 164.3,271.2 163.8,271.1 163.3,271.1 162.8,271.1 162.3,271 161.8,271.1 161.3,271.3 160.8,271.6 160.3,271.7 159.8,271.7 159.3,271.3 158.8,272.1 158.3,273.1 157.8,273.8 157.3,273.5 156.8,273.5 156.3,273.4 155.8,272.4 155.3,271.4 154.8,271.6 154.3,272.9 153.8,273.1 153.3,273.6 152.8,273.7 152.3,273.5 151.8,272 151.3,271.1 150.8,271.1 150.3,271.3 149.8,271.3 149.3,270.8 148.8,271 148.3,271.4 147.8,271.7 147.3,272.5 146.8,273.7 146.3,274 145.8,273.7 145.3,273.2 144.8,272.7 144.3,271.8 143.8,271 143.3,272.6 142.8,274 142.3,274.7 141.8,274.6 141.3,274.5 140.8,274 140.3,272.8 139.8,271.3 139.3,271.2 138.8,271.4 138.3,271.5 137.8,271.3 137.3,272.9 136.8,273.7 136.3,273.9 135.8,274.1 135.3,274.2 134.8,274 134.3,273.5 133.8,272.9 133.3,272.5 132.8,271.7 132.3,271.1 131.8,270.9 131.3,270.4 130.8,272.7 130.3,274.4 129.8,275.1 129.3,275 128.8,275 128.3,274.6 127.8,273.1 127.3,270.8 126.8,270.8 126.3,270.8 125.8,273 125.3,274 124.8,274 124.3,274.4 123.8,274.5 123.3,274.5 122.8,274.4 122.3,274.4 121.8,274.3 121.3,274 120.8,273 120.3,270.9 119.8,270.8 119.3,270.4 118.8,270.4 118.3,270.3 117.8,271.3 117.3,271.4 116.8,271.7 116.3,271.8 115.8,271.8 115.3,270.6 114.8,270.5 114.3,270.8 113.8,272 113.3,272.8 112.8,273.2 112.3,273.5 111.8,273.6 111.3,273.3 110.8,272.3 110.3,272 109.8,271.9 109.3,272.7 108.8,272.9 108.3,272.9 107.8,272.8 107.3,272.6 106.8,273 106.3,273 105.8,273 105.3,272.3 104.8,271.4 104.3,270.5 103.8,270.9 103.3,271.3 102.8,271.3 102.3,271.2 101.8,270.6 101.3,270.3 100.8,270.2 100.3,270.5 99.8,270.4 99.3,270.5 98.8,270.2 98.3,270.4 97.8,270.7 97.3,271 96.8,271.5 96.3,271.5 95.8,271.4 95.3,270.6 94.8,270 94.3,269.9 93.8,270.2 93.3,270.4 92.8,270.2 92.3,269.9 91.8,270 91.3,270.1 90.8,270 90.3,270.2 89.8,269.9 89.3,270.1 88.8,271 88.3,272.1 87.8,272 87.3,272.4 86.8,272.4 86.3,272.1 85.8,270.5 85.3,269.8 84.8,269.9 84.3,269.8 83.8,269.7 83.3,269.9 82.8,269.8 82.3,270.4 81.8,270.3 81.3,270.7 80.8,269.8 80.3,271.2 79.8,271.9 79.3,272.8 78.8,272.7 78.3,272.7 77.8,272.3 77.3,271.3 76.8,270.8 76.3,270.5 75.8,269.9 75.3,269.9 74.8,270.4 74.3,270.6 73.8,270.5 73.3,270.1 72.8,269.9 72.3,269.6 71.8,271.6 71.3,273 70.8,273.1 70.3,273 69.8,272.8 69.3,272.7 68.8,271.6 68.3,269.9 67.8,270.8 67.3,271.9 66.8,272 66.3,272.1 65.8,272 65.3,271.6 64.8,271.6 64.3,271.6 63.8,271.3 63.3,271 62.8,269.9 62.3,269.5 61.8,270.5 61.3,271.4 60.8,271.5 60.3,271.6 59.8,270Z" fill="#ff7f07" stroke="#ff7f07" stroke-width="1.0" stroke-linejoin="round"/><path d="M294.7,266.5V276.1M370,267.2V274.8M456,271.2V282.8" stroke="#ff7f07" stroke-width="2.4" stroke-linecap="round"/><path d="M110,265.1V273.6" stroke="#ff7f07" stroke-width="2.8" stroke-linecap="round"/><line x1="104.3" y1="270" x2="104.3" y2="276.5" stroke="#ff7f07" stroke-width="1.3" stroke-linecap="round"/><circle cx="104.3" cy="276.5" r="1.45" fill="#ff7f07"/><line x1="492.4" y1="283" x2="492.4" y2="289.5" stroke="#ff7f07" stroke-width="1.3" stroke-linecap="round"/><circle cx="492.4" cy="289.5" r="1.45" fill="#ff7f07"/><path d="M59.8,258.1 60.3,256.5 60.8,256.1 61.3,255.2 61.8,253.7 62.3,253.1 62.8,252.9 63.3,253.3 63.8,254 64.3,255 64.8,256 65.3,255.5 65.8,255.2 66.3,255.1 66.8,255.1 67.3,255.2 67.8,255.2 68.3,255.1 68.8,255.5 69.3,255.7 69.8,256 70.3,254.7 70.8,254 71.3,253.6 71.8,253.9 72.3,254.5 72.8,254.8 73.3,254.6 73.8,254.5 74.3,254.9 74.8,254.8 75.3,255 75.8,255 76.3,255.1 76.8,254.9 77.3,254.9 77.8,254.8 78.3,254.8 78.8,255 79.3,253.2 79.8,252.1 80.3,251.6 80.8,251.3 81.3,251.4 81.8,251.8 82.3,253 82.8,254.1 83.3,255.3 83.8,254.9 84.3,254 84.8,253.6 85.3,253.6 85.8,253.8 86.3,254.1 86.8,254 87.3,253.9 87.8,254.2 88.3,254.1 88.8,254.6 89.3,255.6 89.8,255.6 90.3,255.2 90.8,255.3 91.3,255.3 91.8,255.3 92.3,255.2 92.8,254.7 93.3,253.7 93.8,253.5 94.3,253.5 94.8,253.7 95.3,253.4 95.8,254.5 96.3,255 96.8,255.6 97.3,253.6 97.8,252.2 98.3,251.6 98.8,251.8 99.3,252.2 99.8,252.7 100.3,253.5 100.8,254.7 101.3,255.1 101.8,253.6 102.3,253.5 102.8,253.5 103.3,253.9 103.8,254.2 104.3,255 104.8,255.3 105.3,254.9 105.8,255 106.3,254.7 106.8,254.9 107.3,255.1 107.8,254.5 108.3,253.5 108.8,252.7 109.3,252.5 109.8,252.2 110.3,252.1 110.8,251.6 111.3,251.5 111.8,251.9 112.3,253.1 112.8,253.6 113.3,252.7 113.8,252.3 114.3,252.1 114.8,252.1 115.3,252.1 115.8,253 116.3,253.3 116.8,252.4 117.3,252.1 117.8,252.1 118.3,251.6 118.8,251.4 119.3,252.5 119.8,254.5 120.3,255.2 120.8,255.1 121.3,255.1 121.8,254.3 122.3,253.5 122.8,253.6 123.3,253.7 123.8,253.8 124.3,253.8 124.8,254.2 125.3,253.9 125.8,253.7 126.3,254.2 126.8,254.4 127.3,255.4 127.8,255.3 128.3,253.2 128.8,252.2 129.3,252.1 129.8,252 130.3,252.1 130.8,252 131.3,253.4 131.8,253.9 132.3,253.6 132.8,253.4 133.3,253.9 133.8,253.8 134.3,253.9 134.8,255 135.3,254 135.8,253.9 136.3,253.7 136.8,253.8 137.3,253.9 137.8,254.9 138.3,255 138.8,255.1 139.3,255.1 139.8,255.1 140.3,254.4 140.8,254.5 141.3,254.3 141.8,253.7 142.3,253.3 142.8,253.3 143.3,253.5 143.8,253.2 144.3,252.9 144.8,253 145.3,252.7 145.8,252.8 146.3,252.8 146.8,253.5 147.3,253.6 147.8,253.7 148.3,254 148.8,255.1 149.3,255 149.8,253.6 150.3,253.4 150.8,252.9 151.3,252.9 151.8,253.4 152.3,255.4 152.8,256.1 153.3,255.4 153.8,254.9 154.3,254.7 154.8,253.8 155.3,253.9 155.8,253.8 156.3,254.2 156.8,254.2 157.3,255.4 157.8,255.3 158.3,255.4 158.8,255.3 159.3,254.8 159.8,255 160.3,255 160.8,255.5 161.3,254.8 161.8,254.7 162.3,254.8 162.8,255.1 163.3,255 163.8,254.5 164.3,254.7 164.8,255.2 165.3,255.5 165.8,255.1 166.3,254.7 166.8,253.7 167.3,253.6 167.8,253.6 168.3,253.7 168.8,252.9 169.3,252.6 169.8,252.5 170.3,252.2 170.8,252.6 171.3,253.9 171.8,255.2 172.3,255 172.8,254.5 173.3,254.9 173.8,255.2 174.3,255.6 174.8,254.9 175.3,255.3 175.8,255.1 176.3,255.6 176.8,255.4 177.3,255.4 177.8,255.1 178.3,255.5 178.8,256 179.3,255.9 179.8,254.2 180.3,253.4 180.8,253.5 181.3,253.6 181.8,254.5 182.3,255.4 182.8,255.6 183.3,254.4 183.8,253.5 184.3,252.8 184.8,253 185.3,252.6 185.8,252.9 186.3,254.1 186.8,255 187.3,255.5 187.8,255.7 188.3,255.7 188.8,255.3 189.3,254.4 189.8,254.1 190.3,254.5 190.8,255.2 191.3,255.6 191.8,255.1 192.3,255 192.8,253.5 193.3,252.6 193.8,252.2 194.3,252.2 194.8,252.5 195.3,253.2 195.8,254.2 196.3,255.4 196.8,255.3 197.3,255 197.8,255 198.3,254.7 198.8,254.8 199.3,255.1 199.8,255.3 200.3,255.4 200.8,254.5 201.3,254.1 201.8,253.7 202.3,253.8 202.8,254.4 203.3,254.2 203.8,253 204.3,252.4 204.8,252.2 205.3,252.3 205.8,253.1 206.3,253.7 206.8,253.9 207.3,254 207.8,254.9 208.3,255.4 208.8,255.4 209.3,255.4 209.8,254.2 210.3,252.4 210.8,252.2 211.3,252.5 211.8,252.9 212.3,252.8 212.8,253.9 213.3,254.5 213.8,253.8 214.3,253.2 214.8,253 215.3,252.7 215.8,252.9 216.3,252.8 216.8,253.3 217.3,254.4 217.8,255.9 218.3,255.2 218.8,254.9 219.3,254.9 219.8,255.3 220.3,255.5 220.8,255.5 221.3,255.5 221.8,255.5 222.3,255.2 222.8,255 223.3,254.8 223.8,255 224.3,255.1 224.8,254.6 225.3,253.6 225.8,253.4 226.3,253 226.8,252.8 227.3,252.9 227.8,254.3 228.3,255.6 228.8,255.5 229.3,255.5 229.8,255.4 230.3,255.6 230.8,255.8 231.3,255.9 231.8,255.5 232.3,254.1 232.8,253.1 233.3,253.2 233.8,253.1 234.3,253.2 234.8,253.7 235.3,254.8 235.8,253.9 236.3,253.8 236.8,253.8 237.3,254.2 237.8,254 238.3,255 238.8,255.6 239.3,255.7 239.8,255.4 240.3,255.8 240.8,255.2 241.3,255.7 241.8,255.4 242.3,254.8 242.8,254.4 243.3,253.9 243.8,253.6 244.3,253.7 244.8,253.8 245.3,253.7 245.8,253.8 246.3,254.1 246.8,254.4 247.3,254.8 247.8,255.7 248.3,255.9 248.8,255.9 249.3,255.2 249.8,255 250.3,254.9 250.8,255.6 251.3,255.8 251.8,256 252.3,254.3 252.8,253.2 253.3,252.5 253.8,252.4 254.3,252.4 254.8,252.7 255.3,253.7 255.8,255.3 256.3,253.5 256.8,252.5 257.3,251.5 257.8,251.4 258.3,251.7 258.8,252.6 259.3,253.9 259.8,255.6 260.3,255.9 260.8,255.7 261.3,255.9 261.8,255.8 262.3,255.5 262.8,254.3 263.3,253.6 263.8,253.5 264.3,253.7 264.8,254 265.3,255 265.8,254.6 266.3,254.6 266.8,253.3 267.3,252.3 267.8,251.8 268.3,251.9 268.8,251.8 269.3,252.1 269.8,252.7 270.3,252 270.8,252.2 271.3,252.5 271.8,252.4 272.3,252.4 272.8,254.1 273.3,254.7 273.8,254.5 274.3,254.3 274.8,254.2 275.3,254.4 275.8,254.5 276.3,256 276.8,255.6 277.3,255.7 277.8,255.2 278.3,255.7 278.8,255.7 279.3,255.7 279.8,254.3 280.3,252.9 280.8,252.9 281.3,252.8 281.8,252.9 282.3,252.9 282.8,253 283.3,252.9 283.8,253.1 284.3,253.9 284.8,253.8 285.3,253.6 285.8,253.1 286.3,252 286.8,251.9 287.3,251.7 287.8,252.2 288.3,252.8 288.8,254.3 289.3,256.2 289.8,255.9 290.3,255.9 290.8,254.2 291.3,253.2 291.8,252.5 292.3,252.7 292.8,253.2 293.3,254.1 293.8,254.9 294.3,256.1 294.8,255.6 295.3,255.5 295.8,254.9 296.3,254.5 296.8,254.3 297.3,254.6 297.8,254.9 298.3,255.1 298.8,255.6 299.3,255.4 299.8,255.5 300.3,255.7 300.8,255.4 301.3,255.7 301.8,256 302.3,253.6 302.8,252.1 303.3,251.5 303.8,251.7 304.3,252.2 304.8,252.4 305.3,253.9 305.8,254.2 306.3,254.3 306.8,253.9 307.3,253.3 307.8,253.3 308.3,254.6 308.8,254.4 309.3,254.8 309.8,254.9 310.3,254.6 310.8,255 311.3,255.1 311.8,255 312.3,254.8 312.8,254.6 313.3,255.1 313.8,255.3 314.3,255.9 314.8,255.9 315.3,256 315.8,256.1 316.3,256.1 316.8,256 317.3,255.8 317.8,255.9 318.3,255.7 318.8,256.2 319.3,255.9 319.8,256.1 320.3,255.5 320.8,255.8 321.3,255.9 321.8,255.7 322.3,255.8 322.8,255.4 323.3,255.8 323.8,254.6 324.3,253.9 324.8,253 325.3,252.9 325.8,253.3 326.3,253.9 326.8,254.8 327.3,254.4 327.8,253.6 328.3,253.3 328.8,253.5 329.3,253.5 329.8,253.7 330.3,254.7 330.8,256.1 331.3,256 331.8,256.1 332.3,256.2 332.8,256.7 333.3,256.1 333.8,255.8 334.3,254.1 334.8,253.6 335.3,253.3 335.8,253 336.3,253 336.8,253 337.3,254.3 337.8,254.3 338.3,254.4 338.8,254.5 339.3,254.7 339.8,255.6 340.3,255.7 340.8,254.4 341.3,253.4 341.8,253.2 342.3,252.9 342.8,252.6 343.3,253 343.8,254.5 344.3,256.1 344.8,255.7 345.3,256 345.8,255.7 346.3,254.5 346.8,254.1 347.3,254 347.8,254.4 348.3,255.2 348.8,255.6 349.3,254.4 349.8,253.1 350.3,253.2 350.8,253 351.3,252.8 351.8,252.5 352.3,252.4 352.8,252.3 353.3,252.8 353.8,253 354.3,254.1 354.8,255.7 355.3,256.3 355.8,256.3 356.3,256.4 356.8,255.7 357.3,255.6 357.8,253.1 358.3,252.5 358.8,252.2 359.3,252.8 359.8,253 360.3,253.3 360.8,253.5 361.3,253.6 361.8,254.2 362.3,254.9 362.8,255.8 363.3,255.6 363.8,254.8 364.3,254.2 364.8,254.1 365.3,254.4 365.8,254.5 366.3,254.4 366.8,254.6 367.3,254 367.8,254.1 368.3,254 368.8,254.5 369.3,255.2 369.8,254.7 370.3,254.3 370.8,254.9 371.3,255 371.8,254.8 372.3,254.2 372.8,254.3 373.3,254.6 373.8,254.2 374.3,254 374.8,253.9 375.3,255.2 375.8,255.5 376.3,255.2 376.8,255.7 377.3,255.5 377.8,255.8 378.3,255.9 378.8,256.2 379.3,256.1 379.8,254.5 380.3,253.4 380.8,253.3 381.3,253.1 381.8,253 382.3,253.3 382.8,253.2 383.3,253.4 383.8,253.7 384.3,255.1 384.8,255.9 385.3,256 385.8,255.7 386.3,256.1 386.8,255.8 387.3,256 387.8,255.1 388.3,254.9 388.8,254.6 389.3,254.8 389.8,255 390.3,255.5 390.8,256 391.3,256.1 391.8,256.1 392.3,256 392.8,256 393.3,256.1 393.8,255.8 394.3,255.9 394.8,256.1 395.3,256.7 395.8,256.8 396.3,257 396.8,256.1 397.3,254 397.8,252.3 398.3,252.4 398.8,252.4 399.3,253.1 399.8,253.5 400.3,255 400.8,254.2 401.3,253.9 401.8,253.2 402.3,253.6 402.8,253.8 403.3,255.1 403.8,255.9 404.3,255.9 404.8,255.9 405.3,256.1 405.8,256.1 406.3,256.4 406.8,256.2 407.3,256.6 407.8,256.7 408.3,257.1 408.8,256.3 409.3,256.3 409.8,255.9 410.3,256.3 410.8,256.2 411.3,256.4 411.8,256.2 412.3,256.1 412.8,255.9 413.3,255.9 413.8,256 414.3,255.8 414.8,255.9 415.3,255.9 415.8,256.1 416.3,256.5 416.8,256.7 417.3,256.4 417.8,256 418.3,255.8 418.8,256.4 419.3,256 419.8,255.5 420.3,254.8 420.8,254.7 421.3,255.1 421.8,254.8 422.3,254.7 422.8,254 423.3,253.5 423.8,253.9 424.3,254.4 424.8,254.4 425.3,254.1 425.8,254.1 426.3,255 426.8,256 427.3,254.3 427.8,253.1 428.3,252.5 428.8,252.5 429.3,252.9 429.8,253.4 430.3,255 430.8,257 431.3,256.8 431.8,256.4 432.3,256.4 432.8,256.5 433.3,255.5 433.8,253.9 434.3,253.5 434.8,253.1 435.3,253.2 435.8,253.6 436.3,253.3 436.8,253.4 437.3,253.2 437.8,253.2 438.3,253.4 438.8,254.5 439.3,256 439.8,255.7 440.3,255.4 440.8,255.7 441.3,256 441.8,256.8 442.3,256.7 442.8,256.7 443.3,256 443.8,255.9 444.3,256 444.8,256.4 445.3,255.2 445.8,254.3 446.3,253.9 446.8,253.6 447.3,253.6 447.8,254.1 448.3,253.2 448.8,253 449.3,253 449.8,253.5 450.3,254.3 450.8,255.1 451.3,256.9 451.8,256.2 452.3,256.8 452.8,256.7 453.3,256.9 453.8,256.6 454.3,256.5 454.8,256.3 455.3,256.6 455.8,257 456.3,257.2 456.8,257 457.3,257 457.8,257 458.3,257 458.8,257 459.3,256.8 459.8,257.1 460.3,257 460.8,257.5 461.3,257.3 461.8,256.1 462.3,254.4 462.8,254.2 463.3,254.6 463.8,255.3 464.3,255.5 464.8,255.5 465.3,255.5 465.8,255.5 466.3,255.6 466.8,256.2 467.3,256.3 467.8,256.9 468.3,257.1 468.8,257.1 469.3,256 469.8,254.8 470.3,254.8 470.8,255.2 471.3,255.1 471.8,255.4 472.3,256.1 472.8,255.3 473.3,254.9 473.8,254.1 474.3,254.1 474.8,254.5 475.3,254.7 475.8,255 476.3,255.5 476.8,256 477.3,256.8 477.8,257.6 478.3,255.3 478.8,254.5 479.3,254.2 479.8,254.7 480.3,254.9 480.8,255.2 481.3,254.7 481.8,254.9 482.3,255.2 482.8,255.7 483.3,256.9 483.8,256.9 484.3,257.8 484.8,258.3 485.3,258.4 485.8,258.3 486.3,257.9 486.8,258.1 487.3,257.9 487.8,258.2 488.3,258 488.8,258.1 489.3,258.1 489.8,257.5 490.3,256.2 490.8,255.8 491.3,255.9 491.8,256.4 492.3,256.8 492.8,257.9 493.3,258.5 493.8,258.4 494.3,257 494.8,256.6 495.3,256.6 495.8,257 496.3,257.1 496.8,257.7 497.3,256.9 497.8,256.7 498.3,256.5 498.8,256.7 499.3,257.1 499.8,258.5 500.3,258.2 500.8,257.9 501.3,257.9 501.8,258 502.3,258.2 502.8,257.8 503.3,257.4 503.8,257.7 504.3,257.6 504.8,256.5 505.3,255.2 505.8,255.5 506.3,255.3 506.8,255.6 507.3,255.7 507.8,257 508.3,257 508.8,257.1 509.3,257.2 509.8,257.1 510.3,256.9 510.8,256.9 511.3,257.4 511.8,258.1 512.3,259 512.8,258.7 513.3,258.6 513.8,258.5 514.3,258.8 514.8,258.6 515.3,257.6 515.8,256.4 516.3,256.1 516.8,255.6 517.3,256.1 517.8,256.3 518.3,257.9 518.8,259.1 519.3,258.9 519.8,258.8 520.3,258.4 520.8,258.5 521.3,257.4 521.8,256.3 522.3,255.9 522.8,255.5 523.3,255.8 523.8,256.2 524.3,257.2 524.8,259.9 524.8,267.4 524.3,270.6 523.8,272.3 523.3,272.5 522.8,272.8 522.3,272.5 521.8,272.4 521.3,271.1 520.8,271.1 520.3,270.9 519.8,272.2 519.3,272.5 518.8,272.6 518.3,272.4 517.8,272.1 517.3,270.9 516.8,269.4 516.3,270.4 515.8,271.1 515.3,271.2 514.8,271.2 514.3,270.7 513.8,269.3 513.3,269.1 512.8,269.4 512.3,269.6 511.8,269.4 511.3,268.9 510.8,268.9 510.3,268.7 509.8,268.7 509.3,268.5 508.8,269.4 508.3,269.6 507.8,269.3 507.3,268.5 506.8,268.6 506.3,269 505.8,270 505.3,270.2 504.8,270.4 504.3,270.4 503.8,269.9 503.3,268.7 502.8,268.8 502.3,269.1 501.8,269.4 501.3,270.4 500.8,271.4 500.3,271.5 499.8,271.7 499.3,271.8 498.8,271 498.3,269.9 497.8,268.5 497.3,269.1 496.8,270.2 496.3,270.5 495.8,270.4 495.3,269.7 494.8,269.5 494.3,268.4 493.8,269.9 493.3,270.2 492.8,270.5 492.3,270.2 491.8,269.5 491.3,269.2 490.8,270.6 490.3,270.9 489.8,270.3 489.3,270.6 488.8,270.4 488.3,269.9 487.8,269.4 487.3,269 486.8,268.5 486.3,268.3 485.8,268.9 485.3,270.2 484.8,270.4 484.3,270.4 483.8,270 483.3,269.9 482.8,268.9 482.3,268.3 481.8,270.2 481.3,271.5 480.8,271.4 480.3,271.4 479.8,271.6 479.3,271.6 478.8,270.2 478.3,268.1 477.8,268 477.3,268.6 476.8,268.8 476.3,268.7 475.8,268.3 475.3,268 474.8,268 474.3,268.1 473.8,268.2 473.3,268.3 472.8,268.1 472.3,268.2 471.8,268.2 471.3,268.1 470.8,268 470.3,267.6 469.8,268.6 469.3,269 468.8,269.2 468.3,269.2 467.8,268.9 467.3,267.8 466.8,268.3 466.3,268.4 465.8,268.7 465.3,268.3 464.8,268.2 464.3,268.3 463.8,268.1 463.3,268.1 462.8,268.1 462.3,268.6 461.8,268.6 461.3,269.4 460.8,269.7 460.3,270.1 459.8,271 459.3,270.9 458.8,270.6 458.3,270.6 457.8,270.8 457.3,269.6 456.8,267.9 456.3,267.1 455.8,266.9 455.3,267.1 454.8,267.9 454.3,268.5 453.8,268.2 453.3,268.9 452.8,270 452.3,270.5 451.8,270.4 451.3,270.4 450.8,269.7 450.3,268.5 449.8,266.5 449.3,267.7 448.8,268.5 448.3,269.1 447.8,269.2 447.3,268.5 446.8,268.1 446.3,267.9 445.8,267.5 445.3,267.5 444.8,268.3 444.3,268 443.8,268.3 443.3,268.3 442.8,268.4 442.3,268.4 441.8,267.8 441.3,267.4 440.8,267.2 440.3,267.8 439.8,267.6 439.3,268.6 438.8,268.7 438.3,268.7 437.8,269.9 437.3,270.2 436.8,270.1 436.3,270.2 435.8,269.6 435.3,268.3 434.8,266.9 434.3,267 433.8,267.3 433.3,267.4 432.8,267.2 432.3,267.4 431.8,267.4 431.3,268 430.8,268.3 430.3,267.6 429.8,267.3 429.3,266.9 428.8,267.3 428.3,267 427.8,267 427.3,266.7 426.8,267 426.3,266.7 425.8,266.2 425.3,266.2 424.8,266.3 424.3,267.2 423.8,267 423.3,267.3 422.8,266.9 422.3,266.8 421.8,266.9 421.3,266.9 420.8,266.6 420.3,266.6 419.8,266.7 419.3,266.8 418.8,266.6 418.3,267.5 417.8,268.7 417.3,269.1 416.8,269.3 416.3,269.3 415.8,269 415.3,267.3 414.8,266.6 414.3,266.6 413.8,267.2 413.3,267.5 412.8,268.7 412.3,268.5 411.8,269.1 411.3,269.6 410.8,269.9 410.3,269.9 409.8,269.2 409.3,268.4 408.8,269.3 408.3,269.7 407.8,269.9 407.3,269.8 406.8,269.6 406.3,268.3 405.8,267 405.3,266.9 404.8,266.6 404.3,266.5 403.8,266.6 403.3,267 402.8,266.8 402.3,266.6 401.8,267 401.3,267.2 400.8,267.8 400.3,267.6 399.8,267.4 399.3,266.4 398.8,268.1 398.3,269.1 397.8,269.3 397.3,269 396.8,269.2 396.3,269.2 395.8,269.5 395.3,269.6 394.8,269.4 394.3,269.9 393.8,269.7 393.3,269.9 392.8,270 392.3,270 391.8,269.6 391.3,269.3 390.8,267.9 390.3,266.3 389.8,265.9 389.3,265.8 388.8,266 388.3,266.8 387.8,267.6 387.3,267.8 386.8,267.7 386.3,267.8 385.8,267.5 385.3,266.2 384.8,266.3 384.3,267.6 383.8,267.7 383.3,267.8 382.8,267.7 382.3,268 381.8,268.8 381.3,269.2 380.8,268.8 380.3,268.9 379.8,268.9 379.3,268.1 378.8,268.9 378.3,269.1 377.8,269.3 377.3,269.2 376.8,269.2 376.3,268 375.8,266.5 375.3,266.3 374.8,266 374.3,266.3 373.8,266.2 373.3,266.3 372.8,266.2 372.3,266.3 371.8,265.9 371.3,266.2 370.8,267.1 370.3,268 369.8,268.3 369.3,268.4 368.8,267.8 368.3,266.3 367.8,266.1 367.3,268.2 366.8,269.3 366.3,270 365.8,270.1 365.3,270.2 364.8,269.6 364.3,268.2 363.8,266.3 363.3,266.5 362.8,268.1 362.3,269.1 361.8,269.8 361.3,269.9 360.8,269.6 360.3,268.6 359.8,267.5 359.3,266.1 358.8,266.2 358.3,266.3 357.8,266 357.3,266.3 356.8,266.1 356.3,266.1 355.8,266 355.3,265.9 354.8,266.1 354.3,266.2 353.8,266.1 353.3,266.2 352.8,266 352.3,265.7 351.8,266.2 351.3,267.1 350.8,267.9 350.3,268.4 349.8,268.2 349.3,267.6 348.8,266.2 348.3,265.6 347.8,265.6 347.3,265.8 346.8,266.2 346.3,268.3 345.8,269.6 345.3,269.5 344.8,269 344.3,269.2 343.8,268.9 343.3,267.9 342.8,268.8 342.3,269.1 341.8,269.1 341.3,268.7 340.8,268.6 340.3,267.9 339.8,266.2 339.3,266.3 338.8,266.2 338.3,266.4 337.8,266 337.3,265.6 336.8,265.6 336.3,265.5 335.8,265.6 335.3,265.6 334.8,265.7 334.3,266 333.8,267.1 333.3,267.8 332.8,268.1 332.3,267.9 331.8,268.2 331.3,267.9 330.8,267.8 330.3,267.1 329.8,266.3 329.3,265.6 328.8,265.9 328.3,265.5 327.8,265.6 327.3,265.1 326.8,265.5 326.3,265.3 325.8,265.5 325.3,265.5 324.8,265.3 324.3,265.5 323.8,265.2 323.3,265.8 322.8,265.7 322.3,265.9 321.8,265.4 321.3,264.8 320.8,264.7 320.3,264.6 319.8,265.2 319.3,265.1 318.8,265.4 318.3,265.7 317.8,267 317.3,267.3 316.8,267.7 316.3,267.1 315.8,266.7 315.3,265.7 314.8,266 314.3,265.9 313.8,265.6 313.3,265.8 312.8,266.1 312.3,265.8 311.8,265.5 311.3,265.5 310.8,265.6 310.3,265.6 309.8,265.2 309.3,265.1 308.8,265 308.3,264.9 307.8,264.6 307.3,265.7 306.8,266 306.3,266.3 305.8,266.3 305.3,266.9 304.8,267.5 304.3,267.5 303.8,267.1 303.3,266.5 302.8,266.2 302.3,266.8 301.8,267.1 301.3,267.5 300.8,267.1 300.3,265.8 299.8,266.5 299.3,267.1 298.8,266.8 298.3,266.8 297.8,266 297.3,265.4 296.8,265.1 296.3,265.3 295.8,265 295.3,267 294.8,268.3 294.3,268.7 293.8,269 293.3,268.8 292.8,268.8 292.3,267.8 291.8,268 291.3,268.3 290.8,268.3 290.3,268.2 289.8,268 289.3,268.1 288.8,268 288.3,268.1 287.8,268.1 287.3,268.1 286.8,266.6 286.3,265.3 285.8,265.4 285.3,265.8 284.8,265.7 284.3,265.4 283.8,265.1 283.3,265 282.8,265.1 282.3,265.1 281.8,266.5 281.3,267.7 280.8,268.1 280.3,267.7 279.8,267.7 279.3,267.4 278.8,266.9 278.3,266.7 277.8,267.3 277.3,267.8 276.8,267.3 276.3,266.1 275.8,265.7 275.3,266 274.8,265.5 274.3,265.6 273.8,265.4 273.3,265.2 272.8,265.2 272.3,265.1 271.8,265.1 271.3,264.8 270.8,264.7 270.3,264.7 269.8,264.6 269.3,264.4 268.8,264.7 268.3,264.9 267.8,264.9 267.3,265.3 266.8,265.5 266.3,265.9 265.8,265.6 265.3,265.6 264.8,265.3 264.3,265.2 263.8,264.9 263.3,265.3 262.8,265.2 262.3,265.6 261.8,265.2 261.3,265.1 260.8,265.2 260.3,265.4 259.8,266.9 259.3,268.4 258.8,268.6 258.3,269 257.8,268.5 257.3,268.3 256.8,267.2 256.3,265.7 255.8,265.4 255.3,265.3 254.8,265.4 254.3,265.6 253.8,264.8 253.3,264.4 252.8,264.7 252.3,265.5 251.8,266.4 251.3,266.8 250.8,267.2 250.3,267.2 249.8,267.5 249.3,267 248.8,266.4 248.3,265.4 247.8,264.7 247.3,265.3 246.8,265.5 246.3,265 245.8,264.7 245.3,264.4 244.8,265 244.3,265.1 243.8,265.2 243.3,265.3 242.8,265.1 242.3,265.2 241.8,264.8 241.3,265.1 240.8,265.2 240.3,265.4 239.8,267.3 239.3,268.3 238.8,268.9 238.3,268.9 237.8,268.9 237.3,268.1 236.8,266.8 236.3,264.4 235.8,264.2 235.3,264.6 234.8,265 234.3,265.2 233.8,265.1 233.3,265.1 232.8,264.8 232.3,264.9 231.8,265.3 231.3,265.5 230.8,265.2 230.3,264.9 229.8,264.8 229.3,265 228.8,264.4 228.3,264.6 227.8,264.8 227.3,265.2 226.8,265.1 226.3,265.1 225.8,265.4 225.3,265.8 224.8,265.8 224.3,265.6 223.8,265.4 223.3,265.1 222.8,266.1 222.3,267 221.8,266.6 221.3,266.4 220.8,266.7 220.3,267.2 219.8,266.8 219.3,266.5 218.8,266.4 218.3,266.1 217.8,265.8 217.3,264.5 216.8,264.5 216.3,264.2 215.8,264.3 215.3,264 214.8,264.8 214.3,265.6 213.8,266.3 213.3,265.9 212.8,265.9 212.3,265.4 211.8,264.8 211.3,265 210.8,265.7 210.3,266.9 209.8,266.8 209.3,266.5 208.8,266.4 208.3,266.2 207.8,265.2 207.3,264.8 206.8,264.7 206.3,264.6 205.8,265.1 205.3,264.9 204.8,266.4 204.3,266.1 203.8,266.5 203.3,266.2 202.8,266 202.3,266.3 201.8,266.6 201.3,266.3 200.8,266.8 200.3,265.8 199.8,266.6 199.3,265.7 198.8,266.2 198.3,266.9 197.8,267.7 197.3,268.1 196.8,268.1 196.3,267.8 195.8,266.5 195.3,265.4 194.8,266.1 194.3,266.8 193.8,267.4 193.3,267.5 192.8,267.5 192.3,267.6 191.8,267.4 191.3,267.6 190.8,267.6 190.3,266.6 189.8,265.2 189.3,264.9 188.8,264.7 188.3,264.9 187.8,264.9 187.3,265 186.8,264.5 186.3,264.8 185.8,264.6 185.3,264.7 184.8,264.2 184.3,263.9 183.8,264 183.3,264.3 182.8,264.9 182.3,265 181.8,265 181.3,264.6 180.8,264.5 180.3,264.4 179.8,264.6 179.3,264.4 178.8,264.8 178.3,264.3 177.8,264.7 177.3,264.6 176.8,265.1 176.3,264.9 175.8,264.6 175.3,264.7 174.8,264.8 174.3,265 173.8,265.2 173.3,266.4 172.8,266.5 172.3,266.5 171.8,266.2 171.3,265.8 170.8,264.5 170.3,264.4 169.8,265.5 169.3,265.9 168.8,266.1 168.3,266.5 167.8,266.7 167.3,267.1 166.8,267 166.3,266.7 165.8,265.2 165.3,264.6 164.8,264.4 164.3,264.2 163.8,264.3 163.3,264.7 162.8,264.5 162.3,264.4 161.8,264.4 161.3,264.9 160.8,265.2 160.3,265.1 159.8,265 159.3,264.5 158.8,264.9 158.3,264.7 157.8,264.6 157.3,263.9 156.8,263.6 156.3,263.9 155.8,264.5 155.3,264.9 154.8,265.1 154.3,264.8 153.8,265.4 153.3,265.2 152.8,265.3 152.3,264.6 151.8,264.7 151.3,264.3 150.8,264.5 150.3,264.3 149.8,264.5 149.3,265 148.8,266.5 148.3,267 147.8,267.1 147.3,267 146.8,266.8 146.3,265.7 145.8,264.8 145.3,264.4 144.8,264.4 144.3,264.3 143.8,264.2 143.3,264.5 142.8,264.7 142.3,264.8 141.8,264.4 141.3,263.9 140.8,264.2 140.3,264.6 139.8,264.7 139.3,264.2 138.8,264.1 138.3,264.1 137.8,264.5 137.3,265.1 136.8,265.3 136.3,265.4 135.8,265.3 135.3,265.6 134.8,264.9 134.3,264.9 133.8,265.1 133.3,265.7 132.8,266.4 132.3,266.2 131.8,266.4 131.3,267.3 130.8,268.1 130.3,268.2 129.8,267.7 129.3,267.4 128.8,265.8 128.3,264.3 127.8,264.2 127.3,264.8 126.8,264.4 126.3,264.4 125.8,264.3 125.3,264.8 124.8,264.5 124.3,266.1 123.8,266.9 123.3,267.1 122.8,267.5 122.3,267.1 121.8,267 121.3,265.6 120.8,264.2 120.3,265.2 119.8,266.2 119.3,266.1 118.8,266.4 118.3,265.2 117.8,264.4 117.3,263.7 116.8,264 116.3,264 115.8,264.1 115.3,264.6 114.8,264.9 114.3,264.8 113.8,264.6 113.3,264 112.8,264.4 112.3,264.2 111.8,264.6 111.3,266.3 110.8,267.3 110.3,267.3 109.8,267.9 109.3,267.8 108.8,267.5 108.3,265.6 107.8,263.9 107.3,264.3 106.8,264.4 106.3,265.3 105.8,265.2 105.3,265.1 104.8,264.8 104.3,264.6 103.8,263.7 103.3,263.9 102.8,263.7 102.3,264.1 101.8,264.2 101.3,264.4 100.8,264.1 100.3,264.2 99.8,264.3 99.3,264.7 98.8,265.6 98.3,266.3 97.8,266.3 97.3,266.4 96.8,266.6 96.3,266.3 95.8,265.3 95.3,264.7 94.8,264.9 94.3,265 93.8,264.7 93.3,264.2 92.8,263.8 92.3,263.7 91.8,264.1 91.3,263.9 90.8,263.8 90.3,263.8 89.8,264 89.3,263.9 88.8,264.3 88.3,265.4 87.8,266 87.3,266 86.8,265.9 86.3,266.1 85.8,266 85.3,265.9 84.8,265.1 84.3,264 83.8,263.1 83.3,263.1 82.8,263.4 82.3,263.9 81.8,264.3 81.3,263.7 80.8,263.6 80.3,263.5 79.8,265.5 79.3,266.4 78.8,266.9 78.3,267.7 77.8,267.9 77.3,268.2 76.8,267.5 76.3,266 75.8,263.6 75.3,264 74.8,264.9 74.3,265.9 73.8,266.2 73.3,266 72.8,265.8 72.3,265.7 71.8,264.7 71.3,264.3 70.8,264.6 70.3,264.5 69.8,264 69.3,263.5 68.8,264.7 68.3,265.4 67.8,265.5 67.3,265.3 66.8,265 66.3,265.5 65.8,266.3 65.3,266.4 64.8,266.7 64.3,266.9 63.8,266.5 63.3,265.5 62.8,263.7 62.3,263.5 61.8,263.6 61.3,263.8 60.8,263.8 60.3,263.4 59.8,261.9Z" fill="#0aa314" stroke="#0aa314" stroke-width="1.0" stroke-linejoin="round"/><path d="M61,259.5V252.2M232,260.2V252.7M275,260.4V253M458.6,262.3V250.2M481,263V252.2" stroke="#0aa314" stroke-width="2.4" stroke-linecap="round"/></g><path d="M37.5,316.4h1.6M37.5,312h1.6M37.5,307.7h1.6M37.5,303.4h1.6M37.5,294.7h1.6M37.5,290.4h1.6M37.5,286.1h1.6M37.5,281.7h1.6M37.5,273.1h1.6M37.5,268.7h1.6M37.5,264.4h1.6M37.5,260.1h1.6M37.5,251.4h1.6M37.5,247.1h1.6M37.5,242.8h1.6M37.5,238.4h1.6" stroke="#555" stroke-width="0.55"/><path d="M37.5,320.7h3.2M37.5,299h3.2M37.5,277.4h3.2M37.5,255.8h3.2M37.5,234.1h3.2M38.1,320.7v-3.2M104.4,320.7v-3.2M170.7,320.7v-3.2M237.1,320.7v-3.2M303.4,320.7v-3.2M369.7,320.7v-3.2M436,320.7v-3.2M502.4,320.7v-3.2" stroke="#222" stroke-width="0.8"/><rect x="37.5" y="234.1" width="509.9" height="86.6" fill="none" stroke="#1a1a1a" stroke-width="1.05"/><g font-family="'Liberation Serif','Times New Roman',serif" font-weight="bold" stroke="#000" stroke-width="0.18" font-size="9.15" fill="#000"><text x="34" y="323.9" text-anchor="end">−300</text><text x="34" y="302.2" text-anchor="end">−200</text><text x="34" y="280.6" text-anchor="end">−100</text><text x="34" y="258.9" text-anchor="end">0</text><text x="34" y="237.3" text-anchor="end">100</text></g><text font-family="'Liberation Serif','Times New Roman',serif" font-weight="bold" stroke="#000" stroke-width="0.18" font-size="9.15" fill="#000" text-anchor="middle" transform="translate(9.4,277.4) rotate(-90)">U(mm)</text><clipPath id="c3"><rect x="37.5" y="338.4" width="509.9" height="86.6"/></clipPath><g stroke="#b0b0b0" stroke-width="0.75" stroke-dasharray="2.7 1.15"><line x1="104.4" y1="338.4" x2="104.4" y2="425"/><line x1="170.7" y1="338.4" x2="170.7" y2="425"/><line x1="237.1" y1="338.4" x2="237.1" y2="425"/><line x1="303.4" y1="338.4" x2="303.4" y2="425"/><line x1="369.7" y1="338.4" x2="369.7" y2="425"/><line x1="436" y1="338.4" x2="436" y2="425"/><line x1="502.4" y1="338.4" x2="502.4" y2="425"/><line x1="37.5" y1="390.4" x2="547.4" y2="390.4"/><line x1="37.5" y1="355.7" x2="547.4" y2="355.7"/></g><g clip-path="url(#c3)"><path d="M59.8,382.3 60.8,381.4 61.8,380.8 62.8,380.5 63.8,380.3 64.8,380.2 65.8,380 66.8,379.6 67.8,379.5 68.8,379.1 69.8,378.6 70.8,378.3 71.8,378.7 72.8,379.8 73.8,379.8 74.8,379.7 75.8,379.8 76.8,379.8 77.8,380.5 78.8,380.5 79.8,380.7 80.8,380 81.8,379.8 82.8,379.6 83.8,380 84.8,380 85.8,380.1 86.8,380.2 87.8,380.1 88.8,380.1 89.8,379.8 90.8,380.2 91.8,380.5 92.8,380.3 93.8,379.9 94.8,379.5 95.8,379.9 96.8,380.2 97.8,380 98.8,380 99.8,380.1 100.8,380.5 101.8,380.5 102.8,380 103.8,379.9 104.8,380 105.8,380.5 106.8,380.6 107.8,380.5 108.8,380.3 109.8,380.3 110.8,380.5 111.8,380.3 112.8,379.9 113.8,379.2 114.8,379.8 115.8,380.1 116.8,380.4 117.8,380.4 118.8,380.6 119.8,380.6 120.8,380.4 121.8,380.1 122.8,380.1 123.8,379.9 124.8,380.1 125.8,379.8 126.8,380 127.8,380 128.8,380.3 129.8,380.1 130.8,380.4 131.8,379.6 132.8,379.1 133.8,379.6 134.8,380.1 135.8,380.1 136.8,380.1 137.8,380.3 138.8,380.2 139.8,380.6 140.8,380.4 141.8,380.6 142.8,380.4 143.8,380.5 144.8,380.8 145.8,380.6 146.8,380.5 147.8,380.4 148.8,380.4 149.8,380.6 150.8,380.1 151.8,380.1 152.8,380 153.8,380.4 154.8,380.4 155.8,380.5 156.8,379.4 157.8,378.8 158.8,379 159.8,379 160.8,378.8 161.8,379 162.8,380 163.8,380.1 164.8,380.2 165.8,379.9 166.8,379.7 167.8,379.1 168.8,378.6 169.8,379.3 170.8,380 171.8,380.5 172.8,380.2 173.8,380.3 174.8,380.2 175.8,379.9 176.8,379.8 177.8,379.4 178.8,379.6 179.8,379.6 180.8,380.1 181.8,380 182.8,380 183.8,379.8 184.8,380.2 185.8,380.6 186.8,380.5 187.8,380.1 188.8,379.8 189.8,379.8 190.8,379.6 191.8,379.5 192.8,379.6 193.8,380.1 194.8,380.4 195.8,380.3 196.8,380.2 197.8,380.2 198.8,380.3 199.8,379.9 200.8,379.9 201.8,379.8 202.8,380 203.8,380.2 204.5,381.8 204.5,382.8 203.8,384.2 202.8,384.8 201.8,384.9 200.8,385.1 199.8,385.4 198.8,385.3 197.8,385.6 196.8,385.8 195.8,385.6 194.8,384.9 193.8,384.9 192.8,384.7 191.8,384.9 190.8,384.9 189.8,385.1 188.8,384.9 187.8,385 186.8,384.9 185.8,385.4 184.8,384.8 183.8,384.9 182.8,385.2 181.8,385.4 180.8,385.3 179.8,384.8 178.8,384.6 177.8,384.5 176.8,384.8 175.8,385 174.8,385.1 173.8,384.7 172.8,385.4 171.8,385.9 170.8,385.4 169.8,385.7 168.8,385.7 167.8,385.6 166.8,384.6 165.8,385.1 164.8,385.5 163.8,385.9 162.8,384.9 161.8,384.8 160.8,384.7 159.8,385 158.8,385.1 157.8,384.8 156.8,384.8 155.8,384.7 154.8,384.7 153.8,384.5 152.8,384.7 151.8,384.8 150.8,384.6 149.8,384.7 148.8,384.9 147.8,385.4 146.8,385.4 145.8,385.5 144.8,385.3 143.8,385 142.8,385.3 141.8,385.1 140.8,385.3 139.8,385.1 138.8,385.4 137.8,385.4 136.8,385.2 135.8,385.5 134.8,385.8 133.8,385.6 132.8,385.4 131.8,385.2 130.8,384.5 129.8,384.8 128.8,384.9 127.8,385.1 126.8,385.4 125.8,385.2 124.8,385.4 123.8,385.2 122.8,384.9 121.8,384.7 120.8,384.7 119.8,384.9 118.8,385 117.8,385.2 116.8,385.9 115.8,386.5 114.8,386.1 113.8,385 112.8,384.5 111.8,384.6 110.8,385 109.8,385.3 108.8,385.4 107.8,385.2 106.8,385.3 105.8,385.6 104.8,385 103.8,384.6 102.8,384.5 101.8,384.8 100.8,385 99.8,384.9 98.8,385.1 97.8,385.5 96.8,385.1 95.8,385.1 94.8,385.2 93.8,385.5 92.8,385.3 91.8,385 90.8,384.9 89.8,385.4 88.8,386.1 87.8,385.6 86.8,385 85.8,385.6 84.8,385.7 83.8,385.5 82.8,384.8 81.8,385.1 80.8,385.3 79.8,385.2 78.8,385.5 77.8,385.7 76.8,385.1 75.8,384.5 74.8,384.6 73.8,384.9 72.8,385 71.8,384.7 70.8,384.7 69.8,384.9 68.8,384.8 67.8,385.2 66.8,385.1 65.8,385.4 64.8,385 63.8,385.2 62.8,385 61.8,384.9 60.8,384.3 59.8,382.9Z" fill="#0b77bf" stroke="#0b77bf" stroke-width="1.0" stroke-linejoin="round"/><path d="M66,382.6V377.9" stroke="#0b77bf" stroke-width="2.8" stroke-linecap="round"/><path d="M108,382.6V377.7" stroke="#0b77bf" stroke-width="2.4" stroke-linecap="round"/><path d="M214,382.2 215,380.2 216,379.7 217,379.6 218,380.1 219,380.1 220,380 221,380 222,380.1 223,380 224,379.7 225,380.4 226,381.6 226.5,382.2 226.5,382.8 226,383.6 225,384.3 224,385.1 223,385 222,384.8 221,384.9 220,384.5 219,384.8 218,384.5 217,384.5 216,384.1 215,383.7 214,382.8Z" fill="#0b77bf" stroke="#0b77bf" stroke-width="1.0" stroke-linejoin="round"/><path d="M219,382.5V378.7" stroke="#0b77bf" stroke-width="2.8" stroke-linecap="round"/><path d="M236.5,382.2 237.5,380.6 238.5,379.9 239.5,379.7 240.5,379.6 241.5,379.3 242.5,379.1 243.5,379.5 244.5,380.2 245.5,379 246.5,378.8 247.5,379.2 248.5,381.5 248.6,382.1 248.6,382.7 248.5,383.2 247.5,384.6 246.5,385.7 245.5,385.9 244.5,385.5 243.5,384.8 242.5,384.6 241.5,384.6 240.5,384.6 239.5,384.4 238.5,384.3 237.5,383.8 236.5,382.8Z" fill="#0b77bf" stroke="#0b77bf" stroke-width="1.0" stroke-linejoin="round"/><path d="M258.3,381.2 259.3,379.4 260.3,379.7 261.3,379.8 262.3,379.6 263.3,379.9 264.3,379.9 265.3,379.8 266.3,380.1 267.3,380 268.3,380.1 269.3,381 269.8,382.1 269.8,382.7 269.3,384.3 268.3,385.3 267.3,385.5 266.3,385 265.3,385.5 264.3,385.9 263.3,385.6 262.3,384.9 261.3,384.9 260.3,384.5 259.3,384.1 258.3,382.7Z" fill="#0b77bf" stroke="#0b77bf" stroke-width="1.0" stroke-linejoin="round"/><path d="M280,382.1 281,380.5 282,380.1 283,379.8 284,379.7 285,379.6 286,379.5 287,379.6 288,379.4 289,379.6 290,379.8 291,380.5 292,381.5 292.2,382.1 292.2,382.7 292,383 291,384.3 290,384.8 289,385 288,386 287,386.4 286,385.8 285,385.7 284,386 283,385.8 282,384.7 281,384.5 280,382.7Z" fill="#0b77bf" stroke="#0b77bf" stroke-width="1.0" stroke-linejoin="round"/><path d="M302.6,381.9 303.6,380 304.6,378.8 305.6,378.1 306.6,378.3 307.6,379.3 308.6,379.5 309.6,379.8 310.6,379.7 311.6,379.4 312.6,378.7 313.6,378.8 314.6,379.5 315.3,381.1 315.3,381.7 314.6,383.7 313.6,384.8 312.6,384.5 311.6,384.3 310.6,384.9 309.6,385 308.6,385 307.6,384.8 306.6,384.7 305.6,384.7 304.6,384.5 303.6,384.9 302.6,383.2Z" fill="#0b77bf" stroke="#0b77bf" stroke-width="1.0" stroke-linejoin="round"/><path d="M324.4,380.5 325.4,378 326.4,377.3 327.4,377.4 328.4,377.8 329.4,377.7 330.4,378 331.4,378.1 332.4,378.3 333.4,378 334.4,378 335.4,377.8 336.4,377.9 337,379 337,380.4 336.4,381.8 335.4,382.9 334.4,383.1 333.4,383.4 332.4,383.3 331.4,383.1 330.4,382.6 329.4,382.5 328.4,383.4 327.4,384.2 326.4,383.7 325.4,382.4 324.4,381.1Z" fill="#0b77bf" stroke="#0b77bf" stroke-width="1.0" stroke-linejoin="round"/><path d="M347.2,379 348.2,377.7 349.2,376.6 350.2,376.2 351.2,375.9 352.2,376.5 353.2,377.1 354.2,376.8 355.2,376.7 356.2,376.6 357.2,376.5 358.2,376.5 359.2,375.7 360.2,375.8 361.2,376.2 362.2,377.1 363.2,375.9 364.2,375.6 365.2,375.9 366.2,376.8 367.2,376.8 368.2,376.6 369.2,376.3 370.2,375.5 371.2,375.1 372.2,375.8 373.2,376.8 374.2,376.6 375.2,376.3 376.2,376 377.2,376.1 378.2,376.5 379.2,376.6 380.2,376.6 381.2,376.4 382.2,376.5 383.2,376.4 384.2,376.5 385.2,376.6 386.2,376.8 387.2,376.6 388.2,376.4 389.2,376.2 390.2,375.2 391.2,374.4 392.2,375.4 393.2,376.6 394.2,376.9 395.2,376.6 396.2,376.3 397.2,376.3 398.2,375.9 399.2,375.9 400.2,376 401.2,376 402.2,376 403.2,376 404.2,376.3 405.2,376.4 406.2,376.4 407.2,376.1 408.2,376.4 409.2,376 410.2,375.2 411.2,374.5 412.2,375.2 413.2,375.9 414.2,376.4 415.2,375.8 416.2,375.1 417.2,375.5 418.2,376 419.2,374.9 420.2,374.4 421.2,374.9 422.2,375.9 423.2,376.2 424.2,376.1 425.2,376.4 426.2,376.8 427.2,376.5 428.2,376.2 429.2,375.5 430.2,375.5 431.2,376 432.2,376.4 433.2,376.4 434.2,376.1 435.2,375.4 436.2,375.5 437.2,374.7 438.2,374.4 439.2,374.8 440.2,375.9 441.2,376.1 442.2,375.9 443.2,375.8 444.2,375.7 445.2,376 446.2,376 447.2,375.7 448.2,375.2 449.2,375.4 450.2,375.4 451.2,375.5 452.2,375.6 453.2,375.8 454.2,375.3 455.2,375.3 456.2,375.2 457.2,375.5 458.2,374.3 459.2,373.9 460.2,373.9 461.2,374.2 462.2,374.4 463.2,375.1 464.2,374.7 465.2,374.5 466.2,374.4 467.2,374.5 468.2,374.4 469.2,373.9 470.2,373.7 471.2,374.2 472.2,373.7 473.2,372.9 474.2,372 475.2,372.1 476.2,372.7 477.2,372.2 478.2,371.5 479.2,369.3 480.2,368.1 481.2,367.2 482.2,367 483.2,365.6 484.2,364.8 485.2,364.7 486.2,364.4 487.2,364.3 488.2,364.2 489.2,363.9 490.2,363.8 491.2,363 492.2,362.9 493.2,362.6 494.2,363 495.2,362.9 496.2,363.1 497.2,362.7 498.2,362.9 499.2,362.8 500.2,363.3 501.2,363.5 502.2,363.7 503.2,362.8 504.2,362.8 505.2,362.8 506.2,363.2 507.2,362.4 508.2,361.9 509.2,362.5 510.2,363.2 511.2,363.2 512.2,363.1 513.2,363.1 514.2,362.8 515.2,363 516.2,362.8 517.2,363.2 518.2,363 519.2,362.8 520.2,362.6 521.2,362.3 522.2,362.7 523.2,362.4 524.2,362.6 524.8,364.6 524.8,366.1 524.2,368 523.2,368.8 522.2,369 521.2,369.2 520.2,369.3 519.2,368.8 518.2,368.4 517.2,367.9 516.2,368.2 515.2,368.4 514.2,369.3 513.2,369.8 512.2,369.5 511.2,368.6 510.2,368.5 509.2,368.5 508.2,368.7 507.2,368.9 506.2,368.7 505.2,368.7 504.2,369.4 503.2,369.7 502.2,369.4 501.2,368.6 500.2,368.9 499.2,368.9 498.2,368.9 497.2,368.7 496.2,368.7 495.2,368.8 494.2,369.5 493.2,369.9 492.2,369.4 491.2,368.8 490.2,369.4 489.2,370.3 488.2,370.1 487.2,369.4 486.2,369.8 485.2,370.2 484.2,370.5 483.2,370.6 482.2,371.5 481.2,373.8 480.2,375.7 479.2,376.7 478.2,377.1 477.2,377.9 476.2,378.9 475.2,379 474.2,379.2 473.2,378.9 472.2,378.6 471.2,378.6 470.2,379.7 469.2,380.4 468.2,380 467.2,379.2 466.2,379.3 465.2,379.5 464.2,379.8 463.2,379.9 462.2,379.7 461.2,379.8 460.2,379.7 459.2,380.2 458.2,379.8 457.2,380 456.2,380.3 455.2,380.8 454.2,380.8 453.2,380.2 452.2,380.4 451.2,380.8 450.2,381.1 449.2,380.8 448.2,380.7 447.2,380.5 446.2,380.9 445.2,380.8 444.2,381.1 443.2,380.7 442.2,380.4 441.2,380.2 440.2,380.6 439.2,381 438.2,381.2 437.2,380.8 436.2,380.8 435.2,380.8 434.2,380.9 433.2,380.6 432.2,380.4 431.2,380.3 430.2,380.7 429.2,380.8 428.2,381.1 427.2,381 426.2,381 425.2,380.9 424.2,380.8 423.2,380.7 422.2,381.1 421.2,381.3 420.2,381.8 419.2,381.5 418.2,381.6 417.2,381.1 416.2,381.2 415.2,381.1 414.2,381.5 413.2,381.2 412.2,380.9 411.2,380.7 410.2,380.8 409.2,380.7 408.2,381 407.2,380.9 406.2,381.2 405.2,381 404.2,381.4 403.2,381.5 402.2,381.5 401.2,381.1 400.2,381 399.2,381 398.2,381.2 397.2,381.2 396.2,381.2 395.2,381.2 394.2,381.3 393.2,381.5 392.2,381.3 391.2,381.3 390.2,381 389.2,381.4 388.2,381.5 387.2,381.9 386.2,382 385.2,381.6 384.2,381.3 383.2,381.5 382.2,381.3 381.2,381.1 380.2,381.2 379.2,381.5 378.2,381.9 377.2,381.8 376.2,381.8 375.2,381.1 374.2,381.1 373.2,381.4 372.2,381.5 371.2,381.3 370.2,381.3 369.2,381.6 368.2,381.7 367.2,382.2 366.2,382.1 365.2,381.8 364.2,381.4 363.2,381.8 362.2,381.6 361.2,382.3 360.2,382.6 359.2,382.5 358.2,381.9 357.2,382.8 356.2,383 355.2,382.7 354.2,382.2 353.2,382.6 352.2,382.8 351.2,382.1 350.2,381.6 349.2,381.9 348.2,381.8 347.2,379.8Z" fill="#0b77bf" stroke="#0b77bf" stroke-width="1.0" stroke-linejoin="round"/><path d="M394,378.8V375.2M483,368.5V371.8M495,365.8V372.3" stroke="#0b77bf" stroke-width="2.4" stroke-linecap="round"/><line x1="204.5" y1="382.7" x2="214" y2="381.7" stroke="#0b77bf" stroke-width="1.35" stroke-linecap="round"/><line x1="226.5" y1="381" x2="236.5" y2="382.2" stroke="#0b77bf" stroke-width="1.35" stroke-linecap="round"/><line x1="248.6" y1="379.5" x2="258.3" y2="379.8" stroke="#0b77bf" stroke-width="1.35" stroke-linecap="round"/><line x1="269.8" y1="382.2" x2="280" y2="380.5" stroke="#0b77bf" stroke-width="1.35" stroke-linecap="round"/><line x1="292.2" y1="380.5" x2="302.6" y2="382.2" stroke="#0b77bf" stroke-width="1.35" stroke-linecap="round"/><line x1="315.3" y1="381.4" x2="324.4" y2="378.9" stroke="#0b77bf" stroke-width="1.35" stroke-linecap="round"/><line x1="337" y1="381.4" x2="347.2" y2="378.9" stroke="#0b77bf" stroke-width="1.35" stroke-linecap="round"/><path d="M59.8,388.7 60.8,387 61.8,386.5 62.8,386.7 63.8,386.7 64.8,386.7 65.8,386.5 66.8,386.6 67.8,386.5 68.8,385.7 69.8,385.2 70.8,385.6 71.8,386.5 72.8,386.8 73.8,386.7 74.8,386.4 75.8,386.2 76.8,386.3 77.8,386.4 78.8,386.7 79.8,386.7 80.8,386.7 81.8,386.3 82.8,386.3 83.8,386.3 84.8,386.4 85.8,386.2 86.8,386.1 87.8,385.6 88.8,386.4 89.8,387.1 90.8,387.3 91.8,387.2 92.8,386.6 93.8,386.3 94.8,386.4 95.8,386.4 96.8,386.7 97.8,386.5 98.8,386.7 99.8,386.5 100.8,385.5 101.8,385 102.8,385.3 103.8,386 104.8,385.7 105.8,386.2 106.8,386.6 107.8,386.7 108.8,386.5 109.8,386.5 110.8,385.2 111.8,385.1 112.8,385.6 113.8,386.6 114.8,386.2 115.8,385.8 116.8,385.4 117.8,385.2 118.8,385.7 119.8,386.4 120.8,386.8 121.8,386.6 122.8,386.6 123.8,386.5 124.8,386.6 125.8,386.4 126.8,386.3 127.8,386.2 128.8,385.8 129.8,385 130.8,384.8 131.8,385.7 132.8,386.7 133.8,386.5 134.8,386.5 135.8,386.3 136.8,386.4 137.8,386.4 138.8,386.4 139.8,386.9 140.8,386.9 141.8,387 142.8,386.6 143.8,386.2 144.8,386.1 145.8,386.1 146.8,386.3 147.8,386.1 148.8,386 149.8,385.2 150.8,385.1 151.8,385.4 152.8,386.1 153.8,385.7 154.8,385.8 155.8,385.4 156.8,385.4 157.8,384.6 158.8,385.3 159.8,385.5 160.8,385.9 161.8,386 162.8,385.6 163.8,385.3 164.8,385.1 165.8,385.8 166.8,385.8 167.8,385.1 168.8,384.4 169.8,385 170.8,385.8 171.8,385.3 172.8,385 173.8,385.5 174.8,385.7 175.8,385.2 176.8,384.8 177.8,385.4 178.8,385.9 179.8,385.8 180.8,386 181.8,385.6 182.8,385.7 183.8,385.1 184.8,385.2 185.8,384.9 186.8,385.6 187.8,385.6 188.8,385.8 189.8,385.3 190.8,385.5 191.8,385.4 192.8,385.7 193.8,385.2 194.8,385.3 195.8,385.5 196.8,385.4 197.8,385.4 198.8,385.9 199.8,385.6 200.8,384.7 201.8,385.3 202.8,386 203.8,386.6 204.8,386.6 205.8,386.6 206.8,386.2 207.8,385.8 208.8,385.9 209.8,386.2 210.8,386.4 211.8,386.3 212.8,386 213.8,386.2 214.8,386.1 215.8,386.2 216.8,385.9 217.8,385.9 218.8,385.8 219.8,385.9 220.8,385.7 221.8,385.8 222.8,385.9 223.8,386.2 224.8,386 225.8,385.9 226.8,385.9 227.8,385.9 228.8,386 229.8,386.4 230.8,386.5 231.8,386.4 232.8,386.2 233.8,385.3 234.8,384.9 235.8,385.3 236.8,386.2 237.8,386.3 238.8,386.4 239.8,386.4 240.8,386.4 241.8,386.2 242.8,386.2 243.8,386.1 244.8,386.1 245.8,386.1 246.8,386 247.8,386 248.8,386 249.8,386.2 250.8,385.7 251.8,386.1 252.8,386 253.8,386.4 254.8,386.1 255.8,385.9 256.8,385.8 257.8,385.4 258.8,385.8 259.8,385.7 260.8,386.2 261.8,386.3 262.8,386.3 263.8,385.4 264.8,384.9 265.8,385.6 266.8,386.1 267.8,386.1 268.8,385.5 269.8,386 270.8,385.9 271.8,385.7 272.8,385.6 273.8,385.5 274.8,385.7 275.8,385.9 276.8,385.4 277.8,384.7 278.8,385.2 279.8,386.2 280.8,386.5 281.8,385.7 282.8,384.9 283.8,385.6 284.8,386.3 285.8,386.1 286.8,385.4 287.8,385.3 288.8,385.5 289.8,385.5 290.8,385.4 291.8,385.8 292.8,386.1 293.8,385.1 294.8,384.8 295.8,385.3 296.8,385.2 297.8,385.7 298.8,386.2 299.8,386.5 300.8,386.3 301.8,386.4 302.8,385.7 303.8,385.6 304.8,385.5 305.8,385.9 306.8,386 307.8,385.7 308.8,385 309.8,385 310.8,385.4 311.8,385.1 312.8,385.3 313.8,385.3 314.8,385.8 315.8,385.8 316.8,385.5 317.8,385.3 318.8,385.5 319.8,386 320.8,386.2 321.8,385.8 322.8,386 323.8,386.4 324.8,386.9 325.8,386.7 326.8,386.3 327.8,385.9 328.8,386 329.8,386.2 330.8,386.6 331.8,386.4 332.8,386.1 333.8,385.6 334.8,385.5 335.8,385.1 336.8,384.3 337.8,383.8 338.8,382.7 339.8,381.9 340.8,382.2 341.8,383 342.8,382.9 343.8,382.8 344.8,381.9 345.8,381.7 346.8,382 347.8,382.2 348.8,382.1 349.8,382.2 350.8,381.7 351.8,381.4 352.8,381.9 353.8,382.7 354.8,382.7 355.8,382.1 356.8,381.7 357.8,381.2 358.8,382 359.8,382.2 360.8,382.6 361.8,382.4 362.8,382.5 363.8,382.4 364.8,382.1 365.8,382.1 366.8,382.3 367.8,382.5 368.8,382.7 369.8,382.3 370.8,382.4 371.8,382.2 372.8,382.6 373.8,382.8 374.8,382.8 375.8,382.2 376.8,381.5 377.8,380.9 378.8,381.9 379.8,382.2 380.8,382.9 381.8,382.2 382.8,382.3 383.8,382.2 384.8,382.1 385.8,382 386.8,382.2 387.8,382.5 388.8,382.7 389.8,382.3 390.8,382.5 391.8,382.1 392.8,381.5 393.8,381 394.8,381.3 395.8,382 396.8,382 397.8,382.3 398.8,382.3 399.8,382.2 400.8,382.2 401.8,382.3 402.8,381.6 403.8,381 404.8,381.3 405.8,382.2 406.8,382.5 407.8,382.2 408.8,382.2 409.8,381.9 410.8,382.2 411.8,382 412.8,382.1 413.8,382 414.8,382.1 415.8,381.9 416.8,381.9 417.8,381.9 418.8,382.2 419.8,382.5 420.8,382.6 421.8,382.6 422.8,381.8 423.8,381.3 424.8,381.2 425.8,381.5 426.8,381.5 427.8,382 428.8,382.5 429.8,382.5 430.8,382.5 431.8,382.4 432.8,382.4 433.8,382.2 434.8,382.3 435.8,382.4 436.8,382 437.8,381.9 438.8,381.9 439.8,382.3 440.8,382.1 441.8,382.1 442.8,381.9 443.8,382 444.8,381.7 445.8,381.6 446.8,381.8 447.8,381.7 448.8,382.1 449.8,382.1 450.8,382 451.8,381.8 452.8,381.7 453.8,382.1 454.8,382.1 455.8,382.2 456.8,382.2 457.8,382.4 458.8,382.2 459.8,382.4 460.8,380.8 461.8,379 462.8,376.9 463.8,374.9 464.8,373 465.8,372 466.8,371.4 467.8,370.6 468.8,369.9 469.8,369 470.8,369 471.8,368.6 472.8,368.4 473.8,368.1 474.8,367.8 475.8,367.6 476.8,367.1 477.8,365.3 478.8,363 479.8,360.7 480.8,358.1 481.8,356.9 482.8,355.6 483.8,354.5 484.8,353 485.8,352.5 486.8,352.4 487.8,351.9 488.8,351.4 489.8,350.5 490.8,349.9 491.8,349.8 492.8,350 493.8,350.4 494.8,349.9 495.8,349.6 496.8,349.1 497.8,350 498.8,350.6 499.8,351.2 500.8,351.2 501.8,350.5 502.8,350.3 503.8,350 504.8,350.4 505.8,350.1 506.8,350.2 507.8,349.8 508.8,350 509.8,350 510.8,349.6 511.8,349 512.8,349 513.8,349.5 514.8,349.7 515.8,350 516.8,350.1 517.8,349.7 518.8,349.1 519.8,348.6 520.8,348.9 521.8,349.5 522.8,348.7 523.8,348.9 524.8,350.6 524.8,353.2 523.8,355.1 522.8,356.7 521.8,356.2 520.8,355.7 519.8,355.4 518.8,355.6 517.8,355.5 516.8,355.4 515.8,355.3 514.8,355.2 513.8,355.1 512.8,355.5 511.8,356 510.8,355.7 509.8,355.3 508.8,355.3 507.8,355.4 506.8,355.5 505.8,355.5 504.8,356 503.8,356.1 502.8,356.2 501.8,355.6 500.8,355.7 499.8,356 498.8,356.1 497.8,356 496.8,356 495.8,356.2 494.8,356.3 493.8,356.4 492.8,356.4 491.8,356.6 490.8,356.6 489.8,356.7 488.8,357 487.8,357.3 486.8,358.1 485.8,358.5 484.8,359.4 483.8,360.6 482.8,361.8 481.8,362.8 480.8,364.3 479.8,366.5 478.8,369.5 477.8,372 476.8,373.9 475.8,373.9 474.8,373.9 473.8,374.5 472.8,374.6 471.8,374.7 470.8,374.7 469.8,374.9 468.8,376.1 467.8,376.8 466.8,377.4 465.8,378 464.8,379.6 463.8,382 462.8,383.2 461.8,385 460.8,386.5 459.8,387.8 458.8,388.3 457.8,388 456.8,388 455.8,388.1 454.8,387.8 453.8,387.6 452.8,387.2 451.8,387.7 450.8,387.9 449.8,388.3 448.8,388 447.8,387.8 446.8,387.3 445.8,388.1 444.8,388.2 443.8,388.7 442.8,388.1 441.8,388 440.8,387.5 439.8,387.5 438.8,387.6 437.8,387.8 436.8,387.5 435.8,387.9 434.8,388.1 433.8,387.8 432.8,387.6 431.8,388.1 430.8,388.9 429.8,388.6 428.8,388.3 427.8,387.2 426.8,387.5 425.8,387.6 424.8,387.6 423.8,387.6 422.8,387.5 421.8,387.6 420.8,387.6 419.8,387.5 418.8,387.4 417.8,387.8 416.8,388.1 415.8,388.2 414.8,387.7 413.8,387.6 412.8,387.2 411.8,387.8 410.8,388.1 409.8,387.9 408.8,387.5 407.8,387.8 406.8,387.8 405.8,387.7 404.8,387.9 403.8,388.1 402.8,388.2 401.8,387.9 400.8,387.7 399.8,387.4 398.8,387.5 397.8,387.5 396.8,388.2 395.8,388.5 394.8,388 393.8,386.9 392.8,387.1 391.8,387.4 390.8,388 389.8,387.5 388.8,387.7 387.8,387.4 386.8,388 385.8,387.8 384.8,387.9 383.8,387.8 382.8,387.8 381.8,388.2 380.8,387.9 379.8,387.8 378.8,387.6 377.8,387.8 376.8,388.3 375.8,388.3 374.8,388 373.8,387.6 372.8,387.5 371.8,387.8 370.8,388 369.8,388.5 368.8,388 367.8,388.2 366.8,388.2 365.8,388.2 364.8,388 363.8,388.1 362.8,388.1 361.8,387.8 360.8,388 359.8,388.5 358.8,388.7 357.8,388.1 356.8,387.6 355.8,387.2 354.8,387.3 353.8,387.4 352.8,387.5 351.8,387.7 350.8,387.8 349.8,388.1 348.8,388.1 347.8,387.7 346.8,387.7 345.8,388 344.8,388.3 343.8,388.1 342.8,388.3 341.8,387.9 340.8,388.2 339.8,387.7 338.8,388.4 337.8,389.1 336.8,390.4 335.8,391.2 334.8,391.8 333.8,391.3 332.8,391.1 331.8,390.7 330.8,391 329.8,391.2 328.8,391.3 327.8,391.1 326.8,391.1 325.8,390.9 324.8,390.9 323.8,391.1 322.8,391.4 321.8,391.4 320.8,391.7 319.8,391.6 318.8,391.5 317.8,392 316.8,391.9 315.8,392.3 314.8,392.4 313.8,393.1 312.8,392.3 311.8,392 310.8,392 309.8,391.7 308.8,391.4 307.8,391.5 306.8,391.5 305.8,391.4 304.8,391.2 303.8,391.4 302.8,391.2 301.8,391.1 300.8,391 299.8,391.3 298.8,391.1 297.8,391.1 296.8,391.5 295.8,392.2 294.8,391.7 293.8,391.3 292.8,391 291.8,390.8 290.8,390.9 289.8,391 288.8,390.9 287.8,391.3 286.8,391.6 285.8,391.7 284.8,390.8 283.8,390.8 282.8,390.6 281.8,390.9 280.8,391.3 279.8,391.5 278.8,391.5 277.8,391.1 276.8,391.1 275.8,391.4 274.8,391.6 273.8,391.6 272.8,391.3 271.8,391.2 270.8,391.5 269.8,392 268.8,391.2 267.8,390.9 266.8,390.7 265.8,390.9 264.8,391 263.8,391.3 262.8,391.7 261.8,391.8 260.8,391.2 259.8,390.8 258.8,391 257.8,391 256.8,391 255.8,391.1 254.8,391.1 253.8,391.4 252.8,391.3 251.8,391.2 250.8,391.1 249.8,391.3 248.8,391.5 247.8,391.7 246.8,391.5 245.8,391.4 244.8,391.1 243.8,391.5 242.8,391.5 241.8,391.6 240.8,391.4 239.8,391.2 238.8,391 237.8,391.5 236.8,391.9 235.8,391.8 234.8,391.2 233.8,391.3 232.8,391.1 231.8,391.4 230.8,391.4 229.8,391.3 228.8,391.2 227.8,391.2 226.8,391.5 225.8,391.5 224.8,391.5 223.8,391.4 222.8,391.3 221.8,391.5 220.8,391.5 219.8,391.3 218.8,391.2 217.8,391.4 216.8,392 215.8,391.2 214.8,391 213.8,391.1 212.8,391.5 211.8,391.4 210.8,391.2 209.8,391.1 208.8,391.2 207.8,391.7 206.8,391.3 205.8,391.1 204.8,391 203.8,390.8 202.8,390.9 201.8,391.8 200.8,392.4 199.8,392.4 198.8,392.6 197.8,391.9 196.8,391.1 195.8,391.1 194.8,391.5 193.8,391.5 192.8,391.8 191.8,392.1 190.8,392.4 189.8,392.7 188.8,392.3 187.8,392.3 186.8,392.1 185.8,392.1 184.8,392.4 183.8,392.2 182.8,392.3 181.8,392.1 180.8,392 179.8,392.1 178.8,392.1 177.8,391.8 176.8,391.8 175.8,391.8 174.8,392 173.8,392.1 172.8,393.2 171.8,393.6 170.8,393.3 169.8,391.9 168.8,391.8 167.8,391.5 166.8,392.5 165.8,392.9 164.8,392.7 163.8,392 162.8,391.4 161.8,391.8 160.8,391.6 159.8,391.5 158.8,391.8 157.8,392.3 156.8,392.2 155.8,392 154.8,391.6 153.8,392.4 152.8,392.6 151.8,392 150.8,391.2 149.8,391.1 148.8,391.6 147.8,393 146.8,393.1 145.8,392.5 144.8,391.5 143.8,391.9 142.8,391.6 141.8,391.3 140.8,391 139.8,391.2 138.8,391.3 137.8,391.5 136.8,391.8 135.8,391.7 134.8,391.6 133.8,391.3 132.8,391 131.8,391.2 130.8,391.1 129.8,391.5 128.8,391.5 127.8,391.7 126.8,391.4 125.8,391.1 124.8,391 123.8,391.2 122.8,391.4 121.8,391.7 120.8,391.8 119.8,391.7 118.8,391.5 117.8,391.6 116.8,391.3 115.8,391.1 114.8,391.3 113.8,391.7 112.8,391.5 111.8,391.4 110.8,391.6 109.8,391.8 108.8,391.7 107.8,392.4 106.8,392.3 105.8,391.8 104.8,390.9 103.8,391.3 102.8,391.4 101.8,391.6 100.8,391.7 99.8,391.7 98.8,392.5 97.8,393 96.8,392.5 95.8,393 94.8,392.6 93.8,391.7 92.8,391.4 91.8,391.2 90.8,391.4 89.8,391.4 88.8,391.4 87.8,391.3 86.8,391.7 85.8,391.5 84.8,391.6 83.8,391.3 82.8,391.6 81.8,391.6 80.8,391.5 79.8,391.2 78.8,391.3 77.8,391.1 76.8,391.8 75.8,392.3 74.8,392.5 73.8,393 72.8,392.4 71.8,391.3 70.8,391.3 69.8,391.4 68.8,391.3 67.8,391.3 66.8,391.3 65.8,391.1 64.8,391.4 63.8,391.1 62.8,391.6 61.8,391.3 60.8,390.8 59.8,389.3Z" fill="#ff7f07" stroke="#ff7f07" stroke-width="1.0" stroke-linejoin="round"/><path d="M355,385.2V389.8M415,385V389.8" stroke="#ff7f07" stroke-width="2.4" stroke-linecap="round"/><line x1="189" y1="390" x2="189" y2="397.8" stroke="#ff7f07" stroke-width="1.3" stroke-linecap="round"/><circle cx="189" cy="397.8" r="1.45" fill="#ff7f07"/><path d="M59.8,412.5 60.8,410.7 61.8,410.4 62.8,410.8 63.8,411.1 64.8,410.9 65.8,410.4 66.8,410.2 67.8,410.5 68.8,410.5 69.8,410.1 70.8,409.6 71.8,410.3 72.8,410.6 73.8,410.3 74.8,410.5 75.8,410.6 76.8,410.7 77.8,410.7 78.8,410.6 79.8,410.6 80.8,410.7 81.8,410.4 82.8,410.1 83.8,410.2 84.8,410.5 85.8,410.1 86.8,409.9 87.8,409.8 88.8,410.3 89.8,409.6 90.8,409.4 91.8,409.3 92.8,408.9 93.8,409.5 94.8,410.8 95.8,411 96.8,410.7 97.8,410.7 98.8,410.9 99.8,410.7 100.8,410.6 101.8,410.6 102.8,410.8 103.8,410.6 104.8,410 105.8,409.9 106.8,410.2 107.8,410.6 108.8,410.7 109.8,410.5 110.8,410.2 111.8,409.9 112.8,410 113.8,409.4 114.8,409.1 115.8,409.4 116.8,410.6 117.8,410.7 118.8,410.9 119.8,410.2 120.8,410.2 121.8,410.1 122.8,410.3 123.8,410 124.8,409.7 125.8,409.2 126.8,409.5 127.8,409.8 128.8,409.8 129.8,410.1 130.8,410.3 131.8,410 132.8,410 133.8,409.9 134.8,410.3 135.8,410.3 136.8,410.9 137.8,410.6 138.8,410.8 139.8,409.5 140.8,409.2 141.8,409.8 142.8,410.5 143.8,410.8 144.8,410.7 145.8,410.6 146.8,410.1 147.8,409.4 148.8,410 149.8,410.3 150.8,409.9 151.8,410 152.8,410 153.8,410.5 154.8,410.3 155.8,410.8 156.8,410.9 157.8,410.9 158.8,410.4 159.8,410.2 160.8,410 161.8,410 162.8,410.3 163.8,410.2 164.8,410.3 165.8,410 166.8,410.3 167.8,410.2 168.8,410.2 169.8,410.5 170.8,410.2 171.8,410.3 172.8,409.7 173.8,410 174.8,410 175.8,410.4 176.8,410.6 177.8,410.9 178.8,410.7 179.8,410.4 180.8,410.3 181.8,410.4 182.8,410.8 183.8,410 184.8,409.3 185.8,409.6 186.8,410 187.8,410.3 188.8,410.3 189.8,410.4 190.8,410.5 191.8,410.4 192.8,410.3 193.8,410.4 194.8,410.2 195.8,410.2 196.8,410 197.8,410.4 198.8,410.5 199.8,410.6 200.8,410.3 201.8,410.2 202.8,409.9 203.8,410 204.8,409.7 205.8,409.8 206.8,409.6 207.8,409.8 208.8,409.9 209.8,410.1 210.8,410.3 211.8,410.5 212.8,410.6 213.8,410.5 214.8,410.5 215.8,410.6 216.8,410.5 217.8,410.1 218.8,410.1 219.8,410.4 220.8,410.8 221.8,410.8 222.8,410.7 223.8,410.8 224.8,409.7 225.8,409.1 226.8,408.8 227.8,409.9 228.8,410.2 229.8,410.7 230.8,410.5 231.8,409.9 232.8,409.7 233.8,409.8 234.8,410.4 235.8,410.5 236.8,410.5 237.8,409.9 238.8,410 239.8,410 240.8,410.4 241.8,410.4 242.8,410.2 243.8,410.1 244.8,410 245.8,410.3 246.8,410 247.8,410.1 248.8,409.9 249.8,410 250.8,410.1 251.8,410.4 252.8,410.2 253.8,410.2 254.8,410.1 255.8,410.5 256.8,410 257.8,409.4 258.8,409.5 259.8,410.3 260.8,409.9 261.8,410.1 262.8,409.5 263.8,409.9 264.8,409.9 265.8,410 266.8,409.6 267.8,409.6 268.8,409.9 269.8,410 270.8,409.7 271.8,409.8 272.8,410 273.8,409.8 274.8,409.7 275.8,409.5 276.8,410 277.8,410.4 278.8,409.9 279.8,409.7 280.8,409.9 281.8,410.1 282.8,410.4 283.8,410.1 284.8,410.1 285.8,410.1 286.8,410.3 287.8,410 288.8,409.8 289.8,409.8 290.8,409.9 291.8,410.3 292.8,410 293.8,410.4 294.8,410.2 295.8,410 296.8,409.6 297.8,410 298.8,410.2 299.8,410.4 300.8,409.8 301.8,409.8 302.8,409.4 303.8,409.8 304.8,410.1 305.8,410.7 306.8,410.6 307.8,410.4 308.8,409.9 309.8,410 310.8,409.9 311.8,409.7 312.8,409.9 313.8,409.5 314.8,409.1 315.8,409.2 316.8,409.4 317.8,409.6 318.8,409.7 319.8,410.1 320.8,410.1 321.8,409.8 322.8,410 323.8,410 324.8,410.4 325.8,409.4 326.8,409 327.8,409.2 328.8,409.8 329.8,409.4 330.8,409.4 331.8,409.3 332.8,409.6 333.8,410.2 334.8,410.4 335.8,409.9 336.8,409.2 337.8,408.6 338.8,408.1 339.8,407.7 340.8,407.7 341.8,408 342.8,407.8 343.8,407.9 344.8,407.9 345.8,408.2 346.8,407.8 347.8,407.2 348.8,406.8 349.8,407.2 350.8,407.8 351.8,407.7 352.8,407.8 353.8,407.6 354.8,407.8 355.8,408.1 356.8,408.3 357.8,408.2 358.8,407.8 359.8,407.7 360.8,407.9 361.8,408.1 362.8,407.4 363.8,407.1 364.8,407.6 365.8,408.3 366.8,408.2 367.8,408.1 368.8,408 369.8,408 370.8,407.9 371.8,407.8 372.8,407.8 373.8,407.9 374.8,407.3 375.8,406.8 376.8,407 377.8,407.7 378.8,407.9 379.8,407.8 380.8,407.6 381.8,407.6 382.8,407.9 383.8,407.6 384.8,407.9 385.8,407.6 386.8,407.9 387.8,407.9 388.8,407.8 389.8,407.5 390.8,407.4 391.8,407.4 392.8,407.5 393.8,407.4 394.8,407.5 395.8,407.6 396.8,406.9 397.8,406.6 398.8,406.8 399.8,406.9 400.8,406.4 401.8,407 402.8,408 403.8,408.1 404.8,407.8 405.8,407.9 406.8,407.6 407.8,407.8 408.8,407.5 409.8,407.8 410.8,407.7 411.8,407.8 412.8,407.6 413.8,408 414.8,407.7 415.8,407.6 416.8,406.8 417.8,406.8 418.8,407.3 419.8,408 420.8,408.2 421.8,408.2 422.8,407.8 423.8,407.5 424.8,407.4 425.8,407.7 426.8,407.5 427.8,407.7 428.8,407.8 429.8,408.3 430.8,408.1 431.8,408.1 432.8,407.8 433.8,407.8 434.8,407.9 435.8,408 436.8,408.1 437.8,407.8 438.8,407.7 439.8,407.8 440.8,407.9 441.8,407.8 442.8,407.7 443.8,407.7 444.8,407.8 445.8,407.3 446.8,406.9 447.8,406.9 448.8,407.7 449.8,407.7 450.8,407.7 451.8,407.7 452.8,407.7 453.8,408 454.8,407.8 455.8,407.4 456.8,407.5 457.8,407.2 458.8,407.4 459.8,407 460.8,406 461.8,405.3 462.8,404.4 463.8,403.7 464.8,402 465.8,401.3 466.8,400.9 467.8,400.7 468.8,400.6 469.8,400.4 470.8,400 471.8,399.6 472.8,399.3 473.8,399.4 474.8,399.2 475.8,399.2 476.8,399 477.8,398.9 478.8,398.2 479.8,396.6 480.8,395.3 481.8,394 482.8,392.8 483.8,391.8 484.8,391.2 485.8,391.3 486.8,391.6 487.8,391.5 488.8,390.8 489.8,390.5 490.8,390.5 491.8,390.8 492.8,390.6 493.8,391 494.8,390.5 495.8,390 496.8,390.2 497.8,390.4 498.8,391 499.8,390.9 500.8,391 501.8,390.5 502.8,390.9 503.8,390.5 504.8,390.6 505.8,390.1 506.8,390.7 507.8,390.8 508.8,390.9 509.8,390.6 510.8,389.7 511.8,389.7 512.8,390.3 513.8,390.8 514.8,390.8 515.8,390.7 516.8,390.7 517.8,390.7 518.8,390.8 519.8,391.1 520.8,390.8 521.8,390.8 522.8,390.6 523.8,391.1 524.8,393 524.8,393.8 523.8,395.4 522.8,395.8 521.8,395.5 520.8,396 519.8,396.6 518.8,397 517.8,396.8 516.8,396.3 515.8,396.3 514.8,396.1 513.8,395.9 512.8,395.7 511.8,395.8 510.8,396.1 509.8,396.5 508.8,396.2 507.8,396 506.8,395.8 505.8,395.8 504.8,395.7 503.8,395.9 502.8,395.9 501.8,395.9 500.8,396.6 499.8,396.9 498.8,396.4 497.8,395.8 496.8,396.2 495.8,396.6 494.8,396.4 493.8,396.3 492.8,396.1 491.8,396.5 490.8,396.5 489.8,396.5 488.8,396.4 487.8,397.4 486.8,397.9 485.8,397.5 484.8,396.8 483.8,397 482.8,397.9 481.8,399.1 480.8,401 479.8,402.2 478.8,403.6 477.8,404.2 476.8,404.3 475.8,404.5 474.8,404.4 473.8,404.4 472.8,404.6 471.8,405.2 470.8,405.4 469.8,405.7 468.8,405.7 467.8,406.7 466.8,407.3 465.8,407.3 464.8,407.3 463.8,409.6 462.8,411.4 461.8,412.3 460.8,412.5 459.8,413.4 458.8,412.9 457.8,413.3 456.8,413 455.8,412.9 454.8,412.9 453.8,413 452.8,413.5 451.8,413.2 450.8,412.8 449.8,413.4 448.8,414 447.8,414 446.8,413 445.8,413 444.8,413.2 443.8,413.4 442.8,413.1 441.8,412.8 440.8,413 439.8,413 438.8,413 437.8,412.8 436.8,413 435.8,413.2 434.8,413.1 433.8,412.9 432.8,413.1 431.8,413.1 430.8,413.2 429.8,413 428.8,412.9 427.8,413 426.8,413.1 425.8,413.9 424.8,414.2 423.8,413.4 422.8,412.8 421.8,412.7 420.8,413.1 419.8,413.5 418.8,413.2 417.8,413.2 416.8,413 415.8,413.3 414.8,413.2 413.8,413.1 412.8,412.9 411.8,413 410.8,413.9 409.8,414.6 408.8,414.2 407.8,413.3 406.8,412.8 405.8,412.6 404.8,412.9 403.8,413.5 402.8,412.8 401.8,412.4 400.8,412.7 399.8,413.3 398.8,413.5 397.8,413.2 396.8,413.2 395.8,413.1 394.8,413.2 393.8,413 392.8,412.8 391.8,413.9 390.8,414.5 389.8,414.1 388.8,413.1 387.8,413.2 386.8,413.1 385.8,413.1 384.8,413 383.8,413.2 382.8,413.3 381.8,413.5 380.8,413.4 379.8,414.2 378.8,413.9 377.8,413.1 376.8,413 375.8,413.1 374.8,413 373.8,413.1 372.8,412.8 371.8,413.1 370.8,413.5 369.8,413.3 368.8,412.8 367.8,412.5 366.8,412.8 365.8,413.4 364.8,413.4 363.8,413.2 362.8,413.3 361.8,413.3 360.8,413.4 359.8,414.2 358.8,414.5 357.8,414.2 356.8,413 355.8,413 354.8,413 353.8,413.8 352.8,413.4 351.8,413.3 350.8,413.2 349.8,413 348.8,412.8 347.8,412.5 346.8,412.6 345.8,413.4 344.8,414 343.8,413.4 342.8,413.3 341.8,413 340.8,413.2 339.8,412.9 338.8,413.6 337.8,413.8 336.8,413.8 335.8,414.4 334.8,414.7 333.8,414.8 332.8,414.6 331.8,415.1 330.8,415.2 329.8,415.1 328.8,414.5 327.8,415 326.8,415.1 325.8,415 324.8,414.8 323.8,415 322.8,415.3 321.8,415.2 320.8,414.9 319.8,414.9 318.8,414.6 317.8,414.6 316.8,415 315.8,415.5 314.8,416.4 313.8,416.5 312.8,416.6 311.8,416.1 310.8,415.2 309.8,415.4 308.8,415.2 307.8,415.1 306.8,415.1 305.8,415.3 304.8,415.5 303.8,415.1 302.8,415.6 301.8,415.2 300.8,415.3 299.8,414.9 298.8,414.9 297.8,414.6 296.8,414.6 295.8,415 294.8,415.1 293.8,415.2 292.8,415.2 291.8,415.3 290.8,415.4 289.8,415 288.8,414.7 287.8,414.6 286.8,414.8 285.8,414.9 284.8,414.9 283.8,415 282.8,415 281.8,414.8 280.8,414.7 279.8,414.7 278.8,415.8 277.8,416.2 276.8,416.1 275.8,415.1 274.8,415.1 273.8,415.4 272.8,415.2 271.8,415.3 270.8,414.9 269.8,414.8 268.8,414.9 267.8,415 266.8,415.1 265.8,415.7 264.8,415.8 263.8,415.6 262.8,414.8 261.8,414.5 260.8,414.5 259.8,414.9 258.8,415.9 257.8,416.3 256.8,415.7 255.8,415.4 254.8,415.3 253.8,415.4 252.8,414.9 251.8,415.1 250.8,414.8 249.8,415.1 248.8,415.5 247.8,416.1 246.8,416.1 245.8,416.1 244.8,415.3 243.8,414.7 242.8,414.5 241.8,414.8 240.8,414.7 239.8,414.8 238.8,414.8 237.8,415.1 236.8,415.3 235.8,415.5 234.8,415.8 233.8,415.6 232.8,415.5 231.8,415.1 230.8,414.7 229.8,414.6 228.8,414.5 227.8,414.6 226.8,414.5 225.8,414.5 224.8,414.9 223.8,414.7 222.8,415.3 221.8,415.2 220.8,415.5 219.8,415.4 218.8,415.5 217.8,415.6 216.8,415.4 215.8,415.3 214.8,415.3 213.8,415.1 212.8,415.1 211.8,414.8 210.8,415.2 209.8,415.1 208.8,414.7 207.8,414.7 206.8,414.7 205.8,415.2 204.8,415.2 203.8,415.1 202.8,415.2 201.8,415.2 200.8,415 199.8,414.5 198.8,414.3 197.8,414.7 196.8,415.1 195.8,415.2 194.8,415.3 193.8,415 192.8,414.8 191.8,414.6 190.8,415.1 189.8,415.3 188.8,415.3 187.8,415.3 186.8,415 185.8,415.2 184.8,415 183.8,415.3 182.8,415.2 181.8,415.1 180.8,415.1 179.8,414.8 178.8,415.1 177.8,415 176.8,415.4 175.8,415.4 174.8,415.6 173.8,415.4 172.8,415.7 171.8,416.1 170.8,415.6 169.8,414.9 168.8,414.8 167.8,415 166.8,415.3 165.8,415.4 164.8,415.3 163.8,415.6 162.8,415.8 161.8,415.7 160.8,415.2 159.8,415.5 158.8,415.4 157.8,415.7 156.8,415.1 155.8,415.2 154.8,415.4 153.8,415.2 152.8,414.9 151.8,414.8 150.8,415.5 149.8,415.1 148.8,414.8 147.8,415.1 146.8,415.2 145.8,415.4 144.8,415 143.8,415.3 142.8,415.3 141.8,415.2 140.8,415 139.8,414.9 138.8,415.4 137.8,415.3 136.8,415.8 135.8,415.7 134.8,415.5 133.8,415.4 132.8,415.3 131.8,415 130.8,415 129.8,414.8 128.8,414.6 127.8,414.5 126.8,414.8 125.8,415.1 124.8,415 123.8,414.9 122.8,415.8 121.8,416.1 120.8,415.8 119.8,415 118.8,415.1 117.8,415 116.8,415.1 115.8,415.3 114.8,415.1 113.8,415 112.8,414.6 111.8,414.9 110.8,415 109.8,415 108.8,415 107.8,415 106.8,415.3 105.8,415.1 104.8,416.1 103.8,416.8 102.8,416.5 101.8,415.3 100.8,414.9 99.8,414.8 98.8,415.1 97.8,415.1 96.8,415.3 95.8,415 94.8,415 93.8,414.8 92.8,414.9 91.8,415.1 90.8,414.8 89.8,415 88.8,415.2 87.8,415.2 86.8,415.3 85.8,414.7 84.8,414.6 83.8,414.6 82.8,414.9 81.8,415.3 80.8,415.3 79.8,415.2 78.8,414.7 77.8,414.6 76.8,414.8 75.8,415.1 74.8,415.1 73.8,415.1 72.8,415.1 71.8,416.3 70.8,416.4 69.8,415.6 68.8,414.6 67.8,414.7 66.8,415.1 65.8,415.1 64.8,415.2 63.8,415.7 62.8,415.9 61.8,415.6 60.8,414.7 59.8,413.1Z" fill="#0aa314" stroke="#0aa314" stroke-width="1.0" stroke-linejoin="round"/><path d="M127,412.7V415.8M258,412.6V409.2" stroke="#0aa314" stroke-width="2.4" stroke-linecap="round"/></g><path d="M37.5,421.5h1.6M37.5,418.1h1.6M37.5,414.6h1.6M37.5,411.1h1.6M37.5,407.7h1.6M37.5,404.2h1.6M37.5,400.8h1.6M37.5,397.3h1.6M37.5,393.8h1.6M37.5,386.9h1.6M37.5,383.4h1.6M37.5,380h1.6M37.5,376.5h1.6M37.5,373h1.6M37.5,369.6h1.6M37.5,366.1h1.6M37.5,362.6h1.6M37.5,359.2h1.6M37.5,352.3h1.6M37.5,348.8h1.6M37.5,345.3h1.6M37.5,341.9h1.6M37.5,338.4h1.6" stroke="#555" stroke-width="0.55"/><path d="M37.5,425h3.2M37.5,390.4h3.2M37.5,355.7h3.2M38.1,425v-3.2M104.4,425v-3.2M170.7,425v-3.2M237.1,425v-3.2M303.4,425v-3.2M369.7,425v-3.2M436,425v-3.2M502.4,425v-3.2" stroke="#222" stroke-width="0.8"/><rect x="37.5" y="338.4" width="509.9" height="86.6" fill="none" stroke="#1a1a1a" stroke-width="1.05"/><g font-family="'Liberation Serif','Times New Roman',serif" font-weight="bold" stroke="#000" stroke-width="0.18" font-size="9.15" fill="#000"><text x="34" y="428.2" text-anchor="end">200</text><text x="34" y="393.6" text-anchor="end">400</text><text x="34" y="358.9" text-anchor="end">600</text></g><text font-family="'Liberation Serif','Times New Roman',serif" font-weight="bold" stroke="#000" stroke-width="0.18" font-size="9.15" fill="#000" text-anchor="middle" transform="translate(14.2,381.7) rotate(-90)">S(mm)</text><g font-family="'Liberation Serif','Times New Roman',serif" font-weight="bold" stroke="#000" stroke-width="0.18" font-size="9.15" fill="#000"><text x="38.1" y="434.5" text-anchor="middle">2022-01-31</text><text x="104.4" y="434.5" text-anchor="middle">2022-02-03</text><text x="170.7" y="434.5" text-anchor="middle">2022-02-06</text><text x="237.1" y="434.5" text-anchor="middle">2022-02-09</text><text x="303.4" y="434.5" text-anchor="middle">2022-02-12</text><text x="369.7" y="434.5" text-anchor="middle">2022-02-15</text><text x="436" y="434.5" text-anchor="middle">2022-02-18</text><text x="502.4" y="434.5" text-anchor="middle">2022-02-21</text></g><text font-family="'Liberation Serif','Times New Roman',serif" font-weight="bold" stroke="#000" stroke-width="0.18" font-size="9.15" fill="#000" x="292.3" y="446.6" text-anchor="middle">TIME(YYYY-MM-DD)</text><rect x="198.5" y="3.9" width="187.7" height="14.3" rx="1.6" fill="#fff" stroke="#d2d2d2" stroke-width="0.8"/><line x1="201.1" y1="10.9" x2="220.9" y2="10.9" stroke="#0b77bf" stroke-width="1.5" stroke-linecap="butt"/><circle cx="211" cy="10.9" r="1.75" fill="#0b77bf"/><text font-family="'Liberation Serif','Times New Roman',serif" font-weight="bold" stroke="#000" stroke-width="0.18" font-size="9.15" fill="#000" x="227.9" y="14.1">NN06</text><line x1="267.6" y1="10.9" x2="287.4" y2="10.9" stroke="#ff7f07" stroke-width="1.5" stroke-linecap="butt"/><circle cx="277.5" cy="10.9" r="1.75" fill="#ff7f07"/><text font-family="'Liberation Serif','Times New Roman',serif" font-weight="bold" stroke="#000" stroke-width="0.18" font-size="9.15" fill="#000" x="294.3" y="14.1">NN07</text><line x1="333.8" y1="10.9" x2="353.6" y2="10.9" stroke="#0aa314" stroke-width="1.5" stroke-linecap="butt"/><circle cx="343.7" cy="10.9" r="1.75" fill="#0aa314"/><text font-family="'Liberation Serif','Times New Roman',serif" font-weight="bold" stroke="#000" stroke-width="0.18" font-size="9.15" fill="#000" x="360.5" y="14.1">NN08</text></svg></body></html>
